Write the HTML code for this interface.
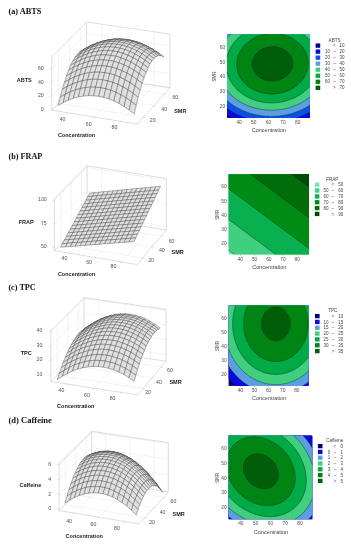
<!DOCTYPE html>
<html lang="en"><head><meta charset="utf-8"><title>Response surface and contour plots</title>
<style>html,body{margin:0;padding:0;background:#fff}body{width:351px;height:550px;overflow:hidden}svg{display:block}</style></head><body>
<svg width="351" height="550" viewBox="0 0 351 550">
<rect width="351" height="550" fill="#fff"/>
<text x="8.4" y="14.4" textLength="33.1" lengthAdjust="spacingAndGlyphs" font-family='"Liberation Serif", serif' font-size="8.4" font-weight="bold" fill="#111">(a) ABTS</text>
<text x="8.4" y="158.9" textLength="34" lengthAdjust="spacingAndGlyphs" font-family='"Liberation Serif", serif' font-size="8.4" font-weight="bold" fill="#111">(b) FRAP</text>
<text x="8.4" y="289.8" textLength="27.4" lengthAdjust="spacingAndGlyphs" font-family='"Liberation Serif", serif' font-size="8.4" font-weight="bold" fill="#111">(c) TPC</text>
<text x="8.4" y="422.5" textLength="43.5" lengthAdjust="spacingAndGlyphs" font-family='"Liberation Serif", serif' font-size="8.4" font-weight="bold" fill="#111">(d) Caffeine</text>
<g font-family='"Liberation Sans", sans-serif'><line x1="51.8" y1="110.2" x2="86.6" y2="75.4" stroke="#e6e6e6" stroke-width="0.5"/><line x1="86.6" y1="75.4" x2="170" y2="87.7" stroke="#e6e6e6" stroke-width="0.5"/><line x1="51.8" y1="96.33" x2="86.6" y2="61.48" stroke="#e6e6e6" stroke-width="0.5"/><line x1="86.6" y1="61.48" x2="170" y2="73.73" stroke="#e6e6e6" stroke-width="0.5"/><line x1="51.8" y1="82.47" x2="86.6" y2="47.56" stroke="#e6e6e6" stroke-width="0.5"/><line x1="86.6" y1="47.56" x2="170" y2="59.76" stroke="#e6e6e6" stroke-width="0.5"/><line x1="51.8" y1="68.6" x2="86.6" y2="33.64" stroke="#e6e6e6" stroke-width="0.5"/><line x1="86.6" y1="33.64" x2="170" y2="45.79" stroke="#e6e6e6" stroke-width="0.5"/><line x1="101.66" y1="77.62" x2="101.66" y2="24.19" stroke="#e6e6e6" stroke-width="0.5"/><line x1="67.23" y1="112.71" x2="101.66" y2="77.62" stroke="#e6e6e6" stroke-width="0.5"/><line x1="127.97" y1="81.5" x2="127.97" y2="28" stroke="#e6e6e6" stroke-width="0.5"/><line x1="94.16" y1="117.09" x2="127.97" y2="81.5" stroke="#e6e6e6" stroke-width="0.5"/><line x1="154.27" y1="85.38" x2="154.27" y2="31.82" stroke="#e6e6e6" stroke-width="0.5"/><line x1="121.09" y1="121.48" x2="154.27" y2="85.38" stroke="#e6e6e6" stroke-width="0.5"/><line x1="58.47" y1="103.53" x2="58.47" y2="50.29" stroke="#e6e6e6" stroke-width="0.5"/><line x1="58.47" y1="103.53" x2="143.49" y2="117.12" stroke="#e6e6e6" stroke-width="0.5"/><line x1="69.55" y1="92.45" x2="69.55" y2="39.15" stroke="#e6e6e6" stroke-width="0.5"/><line x1="69.55" y1="92.45" x2="153.93" y2="105.54" stroke="#e6e6e6" stroke-width="0.5"/><line x1="80.62" y1="81.38" x2="80.62" y2="28.01" stroke="#e6e6e6" stroke-width="0.5"/><line x1="80.62" y1="81.38" x2="164.36" y2="93.95" stroke="#e6e6e6" stroke-width="0.5"/><line x1="51.8" y1="110.2" x2="51.8" y2="57" stroke="#c6c6c6" stroke-width="0.6"/><line x1="86.6" y1="75.4" x2="86.6" y2="22" stroke="#c6c6c6" stroke-width="0.6"/><line x1="170" y1="87.7" x2="170" y2="34.1" stroke="#c6c6c6" stroke-width="0.6"/><line x1="51.8" y1="57" x2="86.6" y2="22" stroke="#c6c6c6" stroke-width="0.6"/><line x1="86.6" y1="22" x2="170" y2="34.1" stroke="#c6c6c6" stroke-width="0.6"/><line x1="51.8" y1="110.2" x2="137.2" y2="124.1" stroke="#c6c6c6" stroke-width="0.6"/><line x1="137.2" y1="124.1" x2="170" y2="87.7" stroke="#c6c6c6" stroke-width="0.6"/><line x1="51.8" y1="110.2" x2="86.6" y2="75.4" stroke="#c6c6c6" stroke-width="0.6"/><line x1="86.6" y1="75.4" x2="170" y2="87.7" stroke="#c6c6c6" stroke-width="0.6"/><g fill="#e0e0e0" stroke="#383838" stroke-width="0.38" stroke-linejoin="round"><polygon points="87.3,50.9 92.27,47.8 94.35,49.12 89.38,52.24"/><polygon points="85.22,50.27 90.2,47.19 92.27,47.8 87.3,50.9"/><polygon points="92.27,47.8 97.24,45.19 99.31,46.49 94.35,49.12"/><polygon points="83.14,50.33 88.12,47.27 90.2,47.19 85.22,50.27"/><polygon points="90.2,47.19 95.18,44.59 97.24,45.19 92.27,47.8"/><polygon points="97.24,45.19 102.21,43.07 104.27,44.35 99.31,46.49"/><polygon points="81.05,51.09 86.05,48.04 88.12,47.27 83.14,50.33"/><polygon points="88.12,47.27 93.11,44.69 95.18,44.59 90.2,47.19"/><polygon points="95.18,44.59 100.15,42.49 102.21,43.07 97.24,45.19"/><polygon points="102.21,43.07 107.19,41.44 109.24,42.7 104.27,44.35"/><polygon points="78.97,52.55 83.97,49.52 86.05,48.04 81.05,51.09"/><polygon points="86.05,48.04 91.04,45.48 93.11,44.69 88.12,47.27"/><polygon points="93.11,44.69 98.09,42.6 100.15,42.49 95.18,44.59"/><polygon points="100.15,42.49 105.13,40.87 107.19,41.44 102.21,43.07"/><polygon points="107.19,41.44 112.16,40.29 114.2,41.54 109.24,42.7"/><polygon points="76.89,54.71 81.9,51.69 83.97,49.52 78.97,52.55"/><polygon points="83.97,49.52 88.97,46.98 91.04,45.48 86.05,48.04"/><polygon points="91.04,45.48 96.03,43.41 98.09,42.6 93.11,44.69"/><polygon points="98.09,42.6 103.08,41 105.13,40.87 100.15,42.49"/><polygon points="105.13,40.87 110.11,39.74 112.16,40.29 107.19,41.44"/><polygon points="112.16,40.29 117.13,39.64 119.17,40.87 114.2,41.54"/><polygon points="74.81,57.56 79.82,54.56 81.9,51.69 76.89,54.71"/><polygon points="81.9,51.69 86.9,49.17 88.97,46.98 83.97,49.52"/><polygon points="88.97,46.98 93.97,44.92 96.03,43.41 91.04,45.48"/><polygon points="96.03,43.41 101.03,41.83 103.08,41 98.09,42.6"/><polygon points="103.08,41 108.06,39.89 110.11,39.74 105.13,40.87"/><polygon points="110.11,39.74 115.09,39.1 117.13,39.64 112.16,40.29"/><polygon points="117.13,39.64 122.1,39.47 124.13,40.69 119.17,40.87"/><polygon points="72.73,61.11 77.75,58.13 79.82,54.56 74.81,57.56"/><polygon points="79.82,54.56 84.84,52.06 86.9,49.17 81.9,51.69"/><polygon points="86.9,49.17 91.91,47.13 93.97,44.92 88.97,46.98"/><polygon points="93.97,44.92 98.97,43.36 101.03,41.83 96.03,43.41"/><polygon points="101.03,41.83 106.02,40.74 108.06,39.89 103.08,41"/><polygon points="108.06,39.89 113.05,39.27 115.09,39.1 110.11,39.74"/><polygon points="115.09,39.1 120.07,38.96 122.1,39.47 117.13,39.64"/><polygon points="122.1,39.47 127.07,39.8 129.1,41 124.13,40.69"/><polygon points="70.64,65.35 75.67,62.39 77.75,58.13 72.73,61.11"/><polygon points="77.75,58.13 82.77,55.64 84.84,52.06 79.82,54.56"/><polygon points="84.84,52.06 89.85,50.04 91.91,47.13 86.9,49.17"/><polygon points="91.91,47.13 96.92,45.58 98.97,43.36 93.97,44.92"/><polygon points="98.97,43.36 103.97,42.28 106.02,40.74 101.03,41.83"/><polygon points="106.02,40.74 111.01,40.13 113.05,39.27 108.06,39.89"/><polygon points="113.05,39.27 118.04,39.14 120.07,38.96 115.09,39.1"/><polygon points="120.07,38.96 125.05,39.3 127.07,39.8 122.1,39.47"/><polygon points="127.07,39.8 132.04,40.62 134.06,41.8 129.1,41"/><polygon points="68.56,70.29 73.6,67.35 75.67,62.39 70.64,65.35"/><polygon points="75.67,62.39 80.7,59.92 82.77,55.64 77.75,58.13"/><polygon points="82.77,55.64 87.79,53.64 89.85,50.04 84.84,52.06"/><polygon points="89.85,50.04 94.86,48.51 96.92,45.58 91.91,47.13"/><polygon points="96.92,45.58 101.93,44.53 103.97,42.28 98.97,43.36"/><polygon points="103.97,42.28 108.97,41.7 111.01,40.13 106.02,40.74"/><polygon points="111.01,40.13 116,40.02 118.04,39.14 113.05,39.27"/><polygon points="118.04,39.14 123.02,39.5 125.05,39.3 120.07,38.96"/><polygon points="125.05,39.3 130.02,40.13 132.04,40.62 127.07,39.8"/><polygon points="132.04,40.62 137.01,41.93 139.02,43.1 134.06,41.8"/><polygon points="66.48,75.93 71.52,73.01 73.6,67.35 68.56,70.29"/><polygon points="73.6,67.35 78.63,64.9 80.7,59.92 75.67,62.39"/><polygon points="80.7,59.92 85.73,57.94 87.79,53.64 82.77,55.64"/><polygon points="87.79,53.64 92.81,52.13 94.86,48.51 89.85,50.04"/><polygon points="94.86,48.51 99.88,47.47 101.93,44.53 96.92,45.58"/><polygon points="101.93,44.53 106.93,43.96 108.97,41.7 103.97,42.28"/><polygon points="108.97,41.7 113.97,41.6 116,40.02 111.01,40.13"/><polygon points="116,40.02 121,40.39 123.02,39.5 118.04,39.14"/><polygon points="123.02,39.5 128.01,40.35 130.02,40.13 125.05,39.3"/><polygon points="130.02,40.13 135,41.46 137.01,41.93 132.04,40.62"/><polygon points="137.01,41.93 141.99,43.73 143.99,44.88 139.02,43.1"/><polygon points="64.4,82.26 69.45,79.36 71.52,73.01 66.48,75.93"/><polygon points="71.52,73.01 76.57,70.57 78.63,64.9 73.6,67.35"/><polygon points="78.63,64.9 83.67,62.94 85.73,57.94 80.7,59.92"/><polygon points="85.73,57.94 90.76,56.45 92.81,52.13 87.79,53.64"/><polygon points="92.81,52.13 97.83,51.11 99.88,47.47 94.86,48.51"/><polygon points="99.88,47.47 104.89,46.91 106.93,43.96 101.93,44.53"/><polygon points="106.93,43.96 111.94,43.88 113.97,41.6 108.97,41.7"/><polygon points="113.97,41.6 118.97,41.99 121,40.39 116,40.02"/><polygon points="121,40.39 125.99,41.26 128.01,40.35 123.02,39.5"/><polygon points="128.01,40.35 132.99,41.69 135,41.46 130.02,40.13"/><polygon points="135,41.46 139.98,43.27 141.99,43.73 137.01,41.93"/><polygon points="141.99,43.73 146.96,46.02 148.95,47.16 143.99,44.88"/><polygon points="62.32,89.28 67.37,86.4 69.45,79.36 64.4,82.26"/><polygon points="69.45,79.36 74.5,76.94 76.57,70.57 71.52,73.01"/><polygon points="76.57,70.57 81.61,68.63 83.67,62.94 78.63,64.9"/><polygon points="83.67,62.94 88.7,61.46 90.76,56.45 85.73,57.94"/><polygon points="90.76,56.45 95.79,55.44 97.83,51.11 92.81,52.13"/><polygon points="97.83,51.11 102.85,50.57 104.89,46.91 99.88,47.47"/><polygon points="104.89,46.91 109.91,46.85 111.94,43.88 106.93,43.96"/><polygon points="111.94,43.88 116.95,44.29 118.97,41.99 113.97,41.6"/><polygon points="118.97,41.99 123.97,42.87 125.99,41.26 121,40.39"/><polygon points="125.99,41.26 130.98,42.62 132.99,41.69 128.01,40.35"/><polygon points="132.99,41.69 137.98,43.52 139.98,43.27 135,41.46"/><polygon points="139.98,43.27 144.96,45.58 146.96,46.02 141.99,43.73"/><polygon points="146.96,46.02 151.93,48.8 153.92,49.92 148.95,47.16"/><polygon points="60.23,97 65.3,94.14 67.37,86.4 62.32,89.28"/><polygon points="67.37,86.4 72.43,84 74.5,76.94 69.45,79.36"/><polygon points="74.5,76.94 79.55,75.01 81.61,68.63 76.57,70.57"/><polygon points="81.61,68.63 86.65,67.17 88.7,61.46 83.67,62.94"/><polygon points="88.7,61.46 93.74,60.47 95.79,55.44 90.76,56.45"/><polygon points="95.79,55.44 100.82,54.92 102.85,50.57 97.83,51.11"/><polygon points="102.85,50.57 107.88,50.53 109.91,46.85 104.89,46.91"/><polygon points="109.91,46.85 114.92,47.28 116.95,44.29 111.94,43.88"/><polygon points="116.95,44.29 121.95,45.19 123.97,42.87 118.97,41.99"/><polygon points="123.97,42.87 128.97,44.25 130.98,42.62 125.99,41.26"/><polygon points="130.98,42.62 135.98,44.47 137.98,43.52 132.99,41.69"/><polygon points="137.98,43.52 142.96,45.84 144.96,45.58 139.98,43.27"/><polygon points="144.96,45.58 149.94,48.38 151.93,48.8 146.96,46.02"/><polygon points="151.93,48.8 156.9,52.08 158.88,53.18 153.92,49.92"/><polygon points="58.15,105.41 63.22,102.57 65.3,94.14 60.23,97"/><polygon points="65.3,94.14 70.36,91.76 72.43,84 67.37,86.4"/><polygon points="72.43,84 77.49,82.09 79.55,75.01 74.5,76.94"/><polygon points="79.55,75.01 84.6,73.57 86.65,67.17 81.61,68.63"/><polygon points="86.65,67.17 91.69,66.2 93.74,60.47 88.7,61.46"/><polygon points="93.74,60.47 98.78,59.97 100.82,54.92 95.79,55.44"/><polygon points="100.82,54.92 105.84,54.9 107.88,50.53 102.85,50.57"/><polygon points="107.88,50.53 112.9,50.97 114.92,47.28 109.91,46.85"/><polygon points="114.92,47.28 119.94,48.2 121.95,45.19 116.95,44.29"/><polygon points="121.95,45.19 126.96,46.58 128.97,44.25 123.97,42.87"/><polygon points="128.97,44.25 133.97,46.11 135.98,44.47 130.98,42.62"/><polygon points="135.98,44.47 140.97,46.81 142.96,45.84 137.98,43.52"/><polygon points="142.96,45.84 147.95,48.66 149.94,48.38 144.96,45.58"/><polygon points="149.94,48.38 154.92,51.67 156.9,52.08 151.93,48.8"/><polygon points="156.9,52.08 161.87,55.85 163.85,56.94 158.88,53.18"/><polygon points="63.22,102.57 68.29,100.21 70.36,91.76 65.3,94.14"/><polygon points="70.36,91.76 75.43,89.87 77.49,82.09 72.43,84"/><polygon points="77.49,82.09 82.54,80.67 84.6,73.57 79.55,75.01"/><polygon points="84.6,73.57 89.65,72.62 91.69,66.2 86.65,67.17"/><polygon points="91.69,66.2 96.74,65.72 98.78,59.97 93.74,60.47"/><polygon points="98.78,59.97 103.81,59.96 105.84,54.9 100.82,54.92"/><polygon points="105.84,54.9 110.87,55.36 112.9,50.97 107.88,50.53"/><polygon points="112.9,50.97 117.92,51.9 119.94,48.2 114.92,47.28"/><polygon points="119.94,48.2 124.95,49.6 126.96,46.58 121.95,45.19"/><polygon points="126.96,46.58 131.97,48.46 133.97,46.11 128.97,44.25"/><polygon points="133.97,46.11 138.97,48.47 140.97,46.81 135.98,44.47"/><polygon points="140.97,46.81 145.96,49.64 147.95,48.66 142.96,45.84"/><polygon points="147.95,48.66 152.94,51.97 154.92,51.67 149.94,48.38"/><polygon points="154.92,51.67 159.9,55.46 161.87,55.85 156.9,52.08"/><polygon points="68.29,100.21 73.37,98.33 75.43,89.87 70.36,91.76"/><polygon points="75.43,89.87 80.49,88.46 82.54,80.67 77.49,82.09"/><polygon points="82.54,80.67 87.6,79.74 89.65,72.62 84.6,73.57"/><polygon points="89.65,72.62 94.7,72.16 96.74,65.72 91.69,66.2"/><polygon points="96.74,65.72 101.78,65.73 103.81,59.96 98.78,59.97"/><polygon points="103.81,59.96 108.85,60.44 110.87,55.36 105.84,54.9"/><polygon points="110.87,55.36 115.9,56.31 117.92,51.9 112.9,50.97"/><polygon points="117.92,51.9 122.94,53.33 124.95,49.6 119.94,48.2"/><polygon points="124.95,49.6 129.96,51.5 131.97,48.46 126.96,46.58"/><polygon points="131.97,48.46 136.98,50.83 138.97,48.47 133.97,46.11"/><polygon points="138.97,48.47 143.97,51.32 145.96,49.64 140.97,46.81"/><polygon points="145.96,49.64 150.95,52.96 152.94,51.97 147.95,48.66"/><polygon points="152.94,51.97 157.92,55.77 159.9,55.46 154.92,51.67"/><polygon points="73.37,98.33 78.44,96.95 80.49,88.46 75.43,89.87"/><polygon points="80.49,88.46 85.55,87.55 87.6,79.74 82.54,80.67"/><polygon points="87.6,79.74 92.66,79.29 94.7,72.16 89.65,72.62"/><polygon points="94.7,72.16 99.75,72.18 101.78,65.73 96.74,65.72"/><polygon points="101.78,65.73 106.82,66.22 108.85,60.44 103.81,59.96"/><polygon points="108.85,60.44 113.88,61.41 115.9,56.31 110.87,55.36"/><polygon points="115.9,56.31 120.93,57.75 122.94,53.33 117.92,51.9"/><polygon points="122.94,53.33 127.96,55.25 129.96,51.5 124.95,49.6"/><polygon points="129.96,51.5 134.98,53.89 136.98,50.83 131.97,48.46"/><polygon points="136.98,50.83 141.98,53.7 143.97,51.32 138.97,48.47"/><polygon points="143.97,51.32 148.97,54.66 150.95,52.96 145.96,49.64"/><polygon points="150.95,52.96 155.95,56.78 157.92,55.77 152.94,51.97"/><polygon points="78.44,96.95 83.51,96.05 85.55,87.55 80.49,88.46"/><polygon points="85.55,87.55 90.62,87.12 92.66,79.29 87.6,79.74"/><polygon points="92.66,79.29 97.72,79.34 99.75,72.18 94.7,72.16"/><polygon points="99.75,72.18 104.8,72.7 106.82,66.22 101.78,65.73"/><polygon points="106.82,66.22 111.86,67.21 113.88,61.41 108.85,60.44"/><polygon points="113.88,61.41 118.92,62.87 120.93,57.75 115.9,56.31"/><polygon points="120.93,57.75 125.96,59.68 127.96,55.25 122.94,53.33"/><polygon points="127.96,55.25 132.98,57.65 134.98,53.89 129.96,51.5"/><polygon points="134.98,53.89 139.99,56.77 141.98,53.7 136.98,50.83"/><polygon points="141.98,53.7 146.99,57.05 148.97,54.66 143.97,51.32"/><polygon points="148.97,54.66 153.97,58.49 155.95,56.78 150.95,52.96"/><polygon points="83.51,96.05 88.58,95.65 90.62,87.12 85.55,87.55"/><polygon points="90.62,87.12 95.68,87.18 97.72,79.34 92.66,79.29"/><polygon points="97.72,79.34 102.77,79.87 104.8,72.7 99.75,72.18"/><polygon points="104.8,72.7 109.85,73.7 111.86,67.21 106.82,66.22"/><polygon points="111.86,67.21 116.91,68.69 118.92,62.87 113.88,61.41"/><polygon points="118.92,62.87 123.95,64.82 125.96,59.68 120.93,57.75"/><polygon points="125.96,59.68 130.99,62.11 132.98,57.65 127.96,55.25"/><polygon points="132.98,57.65 138,60.55 139.99,56.77 134.98,53.89"/><polygon points="139.99,56.77 145.01,60.15 146.99,57.05 141.98,53.7"/><polygon points="146.99,57.05 152,60.9 153.97,58.49 148.97,54.66"/><polygon points="88.58,95.65 93.65,95.73 95.68,87.18 90.62,87.12"/><polygon points="95.68,87.18 100.75,87.74 102.77,79.87 97.72,79.34"/><polygon points="102.77,79.87 107.83,80.89 109.85,73.7 104.8,72.7"/><polygon points="109.85,73.7 114.9,75.2 116.91,68.69 111.86,67.21"/><polygon points="116.91,68.69 121.95,70.65 123.95,64.82 118.92,62.87"/><polygon points="123.95,64.82 128.99,67.26 130.99,62.11 125.96,59.68"/><polygon points="130.99,62.11 136.01,65.02 138,60.55 132.98,57.65"/><polygon points="138,60.55 143.03,63.94 145.01,60.15 139.99,56.77"/><polygon points="145.01,60.15 150.02,64.01 152,60.9 146.99,57.05"/><polygon points="93.65,95.73 98.72,96.3 100.75,87.74 95.68,87.18"/><polygon points="100.75,87.74 105.81,88.78 107.83,80.89 102.77,79.87"/><polygon points="107.83,80.89 112.89,82.41 114.9,75.2 109.85,73.7"/><polygon points="114.9,75.2 119.95,77.18 121.95,70.65 116.91,68.69"/><polygon points="121.95,70.65 126.99,73.11 128.99,67.26 123.95,64.82"/><polygon points="128.99,67.26 134.03,70.19 136.01,65.02 130.99,62.11"/><polygon points="136.01,65.02 141.04,68.43 143.03,63.94 138,60.55"/><polygon points="143.03,63.94 148.05,67.82 150.02,64.01 145.01,60.15"/><polygon points="98.72,96.3 103.79,97.36 105.81,88.78 100.75,87.74"/><polygon points="105.81,88.78 110.88,90.31 112.89,82.41 107.83,80.89"/><polygon points="112.89,82.41 117.94,84.41 119.95,77.18 114.9,75.2"/><polygon points="119.95,77.18 125,79.66 126.99,73.11 121.95,70.65"/><polygon points="126.99,73.11 132.04,76.06 134.03,70.19 128.99,67.26"/><polygon points="134.03,70.19 139.06,73.62 141.04,68.43 136.01,65.02"/><polygon points="141.04,68.43 146.07,72.33 148.05,67.82 143.03,63.94"/><polygon points="103.79,97.36 108.87,98.9 110.88,90.31 105.81,88.78"/><polygon points="110.88,90.31 115.94,92.33 117.94,84.41 112.89,82.41"/><polygon points="117.94,84.41 123,86.9 125,79.66 119.95,77.18"/><polygon points="125,79.66 130.05,82.63 132.04,76.06 126.99,73.11"/><polygon points="132.04,76.06 137.08,79.5 139.06,73.62 134.03,70.19"/><polygon points="139.06,73.62 144.1,77.53 146.07,72.33 141.04,68.43"/><polygon points="108.87,98.9 113.94,100.94 115.94,92.33 110.88,90.31"/><polygon points="115.94,92.33 121,94.84 123,86.9 117.94,84.41"/><polygon points="123,86.9 128.06,89.89 130.05,82.63 125,79.66"/><polygon points="130.05,82.63 135.1,86.08 137.08,79.5 132.04,76.06"/><polygon points="137.08,79.5 142.12,83.43 144.1,77.53 139.06,73.62"/><polygon points="113.94,100.94 119.01,103.47 121,94.84 115.94,92.33"/><polygon points="121,94.84 126.07,97.84 128.06,89.89 123,86.9"/><polygon points="128.06,89.89 133.11,93.36 135.1,86.08 130.05,82.63"/><polygon points="135.1,86.08 140.15,90.03 142.12,83.43 137.08,79.5"/><polygon points="119.01,103.47 124.08,106.49 126.07,97.84 121,94.84"/><polygon points="126.07,97.84 131.13,101.33 133.11,93.36 128.06,89.89"/><polygon points="133.11,93.36 138.17,97.33 140.15,90.03 135.1,86.08"/><polygon points="124.08,106.49 129.15,110 131.13,101.33 126.07,97.84"/><polygon points="131.13,101.33 136.2,105.32 138.17,97.33 133.11,93.36"/><polygon points="129.15,110 134.22,114.01 136.2,105.32 131.13,101.33"/></g><line x1="49.8" y1="110.2" x2="51.8" y2="110.2" stroke="#c6c6c6" stroke-width="0.5"/><text x="43.7" y="111.37" text-anchor="end" font-size="5.2" fill="#505050">0</text><line x1="49.8" y1="96.3" x2="51.8" y2="96.3" stroke="#c6c6c6" stroke-width="0.5"/><text x="43.7" y="97.47" text-anchor="end" font-size="5.2" fill="#505050">20</text><line x1="49.8" y1="82.5" x2="51.8" y2="82.5" stroke="#c6c6c6" stroke-width="0.5"/><text x="43.7" y="83.67" text-anchor="end" font-size="5.2" fill="#505050">40</text><line x1="49.8" y1="68.6" x2="51.8" y2="68.6" stroke="#c6c6c6" stroke-width="0.5"/><text x="43.7" y="69.77" text-anchor="end" font-size="5.2" fill="#505050">60</text><line x1="67.23" y1="112.71" x2="66.43" y2="114.51" stroke="#c6c6c6" stroke-width="0.5"/><text x="62.6" y="120.97" text-anchor="middle" font-size="5.2" fill="#505050">40</text><line x1="94.16" y1="117.09" x2="93.36" y2="118.89" stroke="#c6c6c6" stroke-width="0.5"/><text x="88.7" y="125.57" text-anchor="middle" font-size="5.2" fill="#505050">60</text><line x1="121.09" y1="121.48" x2="120.29" y2="123.28" stroke="#c6c6c6" stroke-width="0.5"/><text x="114.4" y="129.47" text-anchor="middle" font-size="5.2" fill="#505050">80</text><line x1="143.49" y1="117.12" x2="145.29" y2="117.92" stroke="#c6c6c6" stroke-width="0.5"/><text x="152.7" y="122.07" text-anchor="middle" font-size="5.2" fill="#505050">20</text><line x1="153.93" y1="105.54" x2="155.73" y2="106.34" stroke="#c6c6c6" stroke-width="0.5"/><text x="164.2" y="110.87" text-anchor="middle" font-size="5.2" fill="#505050">40</text><line x1="164.36" y1="93.95" x2="166.16" y2="94.75" stroke="#c6c6c6" stroke-width="0.5"/><text x="175.3" y="99.47" text-anchor="middle" font-size="5.2" fill="#505050">60</text><text x="16.8" y="81.8" font-size="5.5" font-weight="bold" fill="#222">ABTS</text><text x="57.9" y="136.8" font-size="5.5" font-weight="bold" fill="#222">Concentration</text><text x="174.2" y="113" font-size="5.5" font-weight="bold" fill="#222">SMR</text></g>
<g font-family='"Liberation Sans", sans-serif'><rect x="227" y="34.3" width="82.8" height="83.6" fill="#000080"/><path fill-rule="evenodd" d="M230.4 116.9L231.1 117.3L232.2 117.8L232.3 117.9L233.2 117.9L234.2 117.9L235.3 117.9L236.3 117.9L237.3 117.9L238.4 117.9L239.4 117.9L240.5 117.9L241.5 117.9L242.5 117.9L243.6 117.9L244.6 117.9L245.6 117.9L246.7 117.9L247.7 117.9L248.7 117.9L249.8 117.9L250.8 117.9L251.8 117.9L252.9 117.9L253.9 117.9L254.9 117.9L256 117.9L257 117.9L258.1 117.9L259.1 117.9L260.1 117.9L261.2 117.9L262.2 117.9L263.2 117.9L264.3 117.9L265.3 117.9L266.3 117.9L267.4 117.9L268.4 117.9L269.4 117.9L270.5 117.9L271.5 117.9L272.5 117.9L273.6 117.9L274.6 117.9L275.6 117.9L276.7 117.9L277.7 117.9L278.8 117.9L279.8 117.9L280.8 117.9L281.9 117.9L282.9 117.9L283.9 117.9L285 117.9L286 117.9L287 117.9L288.1 117.9L289.1 117.9L290.1 117.9L291.2 117.9L292.2 117.9L293.2 117.9L294.3 117.9L295.3 117.9L296.3 117.9L297.4 117.9L298.4 117.9L299.5 117.9L300.5 117.9L301.5 117.9L302.6 117.9L303.6 117.9L304.6 117.9L305.7 117.9L306.7 117.9L307.7 117.9L308.8 117.9L309.8 117.9L309.8 116.9L309.8 115.8L309.8 114.8L309.8 113.7L309.8 112.7L309.8 111.6L309.8 110.6L309.8 109.5L309.8 108.5L309.8 107.5L309.8 106.4L309.8 105.4L309.8 104.3L309.8 103.3L309.8 102.2L309.8 101.2L309.8 100.1L309.8 99.1L309.8 98L309.8 97L309.8 96L309.8 94.9L309.8 93.9L309.8 92.8L309.8 91.8L309.8 90.7L309.8 89.7L309.8 88.6L309.8 87.6L309.8 86.6L309.8 85.5L309.8 84.5L309.8 83.4L309.8 82.4L309.8 81.3L309.8 80.3L309.8 79.2L309.8 78.2L309.8 77.1L309.8 76.1L309.8 75.1L309.8 74L309.8 73L309.8 71.9L309.8 70.9L309.8 69.8L309.8 68.8L309.8 67.7L309.8 66.7L309.8 65.7L309.8 64.6L309.8 63.6L309.8 62.5L309.8 61.5L309.8 60.4L309.8 59.4L309.8 58.3L309.8 57.3L309.8 56.2L309.8 55.2L309.8 54.2L309.8 53.1L309.8 52.1L309.8 51L309.8 50L309.8 48.9L309.8 47.9L309.8 46.8L309.8 45.8L309.8 44.7L309.8 43.7L309.8 42.7L309.8 41.6L309.8 40.6L309.8 39.5L309.8 38.5L309.8 37.4L309.8 36.4L309.8 35.3L309.8 34.3L308.8 34.3L307.7 34.3L306.7 34.3L305.7 34.3L304.6 34.3L303.6 34.3L302.6 34.3L301.5 34.3L300.5 34.3L299.5 34.3L298.4 34.3L297.4 34.3L296.3 34.3L295.3 34.3L294.3 34.3L293.2 34.3L292.2 34.3L291.2 34.3L290.1 34.3L289.1 34.3L288.1 34.3L287 34.3L286 34.3L285 34.3L283.9 34.3L282.9 34.3L281.9 34.3L280.8 34.3L279.8 34.3L278.8 34.3L277.7 34.3L276.7 34.3L275.6 34.3L274.6 34.3L273.6 34.3L272.5 34.3L271.5 34.3L270.5 34.3L269.4 34.3L268.4 34.3L267.4 34.3L266.3 34.3L265.3 34.3L264.3 34.3L263.2 34.3L262.2 34.3L261.2 34.3L260.1 34.3L259.1 34.3L258.1 34.3L257 34.3L256 34.3L254.9 34.3L253.9 34.3L252.9 34.3L251.8 34.3L250.8 34.3L249.8 34.3L248.7 34.3L247.7 34.3L246.7 34.3L245.6 34.3L244.6 34.3L243.6 34.3L242.5 34.3L241.5 34.3L240.5 34.3L239.4 34.3L238.4 34.3L237.3 34.3L236.3 34.3L235.3 34.3L234.2 34.3L233.2 34.3L232.2 34.3L231.1 34.3L230.1 34.3L229.1 34.3L228 34.3L227 34.3L227 35.3L227 36.4L227 37.4L227 38.5L227 39.5L227 40.6L227 41.6L227 42.7L227 43.7L227 44.7L227 45.8L227 46.8L227 47.9L227 48.9L227 50L227 51L227 52.1L227 53.1L227 54.2L227 55.2L227 56.2L227 57.3L227 58.3L227 59.4L227 60.4L227 61.5L227 62.5L227 63.6L227 64.6L227 65.7L227 66.7L227 67.7L227 68.8L227 69.8L227 70.9L227 71.9L227 73L227 74L227 75.1L227 76.1L227 77.1L227 78.2L227 79.2L227 80.3L227 81.3L227 82.4L227 83.4L227 84.5L227 85.5L227 86.6L227 87.6L227 88.6L227 89.7L227 90.7L227 91.8L227 92.8L227 93.9L227 94.9L227 96L227 97L227 98L227 99.1L227 100.1L227 101.2L227 102.2L227 103.3L227 104.3L227 105.4L227 106.4L227 107.5L227 108.5L227 109.5L227 110.6L227 111.6L227 112.7L227 113.7L227 114.8L227 114.8L228 115.5L228.6 115.8L229.1 116.1L230.1 116.7Z" fill="#0a0ae0"/><path fill-rule="evenodd" d="M242.9 116.9L243.6 117.1L244.6 117.5L245.6 117.8L245.8 117.9L246.7 117.9L247.7 117.9L248.7 117.9L249.8 117.9L250.8 117.9L251.8 117.9L252.9 117.9L253.9 117.9L254.9 117.9L256 117.9L257 117.9L258.1 117.9L259.1 117.9L260.1 117.9L261.2 117.9L262.2 117.9L263.2 117.9L264.3 117.9L265.3 117.9L266.3 117.9L267.4 117.9L268.4 117.9L269.4 117.9L270.5 117.9L271.5 117.9L272.5 117.9L273.6 117.9L274.6 117.9L275.6 117.9L276.7 117.9L277.7 117.9L278.8 117.9L279.8 117.9L280.8 117.9L281.9 117.9L282.9 117.9L283.9 117.9L285 117.9L286 117.9L287 117.9L288.1 117.9L289.1 117.9L290.1 117.9L291.2 117.9L292.2 117.9L293.2 117.9L294.3 117.9L295.3 117.9L296.3 117.9L296.6 117.9L297.4 117.6L298.4 117.3L299.5 116.9L299.5 116.9L300.5 116.5L301.5 116.1L302.1 115.8L302.6 115.6L303.6 115.2L304.5 114.8L304.6 114.7L305.7 114.2L306.7 113.7L306.7 113.7L307.7 113.2L308.7 112.7L308.8 112.6L309.8 112L309.8 111.6L309.8 110.6L309.8 109.5L309.8 108.5L309.8 107.5L309.8 106.4L309.8 105.4L309.8 104.3L309.8 103.3L309.8 102.2L309.8 101.2L309.8 100.1L309.8 99.1L309.8 98L309.8 97L309.8 96L309.8 94.9L309.8 93.9L309.8 92.8L309.8 91.8L309.8 90.7L309.8 89.7L309.8 88.6L309.8 87.6L309.8 86.6L309.8 85.5L309.8 84.5L309.8 83.4L309.8 82.4L309.8 81.3L309.8 80.3L309.8 79.2L309.8 78.2L309.8 77.1L309.8 76.1L309.8 75.1L309.8 74L309.8 73L309.8 71.9L309.8 70.9L309.8 69.8L309.8 68.8L309.8 67.7L309.8 66.7L309.8 65.7L309.8 64.6L309.8 63.6L309.8 62.5L309.8 61.5L309.8 60.4L309.8 59.4L309.8 58.3L309.8 57.3L309.8 56.2L309.8 55.2L309.8 54.2L309.8 53.1L309.8 52.1L309.8 51L309.8 50L309.8 48.9L309.8 47.9L309.8 46.8L309.8 45.8L309.8 44.7L309.8 43.7L309.8 42.7L309.8 41.6L309.8 40.6L309.8 39.5L309.8 38.5L309.8 37.4L309.8 36.4L309.8 35.3L309.8 34.3L308.8 34.3L307.7 34.3L306.7 34.3L305.7 34.3L304.6 34.3L303.6 34.3L302.6 34.3L301.5 34.3L300.5 34.3L299.5 34.3L298.4 34.3L297.4 34.3L296.3 34.3L295.3 34.3L294.3 34.3L293.2 34.3L292.2 34.3L291.2 34.3L290.1 34.3L289.1 34.3L288.1 34.3L287 34.3L286 34.3L285 34.3L283.9 34.3L282.9 34.3L281.9 34.3L280.8 34.3L279.8 34.3L278.8 34.3L277.7 34.3L276.7 34.3L275.6 34.3L274.6 34.3L273.6 34.3L272.5 34.3L271.5 34.3L270.5 34.3L269.4 34.3L268.4 34.3L267.4 34.3L266.3 34.3L265.3 34.3L264.3 34.3L263.2 34.3L262.2 34.3L261.2 34.3L260.1 34.3L259.1 34.3L258.1 34.3L257 34.3L256 34.3L254.9 34.3L253.9 34.3L252.9 34.3L251.8 34.3L250.8 34.3L249.8 34.3L248.7 34.3L247.7 34.3L246.7 34.3L245.6 34.3L244.6 34.3L243.6 34.3L242.5 34.3L241.5 34.3L240.5 34.3L239.4 34.3L238.4 34.3L237.3 34.3L236.3 34.3L235.3 34.3L234.2 34.3L233.2 34.3L232.2 34.3L231.1 34.3L230.1 34.3L229.1 34.3L228 34.3L227 34.3L227 35.3L227 36.4L227 37.4L227 38.5L227 39.5L227 40.6L227 41.6L227 42.7L227 43.7L227 44.7L227 45.8L227 46.8L227 47.9L227 48.9L227 50L227 51L227 52.1L227 53.1L227 54.2L227 55.2L227 56.2L227 57.3L227 58.3L227 59.4L227 60.4L227 61.5L227 62.5L227 63.6L227 64.6L227 65.7L227 66.7L227 67.7L227 68.8L227 69.8L227 70.9L227 71.9L227 73L227 74L227 75.1L227 76.1L227 77.1L227 78.2L227 79.2L227 80.3L227 81.3L227 82.4L227 83.4L227 84.5L227 85.5L227 86.6L227 87.6L227 88.6L227 89.7L227 90.7L227 91.8L227 92.8L227 93.9L227 94.9L227 96L227 97L227 98L227 99.1L227 100.1L227 101.2L227 102.2L227 103.3L227 104.3L227 105.4L227 106.4L227 107.5L227 108.3L227.3 108.5L228 109L228.8 109.5L229.1 109.7L230.1 110.4L230.4 110.6L231.1 111L232.1 111.6L232.2 111.7L233.2 112.3L233.9 112.7L234.2 112.8L235.3 113.4L235.9 113.7L236.3 113.9L237.3 114.4L238 114.8L238.4 114.9L239.4 115.4L240.3 115.8L240.5 115.9L241.5 116.3L242.5 116.7Z" fill="#0b50e6"/><path fill-rule="evenodd" d="M261.8 115.8L262.2 115.9L263.2 116L264.3 116.1L265.3 116.2L266.3 116.3L267.4 116.3L268.4 116.4L269.4 116.4L270.5 116.4L271.5 116.4L272.5 116.4L273.6 116.4L274.6 116.3L275.6 116.3L276.7 116.2L277.7 116.1L278.8 116L279.8 115.9L280.7 115.8L280.8 115.8L281.9 115.6L282.9 115.5L283.9 115.3L285 115.1L286 114.9L286.7 114.8L287 114.7L288.1 114.5L289.1 114.2L290.1 113.9L290.9 113.7L291.2 113.7L292.2 113.4L293.2 113L294.3 112.7L294.3 112.7L295.3 112.3L296.3 112L297.2 111.6L297.4 111.6L298.4 111.2L299.5 110.7L299.8 110.6L300.5 110.3L301.5 109.8L302.1 109.5L302.6 109.3L303.6 108.8L304.2 108.5L304.6 108.3L305.7 107.7L306.1 107.5L306.7 107.1L307.7 106.5L307.9 106.4L308.8 105.9L309.6 105.4L309.8 105.2L309.8 104.3L309.8 103.3L309.8 102.2L309.8 101.2L309.8 100.1L309.8 99.1L309.8 98L309.8 97L309.8 96L309.8 94.9L309.8 93.9L309.8 92.8L309.8 91.8L309.8 90.7L309.8 89.7L309.8 88.6L309.8 87.6L309.8 86.6L309.8 85.5L309.8 84.5L309.8 83.4L309.8 82.4L309.8 81.3L309.8 80.3L309.8 79.2L309.8 78.2L309.8 77.1L309.8 76.1L309.8 75.1L309.8 74L309.8 73L309.8 71.9L309.8 70.9L309.8 69.8L309.8 68.8L309.8 67.7L309.8 66.7L309.8 65.7L309.8 64.6L309.8 63.6L309.8 62.5L309.8 61.5L309.8 60.4L309.8 59.4L309.8 58.3L309.8 57.3L309.8 56.2L309.8 55.2L309.8 54.2L309.8 53.1L309.8 52.1L309.8 51L309.8 50L309.8 48.9L309.8 47.9L309.8 46.8L309.8 45.8L309.8 44.7L309.8 43.7L309.8 42.7L309.8 41.6L309.8 40.6L309.8 39.5L309.8 38.5L309.8 37.4L309.8 36.4L309.8 35.3L309.8 34.3L308.8 34.3L307.7 34.3L306.7 34.3L305.7 34.3L304.6 34.3L303.6 34.3L302.6 34.3L301.5 34.3L300.5 34.3L299.5 34.3L298.4 34.3L297.4 34.3L296.3 34.3L295.3 34.3L294.3 34.3L293.2 34.3L292.2 34.3L291.2 34.3L290.1 34.3L289.1 34.3L288.1 34.3L287 34.3L286 34.3L285 34.3L283.9 34.3L282.9 34.3L281.9 34.3L280.8 34.3L279.8 34.3L278.8 34.3L277.7 34.3L276.7 34.3L275.6 34.3L274.6 34.3L273.6 34.3L272.5 34.3L271.5 34.3L270.5 34.3L269.4 34.3L268.4 34.3L267.4 34.3L266.3 34.3L265.3 34.3L264.3 34.3L263.2 34.3L262.2 34.3L261.2 34.3L260.1 34.3L259.1 34.3L258.1 34.3L257 34.3L256 34.3L254.9 34.3L253.9 34.3L252.9 34.3L251.8 34.3L250.8 34.3L249.8 34.3L248.7 34.3L247.7 34.3L246.7 34.3L245.6 34.3L244.6 34.3L243.6 34.3L242.5 34.3L241.5 34.3L240.5 34.3L239.4 34.3L238.4 34.3L237.3 34.3L236.3 34.3L235.3 34.3L234.2 34.3L233.2 34.3L232.2 34.3L231.1 34.3L230.1 34.3L229.1 34.3L228 34.3L227 34.3L227 35.3L227 36.4L227 37.4L227 38.5L227 39.5L227 40.6L227 41.6L227 42.7L227 43.7L227 44.7L227 45.8L227 46.8L227 47.9L227 48.9L227 50L227 51L227 52.1L227 53.1L227 54.2L227 55.2L227 56.2L227 57.3L227 58.3L227 59.4L227 60.4L227 61.5L227 62.5L227 63.6L227 64.6L227 65.7L227 66.7L227 67.7L227 68.8L227 69.8L227 70.9L227 71.9L227 73L227 74L227 75.1L227 76.1L227 77.1L227 78.2L227 79.2L227 80.3L227 81.3L227 82.4L227 83.4L227 84.5L227 85.5L227 86.6L227 87.6L227 88.6L227 89.7L227 90.7L227 91.8L227 92.8L227 93.9L227 94.9L227 96L227 97L227 98L227 99.1L227 100.1L227 100.5L227.8 101.2L228 101.4L229 102.2L229.1 102.2L230.1 103.1L230.4 103.3L231.1 103.8L231.8 104.3L232.2 104.6L233.2 105.3L233.3 105.4L234.2 106L234.9 106.4L235.3 106.6L236.3 107.2L236.7 107.5L237.3 107.8L238.4 108.4L238.6 108.5L239.4 108.9L240.5 109.5L240.6 109.5L241.5 109.9L242.5 110.4L242.9 110.6L243.6 110.9L244.6 111.3L245.4 111.6L245.6 111.7L246.7 112.1L247.7 112.5L248.3 112.7L248.7 112.8L249.8 113.2L250.8 113.5L251.6 113.7L251.8 113.8L252.9 114.1L253.9 114.3L254.9 114.6L255.8 114.8L256 114.8L257 115L258.1 115.2L259.1 115.4L260.1 115.6L261.2 115.7Z" fill="#5c9fe0"/><path fill-rule="evenodd" d="M262.4 109.5L263.2 109.6L264.3 109.8L265.3 109.9L266.3 110L267.4 110L268.4 110.1L269.4 110.1L270.5 110.2L271.5 110.2L272.5 110.1L273.6 110.1L274.6 110.1L275.6 110L276.7 109.9L277.7 109.8L278.8 109.7L279.8 109.6L280.3 109.5L280.8 109.5L281.9 109.3L282.9 109.1L283.9 108.9L285 108.7L286 108.5L286 108.5L287 108.2L288.1 108L289.1 107.7L289.9 107.5L290.1 107.4L291.2 107L292.2 106.7L293 106.4L293.2 106.3L294.3 105.9L295.3 105.5L295.7 105.4L296.3 105.1L297.4 104.7L298.1 104.3L298.4 104.2L299.5 103.7L300.3 103.3L300.5 103.2L301.5 102.6L302.2 102.2L302.6 102L303.6 101.4L304 101.2L304.6 100.8L305.6 100.1L305.7 100.1L306.7 99.4L307.1 99.1L307.7 98.7L308.6 98L308.8 97.9L309.8 97.1L309.8 97L309.8 96L309.8 94.9L309.8 93.9L309.8 92.8L309.8 91.8L309.8 90.7L309.8 89.7L309.8 88.6L309.8 87.6L309.8 86.6L309.8 85.5L309.8 84.5L309.8 83.4L309.8 82.4L309.8 81.3L309.8 80.3L309.8 79.2L309.8 78.2L309.8 77.1L309.8 76.1L309.8 75.1L309.8 74L309.8 73L309.8 71.9L309.8 70.9L309.8 69.8L309.8 68.8L309.8 67.7L309.8 66.7L309.8 65.7L309.8 64.6L309.8 63.6L309.8 62.5L309.8 61.5L309.8 60.4L309.8 59.4L309.8 58.3L309.8 57.3L309.8 56.2L309.8 55.2L309.8 54.2L309.8 53.1L309.8 52.1L309.8 51L309.8 50L309.8 48.9L309.8 47.9L309.8 46.8L309.8 45.8L309.8 44.7L309.8 43.7L309.8 42.7L309.8 41.6L309.8 40.6L309.8 39.5L309.8 38.5L309.8 37.4L309.8 36.4L309.8 35.3L309.8 34.3L308.8 34.3L307.7 34.3L306.7 34.3L305.7 34.3L304.6 34.3L303.6 34.3L302.6 34.3L301.5 34.3L300.5 34.3L299.5 34.3L298.4 34.3L297.4 34.3L296.3 34.3L295.3 34.3L294.3 34.3L293.2 34.3L292.2 34.3L291.2 34.3L290.1 34.3L289.1 34.3L288.1 34.3L287 34.3L286 34.3L285 34.3L283.9 34.3L282.9 34.3L281.9 34.3L280.8 34.3L279.8 34.3L278.8 34.3L277.7 34.3L276.7 34.3L275.6 34.3L274.6 34.3L273.6 34.3L272.5 34.3L271.5 34.3L270.5 34.3L269.4 34.3L268.4 34.3L267.4 34.3L266.3 34.3L265.3 34.3L264.3 34.3L263.2 34.3L262.2 34.3L261.2 34.3L260.1 34.3L259.1 34.3L258.1 34.3L257 34.3L256 34.3L254.9 34.3L253.9 34.3L252.9 34.3L251.8 34.3L250.8 34.3L249.8 34.3L248.7 34.3L247.7 34.3L246.7 34.3L245.6 34.3L244.6 34.3L243.6 34.3L242.5 34.3L241.5 34.3L240.5 34.3L239.4 34.3L238.4 34.3L237.3 34.3L236.3 34.3L235.3 34.3L234.2 34.3L233.2 34.3L232.2 34.3L231.1 34.3L230.8 34.3L230.1 35L229.7 35.3L229.1 36.1L228.8 36.4L228 37.3L227.9 37.4L227 38.5L227 38.5L227 39.5L227 40.6L227 41.6L227 42.7L227 43.7L227 44.7L227 45.8L227 46.8L227 47.9L227 48.9L227 50L227 51L227 52.1L227 53.1L227 54.2L227 55.2L227 56.2L227 57.3L227 58.3L227 59.4L227 60.4L227 61.5L227 62.5L227 63.6L227 64.6L227 65.7L227 66.7L227 67.7L227 68.8L227 69.8L227 70.9L227 71.9L227 73L227 74L227 75.1L227 76.1L227 77.1L227 78.2L227 79.2L227 80.3L227 81.3L227 82.4L227 83.4L227 84.5L227 85.5L227 86.6L227 87.6L227 88.6L227 89.7L227 90.5L227.2 90.7L228 91.7L228.1 91.8L229 92.8L229.1 92.9L230 93.9L230.1 94L231.1 94.9L231.1 95L232.2 95.9L232.2 96L233.2 96.8L233.4 97L234.2 97.7L234.7 98L235.3 98.5L236.1 99.1L236.3 99.3L237.3 100L237.6 100.1L238.4 100.7L239.1 101.2L239.4 101.3L240.5 102L240.9 102.2L241.5 102.6L242.5 103.1L242.8 103.3L243.6 103.7L244.6 104.2L244.9 104.3L245.6 104.7L246.7 105.1L247.2 105.4L247.7 105.6L248.7 106L249.8 106.4L249.8 106.4L250.8 106.7L251.8 107.1L252.9 107.4L253 107.5L253.9 107.7L254.9 108L256 108.3L256.8 108.5L257 108.5L258.1 108.8L259.1 109L260.1 109.2L261.2 109.3L262.2 109.5Z" fill="#40cf7e"/><path fill-rule="evenodd" d="M262.9 102.2L263.2 102.3L264.3 102.4L265.3 102.6L266.3 102.7L267.4 102.8L268.4 102.8L269.4 102.9L270.5 102.9L271.5 102.9L272.5 102.9L273.6 102.9L274.6 102.8L275.6 102.8L276.7 102.7L277.7 102.6L278.8 102.4L279.8 102.3L280.2 102.2L280.8 102.1L281.9 101.9L282.9 101.7L283.9 101.5L285 101.2L285.2 101.2L286 101L287 100.7L288.1 100.3L288.7 100.1L289.1 100L290.1 99.6L291.2 99.2L291.5 99.1L292.2 98.8L293.2 98.4L294 98L294.3 97.9L295.3 97.4L296.1 97L296.3 96.9L297.4 96.3L298 96L298.4 95.7L299.5 95.1L299.7 94.9L300.5 94.4L301.3 93.9L301.5 93.7L302.6 93L302.8 92.8L303.6 92.2L304.1 91.8L304.6 91.3L305.3 90.7L305.7 90.4L306.5 89.7L306.7 89.5L307.6 88.6L307.7 88.5L308.6 87.6L308.8 87.4L309.5 86.6L309.8 86.2L309.8 85.5L309.8 84.5L309.8 83.4L309.8 82.4L309.8 81.3L309.8 80.3L309.8 79.2L309.8 78.2L309.8 77.1L309.8 76.1L309.8 75.1L309.8 74L309.8 73L309.8 71.9L309.8 70.9L309.8 69.8L309.8 68.8L309.8 67.7L309.8 66.7L309.8 65.7L309.8 64.6L309.8 63.6L309.8 62.5L309.8 61.5L309.8 60.4L309.8 59.4L309.8 58.3L309.8 57.3L309.8 56.2L309.8 55.2L309.8 54.2L309.8 53.1L309.8 52.1L309.8 51L309.8 50L309.8 48.9L309.8 47.9L309.8 46.8L309.8 45.8L309.8 44.7L309.8 43.7L309.8 42.7L309.8 41.6L309.8 40.6L309.8 40.1L309.3 39.5L308.8 39L308.3 38.5L307.7 37.9L307.2 37.4L306.7 37L306.1 36.4L305.7 36L304.8 35.3L304.6 35.2L303.6 34.4L303.5 34.3L302.6 34.3L301.5 34.3L300.5 34.3L299.5 34.3L298.4 34.3L297.4 34.3L296.3 34.3L295.3 34.3L294.3 34.3L293.2 34.3L292.2 34.3L291.2 34.3L290.1 34.3L289.1 34.3L288.1 34.3L287 34.3L286 34.3L285 34.3L283.9 34.3L282.9 34.3L281.9 34.3L280.8 34.3L279.8 34.3L278.8 34.3L277.7 34.3L276.7 34.3L275.6 34.3L274.6 34.3L273.6 34.3L272.5 34.3L271.5 34.3L270.5 34.3L269.4 34.3L268.4 34.3L267.4 34.3L266.3 34.3L265.3 34.3L264.3 34.3L263.2 34.3L262.2 34.3L261.2 34.3L260.1 34.3L259.1 34.3L258.1 34.3L257 34.3L256 34.3L254.9 34.3L253.9 34.3L252.9 34.3L251.8 34.3L250.8 34.3L249.8 34.3L248.7 34.3L247.7 34.3L246.7 34.3L245.6 34.3L244.6 34.3L243.6 34.3L242.6 34.3L242.5 34.4L241.5 35.2L241.3 35.3L240.5 36L240 36.4L239.4 36.9L238.8 37.4L238.4 37.8L237.7 38.5L237.3 38.8L236.7 39.5L236.3 39.9L235.7 40.6L235.3 41L234.8 41.6L234.2 42.3L233.9 42.7L233.2 43.6L233.2 43.7L232.4 44.7L232.2 45.1L231.7 45.8L231.1 46.8L231.1 46.8L230.5 47.9L230.1 48.6L230 48.9L229.4 50L229.1 50.8L229 51L228.5 52.1L228.2 53.1L228 53.4L227.8 54.2L227.5 55.2L227.2 56.2L227 57.1L227 57.3L227 58.3L227 59.4L227 60.4L227 61.5L227 62.5L227 63.6L227 64.6L227 65.7L227 66.7L227 67.7L227 68.8L227 69.8L227 70.9L227 71.9L227 72L227.2 73L227.5 74L227.9 75.1L228 75.5L228.2 76.1L228.6 77.1L229.1 78.2L229.1 78.2L229.6 79.2L230.1 80.3L230.1 80.3L230.7 81.3L231.1 82.1L231.3 82.4L232 83.4L232.2 83.7L232.7 84.5L233.2 85.2L233.5 85.5L234.2 86.5L234.3 86.6L235.2 87.6L235.3 87.7L236.1 88.6L236.3 88.8L237.2 89.7L237.3 89.9L238.3 90.7L238.4 90.8L239.4 91.7L239.5 91.8L240.5 92.6L240.8 92.8L241.5 93.4L242.2 93.9L242.5 94.1L243.6 94.8L243.7 94.9L244.6 95.5L245.4 96L245.6 96.1L246.7 96.7L247.2 97L247.7 97.3L248.7 97.8L249.3 98L249.8 98.3L250.8 98.7L251.7 99.1L251.8 99.2L252.9 99.6L253.9 99.9L254.5 100.1L254.9 100.3L256 100.6L257 100.9L257.9 101.2L258.1 101.2L259.1 101.5L260.1 101.7L261.2 101.9L262.2 102.1Z" fill="#00aa46"/><path fill-rule="evenodd" d="M268.7 93.9L269.4 93.9L270.5 94L271.5 94L272.5 94L273.6 93.9L274.6 93.9L274.8 93.9L275.6 93.8L276.7 93.7L277.7 93.5L278.8 93.4L279.8 93.2L280.8 93L281.5 92.8L281.9 92.7L282.9 92.5L283.9 92.2L285 91.8L285.1 91.8L286 91.5L287 91.1L287.9 90.7L288.1 90.7L289.1 90.2L290.1 89.7L290.2 89.7L291.2 89.2L292.1 88.6L292.2 88.6L293.2 88L293.8 87.6L294.3 87.3L295.3 86.6L295.3 86.6L296.3 85.8L296.7 85.5L297.4 84.9L297.9 84.5L298.4 84L299.1 83.4L299.5 83L300.1 82.4L300.5 82L301.1 81.3L301.5 80.8L301.9 80.3L302.6 79.5L302.7 79.2L303.4 78.2L303.6 78L304.1 77.1L304.6 76.3L304.7 76.1L305.3 75.1L305.7 74.2L305.8 74L306.2 73L306.6 71.9L306.7 71.6L306.9 70.9L307.2 69.8L307.5 68.8L307.7 67.7L307.7 67.5L307.9 66.7L308 65.7L308.1 64.6L308.1 63.6L308.1 62.5L308 61.5L307.9 60.4L307.8 59.4L307.7 58.9L307.6 58.3L307.4 57.3L307.1 56.2L306.8 55.2L306.7 54.8L306.5 54.2L306 53.1L305.7 52.3L305.6 52.1L305 51L304.6 50.3L304.5 50L303.8 48.9L303.6 48.6L303.1 47.9L302.6 47.1L302.3 46.8L301.5 45.8L301.5 45.8L300.6 44.7L300.5 44.7L299.5 43.7L299.5 43.6L298.4 42.7L298.4 42.7L297.4 41.8L297.2 41.6L296.3 41L295.8 40.6L295.3 40.3L294.3 39.6L294.2 39.5L293.2 38.9L292.5 38.5L292.2 38.3L291.2 37.8L290.5 37.4L290.1 37.3L289.1 36.8L288.1 36.4L288.1 36.4L287 36L286 35.6L285.1 35.3L285 35.3L283.9 35L282.9 34.7L281.9 34.5L280.8 34.3L280.8 34.3L279.8 34.3L278.8 34.3L277.7 34.3L276.7 34.3L275.6 34.3L274.6 34.3L273.6 34.3L272.5 34.3L271.5 34.3L270.5 34.3L269.4 34.3L268.4 34.3L267.4 34.3L266.3 34.3L265.3 34.3L265.3 34.3L264.3 34.5L263.2 34.8L262.2 35L261.2 35.3L261 35.3L260.1 35.6L259.1 36L258.1 36.4L258 36.4L257 36.8L256 37.2L255.6 37.4L254.9 37.7L253.9 38.3L253.5 38.5L252.9 38.8L251.8 39.4L251.7 39.5L250.8 40.1L250.1 40.6L249.8 40.8L248.7 41.6L248.7 41.6L247.7 42.4L247.4 42.7L246.7 43.3L246.2 43.7L245.6 44.3L245.1 44.7L244.6 45.3L244.1 45.8L243.6 46.5L243.2 46.8L242.5 47.7L242.4 47.9L241.7 48.9L241.5 49.2L241 50L240.5 50.8L240.3 51L239.8 52.1L239.4 52.8L239.3 53.1L238.8 54.2L238.4 55.2L238.4 55.2L238 56.2L237.7 57.3L237.4 58.3L237.3 58.7L237.2 59.4L237 60.4L236.9 61.5L236.8 62.5L236.7 63.6L236.7 64.6L236.7 65.7L236.8 66.7L236.9 67.7L237.1 68.8L237.3 69.8L237.3 70L237.6 70.9L237.9 71.9L238.2 73L238.4 73.4L238.6 74L239 75.1L239.4 75.8L239.5 76.1L240.1 77.1L240.5 77.7L240.7 78.2L241.4 79.2L241.5 79.4L242.1 80.3L242.5 80.8L243 81.3L243.6 82L243.9 82.4L244.6 83.1L244.9 83.4L245.6 84.2L245.9 84.5L246.7 85.1L247.1 85.5L247.7 86L248.5 86.6L248.7 86.8L249.8 87.5L249.9 87.6L250.8 88.2L251.6 88.6L251.8 88.8L252.9 89.4L253.5 89.7L253.9 89.9L254.9 90.4L255.7 90.7L256 90.8L257 91.3L258.1 91.7L258.4 91.8L259.1 92L260.1 92.3L261.2 92.6L262 92.8L262.2 92.9L263.2 93.1L264.3 93.3L265.3 93.5L266.3 93.6L267.4 93.7L268.4 93.8Z" fill="#008414"/><path fill-rule="evenodd" d="M266.8 80.3L267.4 80.4L268.4 80.6L269.4 80.7L270.5 80.8L271.5 80.9L272.5 80.9L273.6 80.8L274.6 80.7L275.6 80.6L276.7 80.4L277.3 80.3L277.7 80.2L278.8 79.9L279.8 79.6L280.7 79.2L280.8 79.2L281.9 78.7L282.9 78.2L283 78.2L283.9 77.6L284.7 77.1L285 77L286 76.2L286.1 76.1L287 75.3L287.3 75.1L288.1 74.3L288.4 74L289.1 73.1L289.2 73L290 71.9L290.1 71.7L290.6 70.9L291.2 69.8L291.2 69.8L291.6 68.8L292 67.7L292.2 66.9L292.3 66.7L292.4 65.7L292.6 64.6L292.6 63.6L292.6 62.5L292.5 61.5L292.3 60.4L292.2 60.1L292 59.4L291.7 58.3L291.2 57.3L291.2 57.1L290.7 56.2L290.1 55.3L290.1 55.2L289.3 54.2L289.1 53.9L288.4 53.1L288.1 52.7L287.4 52.1L287 51.7L286.1 51L286 50.9L285 50.2L284.6 50L283.9 49.6L282.9 49L282.8 48.9L281.9 48.5L280.8 48.1L280.2 47.9L279.8 47.7L278.8 47.4L277.7 47.2L276.7 47L275.6 46.8L275.6 46.8L274.6 46.7L273.6 46.7L272.5 46.7L271.5 46.7L270.5 46.8L270.1 46.8L269.4 46.9L268.4 47.1L267.4 47.3L266.3 47.6L265.3 47.9L265.3 47.9L264.3 48.3L263.2 48.7L262.7 48.9L262.2 49.2L261.2 49.8L260.8 50L260.1 50.4L259.2 51L259.1 51.1L258.1 52L258 52.1L257 53L256.9 53.1L256 54.1L255.9 54.2L255.1 55.2L254.9 55.5L254.4 56.2L253.9 57.2L253.9 57.3L253.4 58.3L253 59.4L252.9 59.7L252.7 60.4L252.4 61.5L252.3 62.5L252.2 63.6L252.2 64.6L252.3 65.7L252.4 66.7L252.7 67.7L252.9 68.5L253 68.8L253.4 69.8L253.9 70.9L253.9 71L254.5 71.9L254.9 72.7L255.2 73L256 74L256 74L257 75.1L257 75.1L258.1 76L258.1 76.1L259.1 76.8L259.5 77.1L260.1 77.5L261.2 78.2L261.2 78.2L262.2 78.7L263.2 79.2L263.4 79.2L264.3 79.5L265.3 79.9L266.3 80.2Z" fill="#005e08"/><path d="M227 114.8L228 115.5L228.6 115.8L229.1 116.1L230.1 116.7L230.4 116.9L231.1 117.3L232.2 117.8L232.3 117.9M296.6 117.9L297.4 117.6L298.4 117.3L299.5 116.9L299.5 116.9L300.5 116.5L301.5 116.1L302.1 115.8L302.6 115.6L303.6 115.2L304.5 114.8L304.6 114.7L305.7 114.2L306.7 113.7L306.7 113.7L307.7 113.2L308.7 112.7L308.8 112.6L309.8 112M227 108.3L227.3 108.5L228 109L228.8 109.5L229.1 109.7L230.1 110.4L230.4 110.6L231.1 111L232.1 111.6L232.2 111.7L233.2 112.3L233.9 112.7L234.2 112.8L235.3 113.4L235.9 113.7L236.3 113.9L237.3 114.4L238 114.8L238.4 114.9L239.4 115.4L240.3 115.8L240.5 115.9L241.5 116.3L242.5 116.7L242.9 116.9L243.6 117.1L244.6 117.5L245.6 117.8L245.8 117.9M227 100.5L227.8 101.2L228 101.4L229 102.2L229.1 102.2L230.1 103.1L230.4 103.3L231.1 103.8L231.8 104.3L232.2 104.6L233.2 105.3L233.3 105.4L234.2 106L234.9 106.4L235.3 106.6L236.3 107.2L236.7 107.5L237.3 107.8L238.4 108.4L238.6 108.5L239.4 108.9L240.5 109.5L240.6 109.5L241.5 109.9L242.5 110.4L242.9 110.6L243.6 110.9L244.6 111.3L245.4 111.6L245.6 111.7L246.7 112.1L247.7 112.5L248.3 112.7L248.7 112.8L249.8 113.2L250.8 113.5L251.6 113.7L251.8 113.8L252.9 114.1L253.9 114.3L254.9 114.6L255.8 114.8L256 114.8L257 115L258.1 115.2L259.1 115.4L260.1 115.6L261.2 115.7L261.8 115.8L262.2 115.9L263.2 116L264.3 116.1L265.3 116.2L266.3 116.3L267.4 116.3L268.4 116.4L269.4 116.4L270.5 116.4L271.5 116.4L272.5 116.4L273.6 116.4L274.6 116.3L275.6 116.3L276.7 116.2L277.7 116.1L278.8 116L279.8 115.9L280.7 115.8L280.8 115.8L281.9 115.6L282.9 115.5L283.9 115.3L285 115.1L286 114.9L286.7 114.8L287 114.7L288.1 114.5L289.1 114.2L290.1 113.9L290.9 113.7L291.2 113.7L292.2 113.4L293.2 113L294.3 112.7L294.3 112.7L295.3 112.3L296.3 112L297.2 111.6L297.4 111.6L298.4 111.2L299.5 110.7L299.8 110.6L300.5 110.3L301.5 109.8L302.1 109.5L302.6 109.3L303.6 108.8L304.2 108.5L304.6 108.3L305.7 107.7L306.1 107.5L306.7 107.1L307.7 106.5L307.9 106.4L308.8 105.9L309.6 105.4L309.8 105.2M227 90.5L227.2 90.7L228 91.7L228.1 91.8L229 92.8L229.1 92.9L230 93.9L230.1 94L231.1 94.9L231.1 95L232.2 95.9L232.2 96L233.2 96.8L233.4 97L234.2 97.7L234.7 98L235.3 98.5L236.1 99.1L236.3 99.3L237.3 100L237.6 100.1L238.4 100.7L239.1 101.2L239.4 101.3L240.5 102L240.9 102.2L241.5 102.6L242.5 103.1L242.8 103.3L243.6 103.7L244.6 104.2L244.9 104.3L245.6 104.7L246.7 105.1L247.2 105.4L247.7 105.6L248.7 106L249.8 106.4L249.8 106.4L250.8 106.7L251.8 107.1L252.9 107.4L253 107.5L253.9 107.7L254.9 108L256 108.3L256.8 108.5L257 108.5L258.1 108.8L259.1 109L260.1 109.2L261.2 109.3L262.2 109.5L262.4 109.5L263.2 109.6L264.3 109.8L265.3 109.9L266.3 110L267.4 110L268.4 110.1L269.4 110.1L270.5 110.2L271.5 110.2L272.5 110.1L273.6 110.1L274.6 110.1L275.6 110L276.7 109.9L277.7 109.8L278.8 109.7L279.8 109.6L280.3 109.5L280.8 109.5L281.9 109.3L282.9 109.1L283.9 108.9L285 108.7L286 108.5L286 108.5L287 108.2L288.1 108L289.1 107.7L289.9 107.5L290.1 107.4L291.2 107L292.2 106.7L293 106.4L293.2 106.3L294.3 105.9L295.3 105.5L295.7 105.4L296.3 105.1L297.4 104.7L298.1 104.3L298.4 104.2L299.5 103.7L300.3 103.3L300.5 103.2L301.5 102.6L302.2 102.2L302.6 102L303.6 101.4L304 101.2L304.6 100.8L305.6 100.1L305.7 100.1L306.7 99.4L307.1 99.1L307.7 98.7L308.6 98L308.8 97.9L309.8 97.1M230.8 34.3L230.1 35L229.7 35.3L229.1 36.1L228.8 36.4L228 37.3L227.9 37.4L227 38.5L227 38.5M227 72L227.2 73L227.5 74L227.9 75.1L228 75.5L228.2 76.1L228.6 77.1L229.1 78.2L229.1 78.2L229.6 79.2L230.1 80.3L230.1 80.3L230.7 81.3L231.1 82.1L231.3 82.4L232 83.4L232.2 83.7L232.7 84.5L233.2 85.2L233.5 85.5L234.2 86.5L234.3 86.6L235.2 87.6L235.3 87.7L236.1 88.6L236.3 88.8L237.2 89.7L237.3 89.9L238.3 90.7L238.4 90.8L239.4 91.7L239.5 91.8L240.5 92.6L240.8 92.8L241.5 93.4L242.2 93.9L242.5 94.1L243.6 94.8L243.7 94.9L244.6 95.5L245.4 96L245.6 96.1L246.7 96.7L247.2 97L247.7 97.3L248.7 97.8L249.3 98L249.8 98.3L250.8 98.7L251.7 99.1L251.8 99.2L252.9 99.6L253.9 99.9L254.5 100.1L254.9 100.3L256 100.6L257 100.9L257.9 101.2L258.1 101.2L259.1 101.5L260.1 101.7L261.2 101.9L262.2 102.1L262.9 102.2L263.2 102.3L264.3 102.4L265.3 102.6L266.3 102.7L267.4 102.8L268.4 102.8L269.4 102.9L270.5 102.9L271.5 102.9L272.5 102.9L273.6 102.9L274.6 102.8L275.6 102.8L276.7 102.7L277.7 102.6L278.8 102.4L279.8 102.3L280.2 102.2L280.8 102.1L281.9 101.9L282.9 101.7L283.9 101.5L285 101.2L285.2 101.2L286 101L287 100.7L288.1 100.3L288.7 100.1L289.1 100L290.1 99.6L291.2 99.2L291.5 99.1L292.2 98.8L293.2 98.4L294 98L294.3 97.9L295.3 97.4L296.1 97L296.3 96.9L297.4 96.3L298 96L298.4 95.7L299.5 95.1L299.7 94.9L300.5 94.4L301.3 93.9L301.5 93.7L302.6 93L302.8 92.8L303.6 92.2L304.1 91.8L304.6 91.3L305.3 90.7L305.7 90.4L306.5 89.7L306.7 89.5L307.6 88.6L307.7 88.5L308.6 87.6L308.8 87.4L309.5 86.6L309.8 86.2M309.8 40.1L309.3 39.5L308.8 39L308.3 38.5L307.7 37.9L307.2 37.4L306.7 37L306.1 36.4L305.7 36L304.8 35.3L304.6 35.2L303.6 34.4L303.5 34.3M242.6 34.3L242.5 34.4L241.5 35.2L241.3 35.3L240.5 36L240 36.4L239.4 36.9L238.8 37.4L238.4 37.8L237.7 38.5L237.3 38.8L236.7 39.5L236.3 39.9L235.7 40.6L235.3 41L234.8 41.6L234.2 42.3L233.9 42.7L233.2 43.6L233.2 43.7L232.4 44.7L232.2 45.1L231.7 45.8L231.1 46.8L231.1 46.8L230.5 47.9L230.1 48.6L230 48.9L229.4 50L229.1 50.8L229 51L228.5 52.1L228.2 53.1L228 53.4L227.8 54.2L227.5 55.2L227.2 56.2L227 57.1M265.3 34.3L265.3 34.3L264.3 34.5L263.2 34.8L262.2 35L261.2 35.3L261 35.3L260.1 35.6L259.1 36L258.1 36.4L258 36.4L257 36.8L256 37.2L255.6 37.4L254.9 37.7L253.9 38.3L253.5 38.5L252.9 38.8L251.8 39.4L251.7 39.5L250.8 40.1L250.1 40.6L249.8 40.8L248.7 41.6L248.7 41.6L247.7 42.4L247.4 42.7L246.7 43.3L246.2 43.7L245.6 44.3L245.1 44.7L244.6 45.3L244.1 45.8L243.6 46.5L243.2 46.8L242.5 47.7L242.4 47.9L241.7 48.9L241.5 49.2L241 50L240.5 50.8L240.3 51L239.8 52.1L239.4 52.8L239.3 53.1L238.8 54.2L238.4 55.2L238.4 55.2L238 56.2L237.7 57.3L237.4 58.3L237.3 58.7L237.2 59.4L237 60.4L236.9 61.5L236.8 62.5L236.7 63.6L236.7 64.6L236.7 65.7L236.8 66.7L236.9 67.7L237.1 68.8L237.3 69.8L237.3 70L237.6 70.9L237.9 71.9L238.2 73L238.4 73.4L238.6 74L239 75.1L239.4 75.8L239.5 76.1L240.1 77.1L240.5 77.7L240.7 78.2L241.4 79.2L241.5 79.4L242.1 80.3L242.5 80.8L243 81.3L243.6 82L243.9 82.4L244.6 83.1L244.9 83.4L245.6 84.2L245.9 84.5L246.7 85.1L247.1 85.5L247.7 86L248.5 86.6L248.7 86.8L249.8 87.5L249.9 87.6L250.8 88.2L251.6 88.6L251.8 88.8L252.9 89.4L253.5 89.7L253.9 89.9L254.9 90.4L255.7 90.7L256 90.8L257 91.3L258.1 91.7L258.4 91.8L259.1 92L260.1 92.3L261.2 92.6L262 92.8L262.2 92.9L263.2 93.1L264.3 93.3L265.3 93.5L266.3 93.6L267.4 93.7L268.4 93.8L268.7 93.9L269.4 93.9L270.5 94L271.5 94L272.5 94L273.6 93.9L274.6 93.9L274.8 93.9L275.6 93.8L276.7 93.7L277.7 93.5L278.8 93.4L279.8 93.2L280.8 93L281.5 92.8L281.9 92.7L282.9 92.5L283.9 92.2L285 91.8L285.1 91.8L286 91.5L287 91.1L287.9 90.7L288.1 90.7L289.1 90.2L290.1 89.7L290.2 89.7L291.2 89.2L292.1 88.6L292.2 88.6L293.2 88L293.8 87.6L294.3 87.3L295.3 86.6L295.3 86.6L296.3 85.8L296.7 85.5L297.4 84.9L297.9 84.5L298.4 84L299.1 83.4L299.5 83L300.1 82.4L300.5 82L301.1 81.3L301.5 80.8L301.9 80.3L302.6 79.5L302.7 79.2L303.4 78.2L303.6 78L304.1 77.1L304.6 76.3L304.7 76.1L305.3 75.1L305.7 74.2L305.8 74L306.2 73L306.6 71.9L306.7 71.6L306.9 70.9L307.2 69.8L307.5 68.8L307.7 67.7L307.7 67.5L307.9 66.7L308 65.7L308.1 64.6L308.1 63.6L308.1 62.5L308 61.5L307.9 60.4L307.8 59.4L307.7 58.9L307.6 58.3L307.4 57.3L307.1 56.2L306.8 55.2L306.7 54.8L306.5 54.2L306 53.1L305.7 52.3L305.6 52.1L305 51L304.6 50.3L304.5 50L303.8 48.9L303.6 48.6L303.1 47.9L302.6 47.1L302.3 46.8L301.5 45.8L301.5 45.8L300.6 44.7L300.5 44.7L299.5 43.7L299.5 43.6L298.4 42.7L298.4 42.7L297.4 41.8L297.2 41.6L296.3 41L295.8 40.6L295.3 40.3L294.3 39.6L294.2 39.5L293.2 38.9L292.5 38.5L292.2 38.3L291.2 37.8L290.5 37.4L290.1 37.3L289.1 36.8L288.1 36.4L288.1 36.4L287 36L286 35.6L285.1 35.3L285 35.3L283.9 35L282.9 34.7L281.9 34.5L280.8 34.3M266.8 80.3L267.4 80.4L268.4 80.6L269.4 80.7L270.5 80.8L271.5 80.9L272.5 80.9L273.6 80.8L274.6 80.7L275.6 80.6L276.7 80.4L277.3 80.3L277.7 80.2L278.8 79.9L279.8 79.6L280.7 79.2L280.8 79.2L281.9 78.7L282.9 78.2L283 78.2L283.9 77.6L284.7 77.1L285 77L286 76.2L286.1 76.1L287 75.3L287.3 75.1L288.1 74.3L288.4 74L289.1 73.1L289.2 73L290 71.9L290.1 71.7L290.6 70.9L291.2 69.8L291.2 69.8L291.6 68.8L292 67.7L292.2 66.9L292.3 66.7L292.4 65.7L292.6 64.6L292.6 63.6L292.6 62.5L292.5 61.5L292.3 60.4L292.2 60.1L292 59.4L291.7 58.3L291.2 57.3L291.2 57.1L290.7 56.2L290.1 55.3L290.1 55.2L289.3 54.2L289.1 53.9L288.4 53.1L288.1 52.7L287.4 52.1L287 51.7L286.1 51L286 50.9L285 50.2L284.6 50L283.9 49.6L282.9 49L282.8 48.9L281.9 48.5L280.8 48.1L280.2 47.9L279.8 47.7L278.8 47.4L277.7 47.2L276.7 47L275.6 46.8L275.6 46.8L274.6 46.7L273.6 46.7L272.5 46.7L271.5 46.7L270.5 46.8L270.1 46.8L269.4 46.9L268.4 47.1L267.4 47.3L266.3 47.6L265.3 47.9L265.3 47.9L264.3 48.3L263.2 48.7L262.7 48.9L262.2 49.2L261.2 49.8L260.8 50L260.1 50.4L259.2 51L259.1 51.1L258.1 52L258 52.1L257 53L256.9 53.1L256 54.1L255.9 54.2L255.1 55.2L254.9 55.5L254.4 56.2L253.9 57.2L253.9 57.3L253.4 58.3L253 59.4L252.9 59.7L252.7 60.4L252.4 61.5L252.3 62.5L252.2 63.6L252.2 64.6L252.3 65.7L252.4 66.7L252.7 67.7L252.9 68.5L253 68.8L253.4 69.8L253.9 70.9L253.9 71L254.5 71.9L254.9 72.7L255.2 73L256 74L256 74L257 75.1L257 75.1L258.1 76L258.1 76.1L259.1 76.8L259.5 77.1L260.1 77.5L261.2 78.2L261.2 78.2L262.2 78.7L263.2 79.2L263.4 79.2L264.3 79.5L265.3 79.9L266.3 80.2L266.8 80.3" fill="none" stroke="#0c2a14" stroke-width="0.45"/><line x1="239.13" y1="117.9" x2="239.13" y2="119.3" stroke="#999" stroke-width="0.5"/><text x="239.13" y="124.13" text-anchor="middle" font-size="4.8" fill="#505050">40</text><line x1="253.76" y1="117.9" x2="253.76" y2="119.3" stroke="#999" stroke-width="0.5"/><text x="253.76" y="124.13" text-anchor="middle" font-size="4.8" fill="#505050">50</text><line x1="268.4" y1="117.9" x2="268.4" y2="119.3" stroke="#999" stroke-width="0.5"/><text x="268.4" y="124.13" text-anchor="middle" font-size="4.8" fill="#505050">60</text><line x1="283.04" y1="117.9" x2="283.04" y2="119.3" stroke="#999" stroke-width="0.5"/><text x="283.04" y="124.13" text-anchor="middle" font-size="4.8" fill="#505050">70</text><line x1="297.67" y1="117.9" x2="297.67" y2="119.3" stroke="#999" stroke-width="0.5"/><text x="297.67" y="124.13" text-anchor="middle" font-size="4.8" fill="#505050">80</text><line x1="225.6" y1="105.66" x2="227" y2="105.66" stroke="#999" stroke-width="0.5"/><text x="225.1" y="107.99" text-anchor="end" font-size="4.8" fill="#505050">20</text><line x1="225.6" y1="90.88" x2="227" y2="90.88" stroke="#999" stroke-width="0.5"/><text x="225.1" y="93.21" text-anchor="end" font-size="4.8" fill="#505050">30</text><line x1="225.6" y1="76.1" x2="227" y2="76.1" stroke="#999" stroke-width="0.5"/><text x="225.1" y="78.43" text-anchor="end" font-size="4.8" fill="#505050">40</text><line x1="225.6" y1="61.32" x2="227" y2="61.32" stroke="#999" stroke-width="0.5"/><text x="225.1" y="63.65" text-anchor="end" font-size="4.8" fill="#505050">50</text><line x1="225.6" y1="46.54" x2="227" y2="46.54" stroke="#999" stroke-width="0.5"/><text x="225.1" y="48.87" text-anchor="end" font-size="4.8" fill="#505050">60</text><text x="268.9" y="132.3" text-anchor="middle" font-size="5.5" fill="#444">Concentration</text><text transform="translate(215.8 76.4) rotate(-90)" text-anchor="middle" font-size="4.5" fill="#444">SMR</text><text x="334.6" y="41.5" text-anchor="middle" font-size="4.6" fill="#444">ABTS</text><rect x="315.6" y="43.45" width="4.6" height="4.3" fill="#000080"/><text x="334.4" y="47.22" text-anchor="middle" font-size="4.5" fill="#444">&lt;</text><text x="344.4" y="47.22" text-anchor="end" font-size="4.5" fill="#444">10</text><rect x="315.6" y="49.48" width="4.6" height="4.3" fill="#0a0ae0"/><text x="330.1" y="53.25" text-anchor="end" font-size="4.5" fill="#444">10</text><text x="334.4" y="53.25" text-anchor="middle" font-size="4.5" fill="#444">–</text><text x="344.4" y="53.25" text-anchor="end" font-size="4.5" fill="#444">20</text><rect x="315.6" y="55.51" width="4.6" height="4.3" fill="#0b50e6"/><text x="330.1" y="59.28" text-anchor="end" font-size="4.5" fill="#444">20</text><text x="334.4" y="59.28" text-anchor="middle" font-size="4.5" fill="#444">–</text><text x="344.4" y="59.28" text-anchor="end" font-size="4.5" fill="#444">30</text><rect x="315.6" y="61.54" width="4.6" height="4.3" fill="#5c9fe0"/><text x="330.1" y="65.31" text-anchor="end" font-size="4.5" fill="#444">30</text><text x="334.4" y="65.31" text-anchor="middle" font-size="4.5" fill="#444">–</text><text x="344.4" y="65.31" text-anchor="end" font-size="4.5" fill="#444">40</text><rect x="315.6" y="67.57" width="4.6" height="4.3" fill="#40cf7e"/><text x="330.1" y="71.34" text-anchor="end" font-size="4.5" fill="#444">40</text><text x="334.4" y="71.34" text-anchor="middle" font-size="4.5" fill="#444">–</text><text x="344.4" y="71.34" text-anchor="end" font-size="4.5" fill="#444">50</text><rect x="315.6" y="73.6" width="4.6" height="4.3" fill="#00aa46"/><text x="330.1" y="77.37" text-anchor="end" font-size="4.5" fill="#444">50</text><text x="334.4" y="77.37" text-anchor="middle" font-size="4.5" fill="#444">–</text><text x="344.4" y="77.37" text-anchor="end" font-size="4.5" fill="#444">60</text><rect x="315.6" y="79.63" width="4.6" height="4.3" fill="#008414"/><text x="330.1" y="83.4" text-anchor="end" font-size="4.5" fill="#444">60</text><text x="334.4" y="83.4" text-anchor="middle" font-size="4.5" fill="#444">–</text><text x="344.4" y="83.4" text-anchor="end" font-size="4.5" fill="#444">70</text><rect x="315.6" y="85.66" width="4.6" height="4.3" fill="#005e08"/><text x="334.4" y="89.43" text-anchor="middle" font-size="4.5" fill="#444">&gt;</text><text x="344.4" y="89.43" text-anchor="end" font-size="4.5" fill="#444">70</text></g>
<g font-family='"Liberation Sans", sans-serif'><line x1="54.4" y1="247.3" x2="87.1" y2="214.17" stroke="#e6e6e6" stroke-width="0.5"/><line x1="87.1" y1="214.17" x2="166.3" y2="226.64" stroke="#e6e6e6" stroke-width="0.5"/><line x1="54.4" y1="223.8" x2="87.1" y2="190.83" stroke="#e6e6e6" stroke-width="0.5"/><line x1="87.1" y1="190.83" x2="166.3" y2="203.46" stroke="#e6e6e6" stroke-width="0.5"/><line x1="54.4" y1="200.3" x2="87.1" y2="167.49" stroke="#e6e6e6" stroke-width="0.5"/><line x1="87.1" y1="167.49" x2="166.3" y2="180.28" stroke="#e6e6e6" stroke-width="0.5"/><line x1="101.41" y1="219.7" x2="101.41" y2="168.01" stroke="#e6e6e6" stroke-width="0.5"/><line x1="69.32" y1="253.13" x2="101.41" y2="219.7" stroke="#e6e6e6" stroke-width="0.5"/><line x1="126.38" y1="223.63" x2="126.38" y2="172.05" stroke="#e6e6e6" stroke-width="0.5"/><line x1="95.37" y1="257.54" x2="126.38" y2="223.63" stroke="#e6e6e6" stroke-width="0.5"/><line x1="151.36" y1="227.55" x2="151.36" y2="176.09" stroke="#e6e6e6" stroke-width="0.5"/><line x1="121.42" y1="261.96" x2="151.36" y2="227.55" stroke="#e6e6e6" stroke-width="0.5"/><line x1="60.67" y1="244.24" x2="60.67" y2="192.21" stroke="#e6e6e6" stroke-width="0.5"/><line x1="60.67" y1="244.24" x2="142.62" y2="257.94" stroke="#e6e6e6" stroke-width="0.5"/><line x1="71.08" y1="233.69" x2="71.08" y2="181.77" stroke="#e6e6e6" stroke-width="0.5"/><line x1="71.08" y1="233.69" x2="151.94" y2="246.9" stroke="#e6e6e6" stroke-width="0.5"/><line x1="81.48" y1="223.15" x2="81.48" y2="171.34" stroke="#e6e6e6" stroke-width="0.5"/><line x1="81.48" y1="223.15" x2="161.27" y2="235.86" stroke="#e6e6e6" stroke-width="0.5"/><line x1="54.4" y1="250.6" x2="54.4" y2="198.5" stroke="#c6c6c6" stroke-width="0.6"/><line x1="87.1" y1="217.45" x2="87.1" y2="165.7" stroke="#c6c6c6" stroke-width="0.6"/><line x1="166.3" y1="229.9" x2="166.3" y2="178.5" stroke="#c6c6c6" stroke-width="0.6"/><line x1="54.4" y1="198.5" x2="87.1" y2="165.7" stroke="#c6c6c6" stroke-width="0.6"/><line x1="87.1" y1="165.7" x2="166.3" y2="178.5" stroke="#c6c6c6" stroke-width="0.6"/><line x1="54.4" y1="250.6" x2="137" y2="264.6" stroke="#c6c6c6" stroke-width="0.6"/><line x1="137" y1="264.6" x2="166.3" y2="229.9" stroke="#c6c6c6" stroke-width="0.6"/><line x1="54.4" y1="250.6" x2="87.1" y2="217.45" stroke="#c6c6c6" stroke-width="0.6"/><line x1="87.1" y1="217.45" x2="166.3" y2="229.9" stroke="#c6c6c6" stroke-width="0.6"/><g fill="#e0e0e0" stroke="#383838" stroke-width="0.38" stroke-linejoin="round"><polygon points="87.81,196.64 92.54,196.19 94.48,192.57 89.76,193.03"/><polygon points="85.86,200.25 90.6,199.8 92.54,196.19 87.81,196.64"/><polygon points="92.54,196.19 97.27,195.74 99.19,192.12 94.48,192.57"/><polygon points="83.9,203.86 88.66,203.42 90.6,199.8 85.86,200.25"/><polygon points="90.6,199.8 95.34,199.36 97.27,195.74 92.54,196.19"/><polygon points="97.27,195.74 102,195.29 103.91,191.67 99.19,192.12"/><polygon points="81.95,207.47 86.72,207.03 88.66,203.42 83.9,203.86"/><polygon points="88.66,203.42 93.41,202.98 95.34,199.36 90.6,199.8"/><polygon points="95.34,199.36 100.08,198.91 102,195.29 97.27,195.74"/><polygon points="102,195.29 106.73,194.84 108.63,191.22 103.91,191.67"/><polygon points="80,211.08 84.78,210.65 86.72,207.03 81.95,207.47"/><polygon points="86.72,207.03 91.48,206.6 93.41,202.98 88.66,203.42"/><polygon points="93.41,202.98 98.17,202.54 100.08,198.91 95.34,199.36"/><polygon points="100.08,198.91 104.82,198.47 106.73,194.84 102,195.29"/><polygon points="106.73,194.84 111.46,194.4 113.35,190.77 108.63,191.22"/><polygon points="78.05,214.7 82.84,214.27 84.78,210.65 80,211.08"/><polygon points="84.78,210.65 89.56,210.22 91.48,206.6 86.72,207.03"/><polygon points="91.48,206.6 96.25,206.16 98.17,202.54 93.41,202.98"/><polygon points="98.17,202.54 102.92,202.1 104.82,198.47 100.08,198.91"/><polygon points="104.82,198.47 109.57,198.03 111.46,194.4 106.73,194.84"/><polygon points="111.46,194.4 116.19,193.95 118.07,190.32 113.35,190.77"/><polygon points="76.1,218.32 80.9,217.89 82.84,214.27 78.05,214.7"/><polygon points="82.84,214.27 87.63,213.84 89.56,210.22 84.78,210.65"/><polygon points="89.56,210.22 94.34,209.79 96.25,206.16 91.48,206.6"/><polygon points="96.25,206.16 101.02,205.73 102.92,202.1 98.17,202.54"/><polygon points="102.92,202.1 107.67,201.66 109.57,198.03 104.82,198.47"/><polygon points="109.57,198.03 114.31,197.59 116.19,193.95 111.46,194.4"/><polygon points="116.19,193.95 120.92,193.51 122.78,189.87 118.07,190.32"/><polygon points="74.14,221.93 78.96,221.51 80.9,217.89 76.1,218.32"/><polygon points="80.9,217.89 85.7,217.47 87.63,213.84 82.84,214.27"/><polygon points="87.63,213.84 92.42,213.42 94.34,209.79 89.56,210.22"/><polygon points="94.34,209.79 99.11,209.36 101.02,205.73 96.25,206.16"/><polygon points="101.02,205.73 105.78,205.3 107.67,201.66 102.92,202.1"/><polygon points="107.67,201.66 112.43,201.23 114.31,197.59 109.57,198.03"/><polygon points="114.31,197.59 119.05,197.15 120.92,193.51 116.19,193.95"/><polygon points="120.92,193.51 125.65,193.07 127.5,189.42 122.78,189.87"/><polygon points="72.19,225.55 77.02,225.14 78.96,221.51 74.14,221.93"/><polygon points="78.96,221.51 83.77,221.1 85.7,217.47 80.9,217.89"/><polygon points="85.7,217.47 90.5,217.05 92.42,213.42 87.63,213.84"/><polygon points="92.42,213.42 97.21,212.99 99.11,209.36 94.34,209.79"/><polygon points="99.11,209.36 103.89,208.93 105.78,205.3 101.02,205.73"/><polygon points="105.78,205.3 110.55,204.86 112.43,201.23 107.67,201.66"/><polygon points="112.43,201.23 117.18,200.79 119.05,197.15 114.31,197.59"/><polygon points="119.05,197.15 123.79,196.71 125.65,193.07 120.92,193.51"/><polygon points="125.65,193.07 130.38,192.62 132.22,188.98 127.5,189.42"/><polygon points="70.24,229.17 75.08,228.76 77.02,225.14 72.19,225.55"/><polygon points="77.02,225.14 81.85,224.72 83.77,221.1 78.96,221.51"/><polygon points="83.77,221.1 88.59,220.68 90.5,217.05 85.7,217.47"/><polygon points="90.5,217.05 95.31,216.63 97.21,212.99 92.42,213.42"/><polygon points="97.21,212.99 102,212.57 103.89,208.93 99.11,209.36"/><polygon points="103.89,208.93 108.67,208.5 110.55,204.86 105.78,205.3"/><polygon points="110.55,204.86 115.32,204.43 117.18,200.79 112.43,201.23"/><polygon points="117.18,200.79 121.94,200.36 123.79,196.71 119.05,197.15"/><polygon points="123.79,196.71 128.53,196.27 130.38,192.62 125.65,193.07"/><polygon points="130.38,192.62 135.11,192.18 136.94,188.53 132.22,188.98"/><polygon points="68.29,232.79 73.14,232.39 75.08,228.76 70.24,229.17"/><polygon points="75.08,228.76 79.92,228.35 81.85,224.72 77.02,225.14"/><polygon points="81.85,224.72 86.67,224.31 88.59,220.68 83.77,221.1"/><polygon points="88.59,220.68 93.4,220.26 95.31,216.63 90.5,217.05"/><polygon points="95.31,216.63 100.11,216.21 102,212.57 97.21,212.99"/><polygon points="102,212.57 106.79,212.15 108.67,208.5 103.89,208.93"/><polygon points="108.67,208.5 113.45,208.08 115.32,204.43 110.55,204.86"/><polygon points="115.32,204.43 120.08,204 121.94,200.36 117.18,200.79"/><polygon points="121.94,200.36 126.69,199.92 128.53,196.27 123.79,196.71"/><polygon points="128.53,196.27 133.28,195.84 135.11,192.18 130.38,192.62"/><polygon points="135.11,192.18 139.84,191.74 141.66,188.08 136.94,188.53"/><polygon points="66.34,236.42 71.2,236.02 73.14,232.39 68.29,232.79"/><polygon points="73.14,232.39 77.99,231.98 79.92,228.35 75.08,228.76"/><polygon points="79.92,228.35 84.76,227.94 86.67,224.31 81.85,224.72"/><polygon points="86.67,224.31 91.5,223.9 93.4,220.26 88.59,220.68"/><polygon points="93.4,220.26 98.22,219.85 100.11,216.21 95.31,216.63"/><polygon points="100.11,216.21 104.91,215.79 106.79,212.15 102,212.57"/><polygon points="106.79,212.15 111.58,211.72 113.45,208.08 108.67,208.5"/><polygon points="113.45,208.08 118.23,207.65 120.08,204 115.32,204.43"/><polygon points="120.08,204 124.85,203.57 126.69,199.92 121.94,200.36"/><polygon points="126.69,199.92 131.45,199.49 133.28,195.84 128.53,196.27"/><polygon points="133.28,195.84 138.02,195.4 139.84,191.74 135.11,192.18"/><polygon points="139.84,191.74 144.57,191.3 146.37,187.64 141.66,188.08"/><polygon points="64.39,240.04 69.26,239.64 71.2,236.02 66.34,236.42"/><polygon points="71.2,236.02 76.06,235.62 77.99,231.98 73.14,232.39"/><polygon points="77.99,231.98 82.84,231.58 84.76,227.94 79.92,228.35"/><polygon points="84.76,227.94 89.6,227.54 91.5,223.9 86.67,224.31"/><polygon points="91.5,223.9 96.33,223.49 98.22,219.85 93.4,220.26"/><polygon points="98.22,219.85 103.03,219.43 104.91,215.79 100.11,216.21"/><polygon points="104.91,215.79 109.72,215.37 111.58,211.72 106.79,212.15"/><polygon points="111.58,211.72 116.37,211.3 118.23,207.65 113.45,208.08"/><polygon points="118.23,207.65 123.01,207.23 124.85,203.57 120.08,204"/><polygon points="124.85,203.57 129.62,203.15 131.45,199.49 126.69,199.92"/><polygon points="131.45,199.49 136.2,199.06 138.02,195.4 133.28,195.84"/><polygon points="138.02,195.4 142.76,194.96 144.57,191.3 139.84,191.74"/><polygon points="144.57,191.3 149.3,190.86 151.09,187.2 146.37,187.64"/><polygon points="62.43,243.67 67.32,243.27 69.26,239.64 64.39,240.04"/><polygon points="69.26,239.64 74.14,239.25 76.06,235.62 71.2,236.02"/><polygon points="76.06,235.62 80.93,235.22 82.84,231.58 77.99,231.98"/><polygon points="82.84,231.58 87.69,231.18 89.6,227.54 84.76,227.94"/><polygon points="89.6,227.54 94.44,227.13 96.33,223.49 91.5,223.9"/><polygon points="96.33,223.49 101.15,223.08 103.03,219.43 98.22,219.85"/><polygon points="103.03,219.43 107.85,219.02 109.72,215.37 104.91,215.79"/><polygon points="109.72,215.37 114.52,214.95 116.37,211.3 111.58,211.72"/><polygon points="116.37,211.3 121.16,210.88 123.01,207.23 118.23,207.65"/><polygon points="123.01,207.23 127.78,206.8 129.62,203.15 124.85,203.57"/><polygon points="129.62,203.15 134.38,202.72 136.2,199.06 131.45,199.49"/><polygon points="136.2,199.06 140.95,198.63 142.76,194.96 138.02,195.4"/><polygon points="142.76,194.96 147.5,194.53 149.3,190.86 144.57,191.3"/><polygon points="149.3,190.86 154.03,190.43 155.81,186.76 151.09,187.2"/><polygon points="60.48,247.29 65.38,246.91 67.32,243.27 62.43,243.67"/><polygon points="67.32,243.27 72.21,242.88 74.14,239.25 69.26,239.64"/><polygon points="74.14,239.25 79.01,238.85 80.93,235.22 76.06,235.62"/><polygon points="80.93,235.22 85.79,234.82 87.69,231.18 82.84,231.58"/><polygon points="87.69,231.18 92.55,230.77 94.44,227.13 89.6,227.54"/><polygon points="94.44,227.13 99.28,226.72 101.15,223.08 96.33,223.49"/><polygon points="101.15,223.08 105.98,222.67 107.85,219.02 103.03,219.43"/><polygon points="107.85,219.02 112.66,218.61 114.52,214.95 109.72,215.37"/><polygon points="114.52,214.95 119.32,214.54 121.16,210.88 116.37,211.3"/><polygon points="121.16,210.88 125.95,210.46 127.78,206.8 123.01,207.23"/><polygon points="127.78,206.8 132.56,206.38 134.38,202.72 129.62,203.15"/><polygon points="134.38,202.72 139.15,202.29 140.95,198.63 136.2,199.06"/><polygon points="140.95,198.63 145.71,198.2 147.5,194.53 142.76,194.96"/><polygon points="147.5,194.53 152.24,194.1 154.03,190.43 149.3,190.86"/><polygon points="154.03,190.43 158.76,189.99 160.53,186.32 155.81,186.76"/><polygon points="65.38,246.91 70.28,246.52 72.21,242.88 67.32,243.27"/><polygon points="72.21,242.88 77.1,242.49 79.01,238.85 74.14,239.25"/><polygon points="79.01,238.85 83.89,238.46 85.79,234.82 80.93,235.22"/><polygon points="85.79,234.82 90.65,234.42 92.55,230.77 87.69,231.18"/><polygon points="92.55,230.77 97.4,230.37 99.28,226.72 94.44,227.13"/><polygon points="99.28,226.72 104.11,226.32 105.98,222.67 101.15,223.08"/><polygon points="105.98,222.67 110.81,222.26 112.66,218.61 107.85,219.02"/><polygon points="112.66,218.61 117.48,218.2 119.32,214.54 114.52,214.95"/><polygon points="119.32,214.54 124.12,214.12 125.95,210.46 121.16,210.88"/><polygon points="125.95,210.46 130.74,210.05 132.56,206.38 127.78,206.8"/><polygon points="132.56,206.38 137.34,205.96 139.15,202.29 134.38,202.72"/><polygon points="139.15,202.29 143.91,201.87 145.71,198.2 140.95,198.63"/><polygon points="145.71,198.2 150.46,197.77 152.24,194.1 147.5,194.53"/><polygon points="152.24,194.1 156.99,193.67 158.76,189.99 154.03,190.43"/><polygon points="70.28,246.52 75.18,246.13 77.1,242.49 72.21,242.88"/><polygon points="77.1,242.49 81.98,242.1 83.89,238.46 79.01,238.85"/><polygon points="83.89,238.46 88.76,238.07 90.65,234.42 85.79,234.82"/><polygon points="90.65,234.42 95.52,234.02 97.4,230.37 92.55,230.77"/><polygon points="97.4,230.37 102.25,229.97 104.11,226.32 99.28,226.72"/><polygon points="104.11,226.32 108.95,225.92 110.81,222.26 105.98,222.67"/><polygon points="110.81,222.26 115.64,221.85 117.48,218.2 112.66,218.61"/><polygon points="117.48,218.2 122.29,217.79 124.12,214.12 119.32,214.54"/><polygon points="124.12,214.12 128.93,213.71 130.74,210.05 125.95,210.46"/><polygon points="130.74,210.05 135.54,209.63 137.34,205.96 132.56,206.38"/><polygon points="137.34,205.96 142.12,205.54 143.91,201.87 139.15,202.29"/><polygon points="143.91,201.87 148.68,201.44 150.46,197.77 145.71,198.2"/><polygon points="150.46,197.77 155.22,197.34 156.99,193.67 152.24,194.1"/><polygon points="75.18,246.13 80.08,245.75 81.98,242.1 77.1,242.49"/><polygon points="81.98,242.1 86.87,241.71 88.76,238.07 83.89,238.46"/><polygon points="88.76,238.07 93.64,237.67 95.52,234.02 90.65,234.42"/><polygon points="95.52,234.02 100.38,233.63 102.25,229.97 97.4,230.37"/><polygon points="102.25,229.97 107.1,229.57 108.95,225.92 104.11,226.32"/><polygon points="108.95,225.92 113.79,225.51 115.64,221.85 110.81,222.26"/><polygon points="115.64,221.85 120.46,221.45 122.29,217.79 117.48,218.2"/><polygon points="122.29,217.79 127.11,217.38 128.93,213.71 124.12,214.12"/><polygon points="128.93,213.71 133.73,213.3 135.54,209.63 130.74,210.05"/><polygon points="135.54,209.63 140.33,209.21 142.12,205.54 137.34,205.96"/><polygon points="142.12,205.54 146.9,205.12 148.68,201.44 143.91,201.87"/><polygon points="148.68,201.44 153.45,201.02 155.22,197.34 150.46,197.77"/><polygon points="80.08,245.75 84.98,245.36 86.87,241.71 81.98,242.1"/><polygon points="86.87,241.71 91.76,241.32 93.64,237.67 88.76,238.07"/><polygon points="93.64,237.67 98.51,237.28 100.38,233.63 95.52,234.02"/><polygon points="100.38,233.63 105.24,233.23 107.1,229.57 102.25,229.97"/><polygon points="107.1,229.57 111.95,229.18 113.79,225.51 108.95,225.92"/><polygon points="113.79,225.51 118.63,225.11 120.46,221.45 115.64,221.85"/><polygon points="120.46,221.45 125.29,221.04 127.11,217.38 122.29,217.79"/><polygon points="127.11,217.38 131.92,216.97 133.73,213.3 128.93,213.71"/><polygon points="133.73,213.3 138.53,212.89 140.33,209.21 135.54,209.63"/><polygon points="140.33,209.21 145.12,208.8 146.9,205.12 142.12,205.54"/><polygon points="146.9,205.12 151.68,204.7 153.45,201.02 148.68,201.44"/><polygon points="84.98,245.36 89.88,244.98 91.76,241.32 86.87,241.71"/><polygon points="91.76,241.32 96.65,240.94 98.51,237.28 93.64,237.67"/><polygon points="98.51,237.28 103.39,236.89 105.24,233.23 100.38,233.63"/><polygon points="105.24,233.23 110.11,232.84 111.95,229.18 107.1,229.57"/><polygon points="111.95,229.18 116.8,228.78 118.63,225.11 113.79,225.51"/><polygon points="118.63,225.11 123.47,224.71 125.29,221.04 120.46,221.45"/><polygon points="125.29,221.04 130.12,220.64 131.92,216.97 127.11,217.38"/><polygon points="131.92,216.97 136.74,216.56 138.53,212.89 133.73,213.3"/><polygon points="138.53,212.89 143.33,212.47 145.12,208.8 140.33,209.21"/><polygon points="145.12,208.8 149.91,208.38 151.68,204.7 146.9,205.12"/><polygon points="89.88,244.98 94.78,244.6 96.65,240.94 91.76,241.32"/><polygon points="96.65,240.94 101.54,240.55 103.39,236.89 98.51,237.28"/><polygon points="103.39,236.89 108.27,236.5 110.11,232.84 105.24,233.23"/><polygon points="110.11,232.84 114.97,232.44 116.8,228.78 111.95,229.18"/><polygon points="116.8,228.78 121.65,228.38 123.47,224.71 118.63,225.11"/><polygon points="123.47,224.71 128.31,224.31 130.12,220.64 125.29,221.04"/><polygon points="130.12,220.64 134.94,220.24 136.74,216.56 131.92,216.97"/><polygon points="136.74,216.56 141.55,216.15 143.33,212.47 138.53,212.89"/><polygon points="143.33,212.47 148.14,212.06 149.91,208.38 145.12,208.8"/><polygon points="94.78,244.6 99.68,244.21 101.54,240.55 96.65,240.94"/><polygon points="101.54,240.55 106.42,240.17 108.27,236.5 103.39,236.89"/><polygon points="108.27,236.5 113.14,236.11 114.97,232.44 110.11,232.84"/><polygon points="114.97,232.44 119.83,232.05 121.65,228.38 116.8,228.78"/><polygon points="121.65,228.38 126.5,227.99 128.31,224.31 123.47,224.71"/><polygon points="128.31,224.31 133.15,223.91 134.94,220.24 130.12,220.64"/><polygon points="134.94,220.24 139.77,219.83 141.55,216.15 136.74,216.56"/><polygon points="141.55,216.15 146.37,215.75 148.14,212.06 143.33,212.47"/><polygon points="99.68,244.21 104.58,243.83 106.42,240.17 101.54,240.55"/><polygon points="106.42,240.17 111.31,239.78 113.14,236.11 108.27,236.5"/><polygon points="113.14,236.11 118.02,235.73 119.83,232.05 114.97,232.44"/><polygon points="119.83,232.05 124.7,231.66 126.5,227.99 121.65,228.38"/><polygon points="126.5,227.99 131.36,227.59 133.15,223.91 128.31,224.31"/><polygon points="133.15,223.91 137.99,223.52 139.77,219.83 134.94,220.24"/><polygon points="139.77,219.83 144.6,219.43 146.37,215.75 141.55,216.15"/><polygon points="104.58,243.83 109.48,243.45 111.31,239.78 106.42,240.17"/><polygon points="111.31,239.78 116.2,239.4 118.02,235.73 113.14,236.11"/><polygon points="118.02,235.73 122.89,235.34 124.7,231.66 119.83,232.05"/><polygon points="124.7,231.66 129.56,231.27 131.36,227.59 126.5,227.99"/><polygon points="131.36,227.59 136.21,227.2 137.99,223.52 133.15,223.91"/><polygon points="137.99,223.52 142.83,223.12 144.6,219.43 139.77,219.83"/><polygon points="109.48,243.45 114.38,243.07 116.2,239.4 111.31,239.78"/><polygon points="116.2,239.4 121.09,239.02 122.89,235.34 118.02,235.73"/><polygon points="122.89,235.34 127.77,234.95 129.56,231.27 124.7,231.66"/><polygon points="129.56,231.27 134.43,230.88 136.21,227.2 131.36,227.59"/><polygon points="136.21,227.2 141.06,226.81 142.83,223.12 137.99,223.52"/><polygon points="114.38,243.07 119.28,242.7 121.09,239.02 116.2,239.4"/><polygon points="121.09,239.02 125.97,238.64 127.77,234.95 122.89,235.34"/><polygon points="127.77,234.95 132.64,234.57 134.43,230.88 129.56,231.27"/><polygon points="134.43,230.88 139.29,230.49 141.06,226.81 136.21,227.2"/><polygon points="119.28,242.7 124.18,242.32 125.97,238.64 121.09,239.02"/><polygon points="125.97,238.64 130.86,238.26 132.64,234.57 127.77,234.95"/><polygon points="132.64,234.57 137.52,234.18 139.29,230.49 134.43,230.88"/><polygon points="124.18,242.32 129.08,241.94 130.86,238.26 125.97,238.64"/><polygon points="130.86,238.26 135.75,237.88 137.52,234.18 132.64,234.57"/><polygon points="129.08,241.94 133.98,241.57 135.75,237.88 130.86,238.26"/></g><line x1="52.4" y1="247.3" x2="54.4" y2="247.3" stroke="#c6c6c6" stroke-width="0.5"/><text x="46.7" y="248.47" text-anchor="end" font-size="5.2" fill="#505050">50</text><line x1="52.4" y1="223.8" x2="54.4" y2="223.8" stroke="#c6c6c6" stroke-width="0.5"/><text x="46.7" y="224.97" text-anchor="end" font-size="5.2" fill="#505050">75</text><line x1="52.4" y1="200.3" x2="54.4" y2="200.3" stroke="#c6c6c6" stroke-width="0.5"/><text x="46.7" y="201.47" text-anchor="end" font-size="5.2" fill="#505050">100</text><line x1="69.32" y1="253.13" x2="68.52" y2="254.93" stroke="#c6c6c6" stroke-width="0.5"/><text x="64.4" y="259.77" text-anchor="middle" font-size="5.2" fill="#505050">40</text><line x1="95.37" y1="257.54" x2="94.57" y2="259.34" stroke="#c6c6c6" stroke-width="0.5"/><text x="89.1" y="264.07" text-anchor="middle" font-size="5.2" fill="#505050">60</text><line x1="121.42" y1="261.96" x2="120.62" y2="263.76" stroke="#c6c6c6" stroke-width="0.5"/><text x="113.5" y="268.37" text-anchor="middle" font-size="5.2" fill="#505050">80</text><line x1="142.62" y1="257.94" x2="144.42" y2="258.74" stroke="#c6c6c6" stroke-width="0.5"/><text x="151.1" y="261.87" text-anchor="middle" font-size="5.2" fill="#505050">20</text><line x1="151.94" y1="246.9" x2="153.74" y2="247.7" stroke="#c6c6c6" stroke-width="0.5"/><text x="161.8" y="252.47" text-anchor="middle" font-size="5.2" fill="#505050">40</text><line x1="161.27" y1="235.86" x2="163.07" y2="236.66" stroke="#c6c6c6" stroke-width="0.5"/><text x="171.6" y="243.07" text-anchor="middle" font-size="5.2" fill="#505050">60</text><text x="18.7" y="223.7" font-size="5.5" font-weight="bold" fill="#222">FRAP</text><text x="57.9" y="276.1" font-size="5.5" font-weight="bold" fill="#222">Concentration</text><text x="171.6" y="253.5" font-size="5.5" font-weight="bold" fill="#222">SMR</text></g>
<g font-family='"Liberation Sans", sans-serif'><rect x="228.6" y="174.3" width="80.4" height="80.1" fill="#80e2b2"/><path fill-rule="evenodd" d="M232.9 253.4L233.6 253.9L234.3 254.4L234.6 254.4L235.6 254.4L236.6 254.4L237.6 254.4L238.7 254.4L239.7 254.4L240.7 254.4L241.7 254.4L242.7 254.4L243.7 254.4L244.7 254.4L245.7 254.4L246.7 254.4L247.7 254.4L248.7 254.4L249.7 254.4L250.7 254.4L251.7 254.4L252.7 254.4L253.7 254.4L254.7 254.4L255.7 254.4L256.7 254.4L257.7 254.4L258.8 254.4L259.8 254.4L260.8 254.4L261.8 254.4L262.8 254.4L263.8 254.4L264.8 254.4L265.8 254.4L266.8 254.4L267.8 254.4L268.8 254.4L269.8 254.4L270.8 254.4L271.8 254.4L272.8 254.4L273.8 254.4L274.8 254.4L275.8 254.4L276.8 254.4L277.8 254.4L278.9 254.4L279.9 254.4L280.9 254.4L281.9 254.4L282.9 254.4L283.9 254.4L284.9 254.4L285.9 254.4L286.9 254.4L287.9 254.4L288.9 254.4L289.9 254.4L290.9 254.4L291.9 254.4L292.9 254.4L293.9 254.4L294.9 254.4L295.9 254.4L296.9 254.4L297.9 254.4L298.9 254.4L300 254.4L301 254.4L302 254.4L303 254.4L304 254.4L305 254.4L306 254.4L307 254.4L308 254.4L309 254.4L309 253.4L309 252.4L309 251.4L309 250.4L309 249.4L309 248.4L309 247.4L309 246.4L309 245.4L309 244.4L309 243.4L309 242.4L309 241.4L309 240.4L309 239.4L309 238.4L309 237.4L309 236.4L309 235.4L309 234.4L309 233.4L309 232.4L309 231.4L309 230.4L309 229.4L309 228.4L309 227.4L309 226.4L309 225.4L309 224.4L309 223.4L309 222.4L309 221.4L309 220.4L309 219.4L309 218.4L309 217.4L309 216.4L309 215.4L309 214.4L309 213.3L309 212.3L309 211.3L309 210.3L309 209.3L309 208.3L309 207.3L309 206.3L309 205.3L309 204.3L309 203.3L309 202.3L309 201.3L309 200.3L309 199.3L309 198.3L309 197.3L309 196.3L309 195.3L309 194.3L309 193.3L309 192.3L309 191.3L309 190.3L309 189.3L309 188.3L309 187.3L309 186.3L309 185.3L309 184.3L309 183.3L309 182.3L309 181.3L309 180.3L309 179.3L309 178.3L309 177.3L309 176.3L309 175.3L309 174.3L308 174.3L307 174.3L306 174.3L305 174.3L304 174.3L303 174.3L302 174.3L301 174.3L300 174.3L298.9 174.3L297.9 174.3L296.9 174.3L295.9 174.3L294.9 174.3L293.9 174.3L292.9 174.3L291.9 174.3L290.9 174.3L289.9 174.3L288.9 174.3L287.9 174.3L286.9 174.3L285.9 174.3L284.9 174.3L283.9 174.3L282.9 174.3L281.9 174.3L280.9 174.3L279.9 174.3L278.9 174.3L277.8 174.3L276.8 174.3L275.8 174.3L274.8 174.3L273.8 174.3L272.8 174.3L271.8 174.3L270.8 174.3L269.8 174.3L268.8 174.3L267.8 174.3L266.8 174.3L265.8 174.3L264.8 174.3L263.8 174.3L262.8 174.3L261.8 174.3L260.8 174.3L259.8 174.3L258.8 174.3L257.7 174.3L256.7 174.3L255.7 174.3L254.7 174.3L253.7 174.3L252.7 174.3L251.7 174.3L250.7 174.3L249.7 174.3L248.7 174.3L247.7 174.3L246.7 174.3L245.7 174.3L244.7 174.3L243.7 174.3L242.7 174.3L241.7 174.3L240.7 174.3L239.7 174.3L238.7 174.3L237.6 174.3L236.6 174.3L235.6 174.3L234.6 174.3L233.6 174.3L232.6 174.3L231.6 174.3L230.6 174.3L229.6 174.3L228.6 174.3L228.6 175.3L228.6 176.3L228.6 177.3L228.6 178.3L228.6 179.3L228.6 180.3L228.6 181.3L228.6 182.3L228.6 183.3L228.6 184.3L228.6 185.3L228.6 186.3L228.6 187.3L228.6 188.3L228.6 189.3L228.6 190.3L228.6 191.3L228.6 192.3L228.6 193.3L228.6 194.3L228.6 195.3L228.6 196.3L228.6 197.3L228.6 198.3L228.6 199.3L228.6 200.3L228.6 201.3L228.6 202.3L228.6 203.3L228.6 204.3L228.6 205.3L228.6 206.3L228.6 207.3L228.6 208.3L228.6 209.3L228.6 210.3L228.6 211.3L228.6 212.3L228.6 213.3L228.6 214.4L228.6 215.4L228.6 216.4L228.6 217.4L228.6 218.4L228.6 219.4L228.6 220.4L228.6 221.4L228.6 222.4L228.6 223.4L228.6 224.4L228.6 225.4L228.6 226.4L228.6 227.4L228.6 228.4L228.6 229.4L228.6 230.4L228.6 231.4L228.6 232.4L228.6 233.4L228.6 234.4L228.6 235.4L228.6 236.4L228.6 237.4L228.6 238.4L228.6 239.4L228.6 240.4L228.6 241.4L228.6 242.4L228.6 243.4L228.6 244.4L228.6 245.4L228.6 246.4L228.6 247.4L228.6 248.4L228.6 249.4L228.6 250.2L228.9 250.4L229.6 250.9L230.2 251.4L230.6 251.7L231.6 252.4L231.6 252.4L232.6 253.2Z" fill="#40cf7e"/><path fill-rule="evenodd" d="M274.3 253.4L274.8 253.8L275.6 254.4L275.8 254.4L276.8 254.4L277.8 254.4L278.9 254.4L279.9 254.4L280.9 254.4L281.9 254.4L282.9 254.4L283.9 254.4L284.9 254.4L285.9 254.4L286.9 254.4L287.9 254.4L288.9 254.4L289.9 254.4L290.9 254.4L291.9 254.4L292.9 254.4L293.9 254.4L294.9 254.4L295.9 254.4L296.9 254.4L297.9 254.4L298.9 254.4L300 254.4L301 254.4L302 254.4L303 254.4L304 254.4L305 254.4L306 254.4L307 254.4L308 254.4L309 254.4L309 253.4L309 252.4L309 251.4L309 250.4L309 249.4L309 248.4L309 247.4L309 246.4L309 245.4L309 244.4L309 243.4L309 242.4L309 241.4L309 240.4L309 239.4L309 238.4L309 237.4L309 236.4L309 235.4L309 234.4L309 233.4L309 232.4L309 231.4L309 230.4L309 229.4L309 228.4L309 227.4L309 226.4L309 225.4L309 224.4L309 223.4L309 222.4L309 221.4L309 220.4L309 219.4L309 218.4L309 217.4L309 216.4L309 215.4L309 214.4L309 213.3L309 212.3L309 211.3L309 210.3L309 209.3L309 208.3L309 207.3L309 206.3L309 205.3L309 204.3L309 203.3L309 202.3L309 201.3L309 200.3L309 199.3L309 198.3L309 197.3L309 196.3L309 195.3L309 194.3L309 193.3L309 192.3L309 191.3L309 190.3L309 189.3L309 188.3L309 187.3L309 186.3L309 185.3L309 184.3L309 183.3L309 182.3L309 181.3L309 180.3L309 179.3L309 178.3L309 177.3L309 176.3L309 175.3L309 174.3L308 174.3L307 174.3L306 174.3L305 174.3L304 174.3L303 174.3L302 174.3L301 174.3L300 174.3L298.9 174.3L297.9 174.3L296.9 174.3L295.9 174.3L294.9 174.3L293.9 174.3L292.9 174.3L291.9 174.3L290.9 174.3L289.9 174.3L288.9 174.3L287.9 174.3L286.9 174.3L285.9 174.3L284.9 174.3L283.9 174.3L282.9 174.3L281.9 174.3L280.9 174.3L279.9 174.3L278.9 174.3L277.8 174.3L276.8 174.3L275.8 174.3L274.8 174.3L273.8 174.3L272.8 174.3L271.8 174.3L270.8 174.3L269.8 174.3L268.8 174.3L267.8 174.3L266.8 174.3L265.8 174.3L264.8 174.3L263.8 174.3L262.8 174.3L261.8 174.3L260.8 174.3L259.8 174.3L258.8 174.3L257.7 174.3L256.7 174.3L255.7 174.3L254.7 174.3L253.7 174.3L252.7 174.3L251.7 174.3L250.7 174.3L249.7 174.3L248.7 174.3L247.7 174.3L246.7 174.3L245.7 174.3L244.7 174.3L243.7 174.3L242.7 174.3L241.7 174.3L240.7 174.3L239.7 174.3L238.7 174.3L237.6 174.3L236.6 174.3L235.6 174.3L234.6 174.3L233.6 174.3L232.6 174.3L231.6 174.3L230.6 174.3L229.6 174.3L228.6 174.3L228.6 175.3L228.6 176.3L228.6 177.3L228.6 178.3L228.6 179.3L228.6 180.3L228.6 181.3L228.6 182.3L228.6 183.3L228.6 184.3L228.6 185.3L228.6 186.3L228.6 187.3L228.6 188.3L228.6 189.3L228.6 190.3L228.6 191.3L228.6 192.3L228.6 193.3L228.6 194.3L228.6 195.3L228.6 196.3L228.6 197.3L228.6 198.3L228.6 199.3L228.6 200.3L228.6 201.3L228.6 202.3L228.6 203.3L228.6 204.3L228.6 205.3L228.6 206.3L228.6 207.3L228.6 208.3L228.6 209.3L228.6 210.3L228.6 211.3L228.6 212.3L228.6 213.3L228.6 214.4L228.6 215.4L228.6 216.4L228.6 217.4L228.6 218.4L228.6 219.4L228.6 219.5L229.6 220.3L229.7 220.4L230.6 221L231.1 221.4L231.6 221.8L232.4 222.4L232.6 222.5L233.6 223.2L233.8 223.4L234.6 224L235.1 224.4L235.6 224.7L236.5 225.4L236.6 225.5L237.6 226.2L237.8 226.4L238.7 227L239.2 227.4L239.7 227.7L240.5 228.4L240.7 228.5L241.7 229.2L241.9 229.4L242.7 230L243.2 230.4L243.7 230.7L244.6 231.4L244.7 231.4L245.7 232.2L245.9 232.4L246.7 232.9L247.3 233.4L247.7 233.7L248.6 234.4L248.7 234.4L249.7 235.2L250 235.4L250.7 235.9L251.3 236.4L251.7 236.7L252.7 237.4L252.7 237.4L253.7 238.1L254 238.4L254.7 238.9L255.4 239.4L255.7 239.6L256.7 240.4L256.7 240.4L257.7 241.1L258.1 241.4L258.8 241.9L259.4 242.4L259.8 242.6L260.8 243.4L260.8 243.4L261.8 244.1L262.1 244.4L262.8 244.9L263.5 245.4L263.8 245.6L264.8 246.3L264.8 246.4L265.8 247.1L266.2 247.4L266.8 247.8L267.5 248.4L267.8 248.6L268.8 249.3L268.9 249.4L269.8 250.1L270.2 250.4L270.8 250.8L271.6 251.4L271.8 251.6L272.8 252.3L272.9 252.4L273.8 253.1Z" fill="#08b050"/><path fill-rule="evenodd" d="M308.9 248.4L309 248.5L309 248.4L309 247.4L309 246.4L309 245.4L309 244.4L309 243.4L309 242.4L309 241.4L309 240.4L309 239.4L309 238.4L309 237.4L309 236.4L309 235.4L309 234.4L309 233.4L309 232.4L309 231.4L309 230.4L309 229.4L309 228.4L309 227.4L309 226.4L309 225.4L309 224.4L309 223.4L309 222.4L309 221.4L309 220.4L309 219.4L309 218.4L309 217.4L309 216.4L309 215.4L309 214.4L309 213.3L309 212.3L309 211.3L309 210.3L309 209.3L309 208.3L309 207.3L309 206.3L309 205.3L309 204.3L309 203.3L309 202.3L309 201.3L309 200.3L309 199.3L309 198.3L309 197.3L309 196.3L309 195.3L309 194.3L309 193.3L309 192.3L309 191.3L309 190.3L309 189.3L309 188.3L309 187.3L309 186.3L309 185.3L309 184.3L309 183.3L309 182.3L309 181.3L309 180.3L309 179.3L309 178.3L309 177.3L309 176.3L309 175.3L309 174.3L308 174.3L307 174.3L306 174.3L305 174.3L304 174.3L303 174.3L302 174.3L301 174.3L300 174.3L298.9 174.3L297.9 174.3L296.9 174.3L295.9 174.3L294.9 174.3L293.9 174.3L292.9 174.3L291.9 174.3L290.9 174.3L289.9 174.3L288.9 174.3L287.9 174.3L286.9 174.3L285.9 174.3L284.9 174.3L283.9 174.3L282.9 174.3L281.9 174.3L280.9 174.3L279.9 174.3L278.9 174.3L277.8 174.3L276.8 174.3L275.8 174.3L274.8 174.3L273.8 174.3L272.8 174.3L271.8 174.3L270.8 174.3L269.8 174.3L268.8 174.3L267.8 174.3L266.8 174.3L265.8 174.3L264.8 174.3L263.8 174.3L262.8 174.3L261.8 174.3L260.8 174.3L259.8 174.3L258.8 174.3L257.7 174.3L256.7 174.3L255.7 174.3L254.7 174.3L253.7 174.3L252.7 174.3L251.7 174.3L250.7 174.3L249.7 174.3L248.7 174.3L247.7 174.3L246.7 174.3L245.7 174.3L244.7 174.3L243.7 174.3L242.7 174.3L241.7 174.3L240.7 174.3L239.7 174.3L238.7 174.3L237.6 174.3L236.6 174.3L235.6 174.3L234.6 174.3L233.6 174.3L232.6 174.3L231.6 174.3L230.6 174.3L229.6 174.3L228.6 174.3L228.6 175.3L228.6 176.3L228.6 177.3L228.6 178.3L228.6 179.3L228.6 180.3L228.6 181.3L228.6 182.3L228.6 183.3L228.6 184.3L228.6 185.3L228.6 186.3L228.6 187.3L228.6 188.3L228.6 188.8L229.3 189.3L229.6 189.6L230.6 190.3L230.6 190.3L231.6 191.1L232 191.3L232.6 191.8L233.3 192.3L233.6 192.6L234.6 193.3L234.7 193.3L235.6 194.1L236 194.3L236.6 194.8L237.4 195.3L237.6 195.5L238.7 196.3L238.7 196.3L239.7 197L240.1 197.3L240.7 197.8L241.4 198.3L241.7 198.5L242.7 199.3L242.8 199.3L243.7 200L244.1 200.3L244.7 200.8L245.5 201.3L245.7 201.5L246.7 202.3L246.8 202.3L247.7 203L248.2 203.3L248.7 203.7L249.5 204.3L249.7 204.5L250.7 205.2L250.9 205.3L251.7 206L252.2 206.3L252.7 206.7L253.6 207.3L253.7 207.5L254.7 208.2L254.9 208.3L255.7 209L256.3 209.3L256.7 209.7L257.6 210.3L257.7 210.4L258.8 211.2L259 211.3L259.8 211.9L260.3 212.3L260.8 212.7L261.7 213.3L261.8 213.4L262.8 214.2L263 214.4L263.8 214.9L264.4 215.4L264.8 215.7L265.7 216.4L265.8 216.4L266.8 217.2L267.1 217.4L267.8 217.9L268.4 218.4L268.8 218.6L269.8 219.4L269.8 219.4L270.8 220.1L271.1 220.4L271.8 220.9L272.5 221.4L272.8 221.6L273.8 222.4L273.8 222.4L274.8 223.1L275.2 223.4L275.8 223.9L276.5 224.4L276.8 224.6L277.8 225.4L277.9 225.4L278.9 226.1L279.2 226.4L279.9 226.8L280.6 227.4L280.9 227.6L281.9 228.3L281.9 228.4L282.9 229.1L283.3 229.4L283.9 229.8L284.6 230.4L284.9 230.6L285.9 231.3L286 231.4L286.9 232.1L287.3 232.4L287.9 232.8L288.7 233.4L288.9 233.6L289.9 234.3L290 234.4L290.9 235L291.4 235.4L291.9 235.8L292.7 236.4L292.9 236.5L293.9 237.3L294.1 237.4L294.9 238L295.4 238.4L295.9 238.8L296.8 239.4L296.9 239.5L297.9 240.3L298.1 240.4L298.9 241L299.5 241.4L300 241.7L300.8 242.4L301 242.5L302 243.2L302.2 243.4L303 244L303.5 244.4L304 244.7L304.9 245.4L305 245.5L306 246.2L306.2 246.4L307 247L307.6 247.4L308 247.7Z" fill="#008c14"/><path fill-rule="evenodd" d="M308.4 217.4L309 217.8L309 217.4L309 216.4L309 215.4L309 214.4L309 213.3L309 212.3L309 211.3L309 210.3L309 209.3L309 208.3L309 207.3L309 206.3L309 205.3L309 204.3L309 203.3L309 202.3L309 201.3L309 200.3L309 199.3L309 198.3L309 197.3L309 196.3L309 195.3L309 194.3L309 193.3L309 192.3L309 191.3L309 190.3L309 189.3L309 188.3L309 187.3L309 186.3L309 185.3L309 184.3L309 183.3L309 182.3L309 181.3L309 180.3L309 179.3L309 178.3L309 177.3L309 176.3L309 175.3L309 174.3L308 174.3L307 174.3L306 174.3L305 174.3L304 174.3L303 174.3L302 174.3L301 174.3L300 174.3L298.9 174.3L297.9 174.3L296.9 174.3L295.9 174.3L294.9 174.3L293.9 174.3L292.9 174.3L291.9 174.3L290.9 174.3L289.9 174.3L288.9 174.3L287.9 174.3L286.9 174.3L285.9 174.3L284.9 174.3L283.9 174.3L282.9 174.3L281.9 174.3L280.9 174.3L279.9 174.3L278.9 174.3L277.8 174.3L276.8 174.3L275.8 174.3L274.8 174.3L273.8 174.3L272.8 174.3L271.8 174.3L270.8 174.3L269.8 174.3L268.8 174.3L267.8 174.3L266.8 174.3L265.8 174.3L264.8 174.3L263.8 174.3L262.8 174.3L261.8 174.3L260.8 174.3L259.8 174.3L258.8 174.3L257.7 174.3L256.7 174.3L255.7 174.3L254.7 174.3L253.7 174.3L252.7 174.3L251.7 174.3L250.7 174.3L250.4 174.3L250.7 174.5L251.7 175.3L251.7 175.3L252.7 176L253.1 176.3L253.7 176.8L254.4 177.3L254.7 177.5L255.7 178.3L255.8 178.3L256.7 179L257.1 179.3L257.7 179.8L258.5 180.3L258.8 180.5L259.8 181.3L259.8 181.3L260.8 182L261.2 182.3L261.8 182.7L262.5 183.3L262.8 183.5L263.8 184.2L263.9 184.3L264.8 185L265.2 185.3L265.8 185.7L266.6 186.3L266.8 186.5L267.8 187.2L267.9 187.3L268.8 188L269.3 188.3L269.8 188.7L270.6 189.3L270.8 189.5L271.8 190.2L272 190.3L272.8 190.9L273.3 191.3L273.8 191.7L274.7 192.3L274.8 192.4L275.8 193.2L276 193.3L276.8 193.9L277.4 194.3L277.8 194.7L278.7 195.3L278.9 195.4L279.9 196.2L280.1 196.3L280.9 196.9L281.4 197.3L281.9 197.7L282.8 198.3L282.9 198.4L283.9 199.1L284.1 199.3L284.9 199.9L285.5 200.3L285.9 200.6L286.8 201.3L286.9 201.4L287.9 202.1L288.2 202.3L288.9 202.9L289.5 203.3L289.9 203.6L290.9 204.3L290.9 204.4L291.9 205.1L292.2 205.3L292.9 205.8L293.6 206.3L293.9 206.6L294.9 207.3L294.9 207.3L295.9 208.1L296.3 208.3L296.9 208.8L297.6 209.3L297.9 209.6L298.9 210.3L299 210.3L300 211.1L300.3 211.3L301 211.8L301.7 212.3L302 212.6L303 213.3L303 213.3L304 214L304.4 214.4L305 214.8L305.7 215.4L306 215.5L307 216.3L307.1 216.4L308 217Z" fill="#006c0a"/><path fill-rule="evenodd" d="M308 186.3L308 186.3L309 187.1L309 186.3L309 185.3L309 184.3L309 183.3L309 182.3L309 181.3L309 180.3L309 179.3L309 178.3L309 177.3L309 176.3L309 175.3L309 174.3L308 174.3L307 174.3L306 174.3L305 174.3L304 174.3L303 174.3L302 174.3L301 174.3L300 174.3L298.9 174.3L297.9 174.3L296.9 174.3L295.9 174.3L294.9 174.3L293.9 174.3L292.9 174.3L291.9 174.3L291.8 174.3L291.9 174.4L292.9 175.2L293.1 175.3L293.9 175.9L294.5 176.3L294.9 176.7L295.8 177.3L295.9 177.4L296.9 178.1L297.2 178.3L297.9 178.9L298.5 179.3L298.9 179.6L299.9 180.3L300 180.4L301 181.1L301.2 181.3L302 181.9L302.6 182.3L303 182.6L303.9 183.3L304 183.4L305 184.1L305.3 184.3L306 184.9L306.6 185.3L307 185.6Z" fill="#004c06"/><path d="M228.6 250.2L228.9 250.4L229.6 250.9L230.2 251.4L230.6 251.7L231.6 252.4L231.6 252.4L232.6 253.2L232.9 253.4L233.6 253.9L234.3 254.4M228.6 219.5L229.6 220.3L229.7 220.4L230.6 221L231.1 221.4L231.6 221.8L232.4 222.4L232.6 222.5L233.6 223.2L233.8 223.4L234.6 224L235.1 224.4L235.6 224.7L236.5 225.4L236.6 225.5L237.6 226.2L237.8 226.4L238.7 227L239.2 227.4L239.7 227.7L240.5 228.4L240.7 228.5L241.7 229.2L241.9 229.4L242.7 230L243.2 230.4L243.7 230.7L244.6 231.4L244.7 231.4L245.7 232.2L245.9 232.4L246.7 232.9L247.3 233.4L247.7 233.7L248.6 234.4L248.7 234.4L249.7 235.2L250 235.4L250.7 235.9L251.3 236.4L251.7 236.7L252.7 237.4L252.7 237.4L253.7 238.1L254 238.4L254.7 238.9L255.4 239.4L255.7 239.6L256.7 240.4L256.7 240.4L257.7 241.1L258.1 241.4L258.8 241.9L259.4 242.4L259.8 242.6L260.8 243.4L260.8 243.4L261.8 244.1L262.1 244.4L262.8 244.9L263.5 245.4L263.8 245.6L264.8 246.3L264.8 246.4L265.8 247.1L266.2 247.4L266.8 247.8L267.5 248.4L267.8 248.6L268.8 249.3L268.9 249.4L269.8 250.1L270.2 250.4L270.8 250.8L271.6 251.4L271.8 251.6L272.8 252.3L272.9 252.4L273.8 253.1L274.3 253.4L274.8 253.8L275.6 254.4M228.6 188.8L229.3 189.3L229.6 189.6L230.6 190.3L230.6 190.3L231.6 191.1L232 191.3L232.6 191.8L233.3 192.3L233.6 192.6L234.6 193.3L234.7 193.3L235.6 194.1L236 194.3L236.6 194.8L237.4 195.3L237.6 195.5L238.7 196.3L238.7 196.3L239.7 197L240.1 197.3L240.7 197.8L241.4 198.3L241.7 198.5L242.7 199.3L242.8 199.3L243.7 200L244.1 200.3L244.7 200.8L245.5 201.3L245.7 201.5L246.7 202.3L246.8 202.3L247.7 203L248.2 203.3L248.7 203.7L249.5 204.3L249.7 204.5L250.7 205.2L250.9 205.3L251.7 206L252.2 206.3L252.7 206.7L253.6 207.3L253.7 207.5L254.7 208.2L254.9 208.3L255.7 209L256.3 209.3L256.7 209.7L257.6 210.3L257.7 210.4L258.8 211.2L259 211.3L259.8 211.9L260.3 212.3L260.8 212.7L261.7 213.3L261.8 213.4L262.8 214.2L263 214.4L263.8 214.9L264.4 215.4L264.8 215.7L265.7 216.4L265.8 216.4L266.8 217.2L267.1 217.4L267.8 217.9L268.4 218.4L268.8 218.6L269.8 219.4L269.8 219.4L270.8 220.1L271.1 220.4L271.8 220.9L272.5 221.4L272.8 221.6L273.8 222.4L273.8 222.4L274.8 223.1L275.2 223.4L275.8 223.9L276.5 224.4L276.8 224.6L277.8 225.4L277.9 225.4L278.9 226.1L279.2 226.4L279.9 226.8L280.6 227.4L280.9 227.6L281.9 228.3L281.9 228.4L282.9 229.1L283.3 229.4L283.9 229.8L284.6 230.4L284.9 230.6L285.9 231.3L286 231.4L286.9 232.1L287.3 232.4L287.9 232.8L288.7 233.4L288.9 233.6L289.9 234.3L290 234.4L290.9 235L291.4 235.4L291.9 235.8L292.7 236.4L292.9 236.5L293.9 237.3L294.1 237.4L294.9 238L295.4 238.4L295.9 238.8L296.8 239.4L296.9 239.5L297.9 240.3L298.1 240.4L298.9 241L299.5 241.4L300 241.7L300.8 242.4L301 242.5L302 243.2L302.2 243.4L303 244L303.5 244.4L304 244.7L304.9 245.4L305 245.5L306 246.2L306.2 246.4L307 247L307.6 247.4L308 247.7L308.9 248.4L309 248.5M250.4 174.3L250.7 174.5L251.7 175.3L251.7 175.3L252.7 176L253.1 176.3L253.7 176.8L254.4 177.3L254.7 177.5L255.7 178.3L255.8 178.3L256.7 179L257.1 179.3L257.7 179.8L258.5 180.3L258.8 180.5L259.8 181.3L259.8 181.3L260.8 182L261.2 182.3L261.8 182.7L262.5 183.3L262.8 183.5L263.8 184.2L263.9 184.3L264.8 185L265.2 185.3L265.8 185.7L266.6 186.3L266.8 186.5L267.8 187.2L267.9 187.3L268.8 188L269.3 188.3L269.8 188.7L270.6 189.3L270.8 189.5L271.8 190.2L272 190.3L272.8 190.9L273.3 191.3L273.8 191.7L274.7 192.3L274.8 192.4L275.8 193.2L276 193.3L276.8 193.9L277.4 194.3L277.8 194.7L278.7 195.3L278.9 195.4L279.9 196.2L280.1 196.3L280.9 196.9L281.4 197.3L281.9 197.7L282.8 198.3L282.9 198.4L283.9 199.1L284.1 199.3L284.9 199.9L285.5 200.3L285.9 200.6L286.8 201.3L286.9 201.4L287.9 202.1L288.2 202.3L288.9 202.9L289.5 203.3L289.9 203.6L290.9 204.3L290.9 204.4L291.9 205.1L292.2 205.3L292.9 205.8L293.6 206.3L293.9 206.6L294.9 207.3L294.9 207.3L295.9 208.1L296.3 208.3L296.9 208.8L297.6 209.3L297.9 209.6L298.9 210.3L299 210.3L300 211.1L300.3 211.3L301 211.8L301.7 212.3L302 212.6L303 213.3L303 213.3L304 214L304.4 214.4L305 214.8L305.7 215.4L306 215.5L307 216.3L307.1 216.4L308 217L308.4 217.4L309 217.8M291.8 174.3L291.9 174.4L292.9 175.2L293.1 175.3L293.9 175.9L294.5 176.3L294.9 176.7L295.8 177.3L295.9 177.4L296.9 178.1L297.2 178.3L297.9 178.9L298.5 179.3L298.9 179.6L299.9 180.3L300 180.4L301 181.1L301.2 181.3L302 181.9L302.6 182.3L303 182.6L303.9 183.3L304 183.4L305 184.1L305.3 184.3L306 184.9L306.6 185.3L307 185.6L308 186.3L308 186.3L309 187.1" fill="none" stroke="#0c2a14" stroke-width="0.45"/><line x1="240.37" y1="254.4" x2="240.37" y2="255.8" stroke="#999" stroke-width="0.5"/><text x="240.37" y="260.63" text-anchor="middle" font-size="4.8" fill="#505050">40</text><line x1="254.59" y1="254.4" x2="254.59" y2="255.8" stroke="#999" stroke-width="0.5"/><text x="254.59" y="260.63" text-anchor="middle" font-size="4.8" fill="#505050">50</text><line x1="268.8" y1="254.4" x2="268.8" y2="255.8" stroke="#999" stroke-width="0.5"/><text x="268.8" y="260.63" text-anchor="middle" font-size="4.8" fill="#505050">60</text><line x1="283.01" y1="254.4" x2="283.01" y2="255.8" stroke="#999" stroke-width="0.5"/><text x="283.01" y="260.63" text-anchor="middle" font-size="4.8" fill="#505050">70</text><line x1="297.23" y1="254.4" x2="297.23" y2="255.8" stroke="#999" stroke-width="0.5"/><text x="297.23" y="260.63" text-anchor="middle" font-size="4.8" fill="#505050">80</text><line x1="227.2" y1="242.67" x2="228.6" y2="242.67" stroke="#999" stroke-width="0.5"/><text x="226.7" y="245" text-anchor="end" font-size="4.8" fill="#505050">20</text><line x1="227.2" y1="228.51" x2="228.6" y2="228.51" stroke="#999" stroke-width="0.5"/><text x="226.7" y="230.84" text-anchor="end" font-size="4.8" fill="#505050">30</text><line x1="227.2" y1="214.35" x2="228.6" y2="214.35" stroke="#999" stroke-width="0.5"/><text x="226.7" y="216.68" text-anchor="end" font-size="4.8" fill="#505050">40</text><line x1="227.2" y1="200.19" x2="228.6" y2="200.19" stroke="#999" stroke-width="0.5"/><text x="226.7" y="202.52" text-anchor="end" font-size="4.8" fill="#505050">50</text><line x1="227.2" y1="186.03" x2="228.6" y2="186.03" stroke="#999" stroke-width="0.5"/><text x="226.7" y="188.36" text-anchor="end" font-size="4.8" fill="#505050">60</text><text x="269.3" y="268.8" text-anchor="middle" font-size="5.5" fill="#444">Concentration</text><text transform="translate(218.7 214.65) rotate(-90)" text-anchor="middle" font-size="4.5" fill="#444">SMR</text><text x="332.3" y="180.6" text-anchor="middle" font-size="4.6" fill="#444">FRAP</text><rect x="314.8" y="182.55" width="4.6" height="4.3" fill="#80e2b2"/><text x="332.8" y="186.32" text-anchor="middle" font-size="4.5" fill="#444">&lt;</text><text x="343.2" y="186.32" text-anchor="end" font-size="4.5" fill="#444">50</text><rect x="314.8" y="188.4" width="4.6" height="4.3" fill="#40cf7e"/><text x="328.4" y="192.17" text-anchor="end" font-size="4.5" fill="#444">50</text><text x="332.8" y="192.17" text-anchor="middle" font-size="4.5" fill="#444">–</text><text x="343.2" y="192.17" text-anchor="end" font-size="4.5" fill="#444">60</text><rect x="314.8" y="194.25" width="4.6" height="4.3" fill="#08b050"/><text x="328.4" y="198.02" text-anchor="end" font-size="4.5" fill="#444">60</text><text x="332.8" y="198.02" text-anchor="middle" font-size="4.5" fill="#444">–</text><text x="343.2" y="198.02" text-anchor="end" font-size="4.5" fill="#444">70</text><rect x="314.8" y="200.1" width="4.6" height="4.3" fill="#008c14"/><text x="328.4" y="203.87" text-anchor="end" font-size="4.5" fill="#444">70</text><text x="332.8" y="203.87" text-anchor="middle" font-size="4.5" fill="#444">–</text><text x="343.2" y="203.87" text-anchor="end" font-size="4.5" fill="#444">80</text><rect x="314.8" y="205.95" width="4.6" height="4.3" fill="#006c0a"/><text x="328.4" y="209.72" text-anchor="end" font-size="4.5" fill="#444">80</text><text x="332.8" y="209.72" text-anchor="middle" font-size="4.5" fill="#444">–</text><text x="343.2" y="209.72" text-anchor="end" font-size="4.5" fill="#444">90</text><rect x="314.8" y="211.8" width="4.6" height="4.3" fill="#004c06"/><text x="332.8" y="215.57" text-anchor="middle" font-size="4.5" fill="#444">&gt;</text><text x="343.2" y="215.57" text-anchor="end" font-size="4.5" fill="#444">90</text></g>
<g font-family='"Liberation Sans", sans-serif'><line x1="50.9" y1="375" x2="84.1" y2="342.44" stroke="#e6e6e6" stroke-width="0.5"/><line x1="84.1" y1="342.44" x2="166.1" y2="354.57" stroke="#e6e6e6" stroke-width="0.5"/><line x1="50.9" y1="360.43" x2="84.1" y2="327.73" stroke="#e6e6e6" stroke-width="0.5"/><line x1="84.1" y1="327.73" x2="166.1" y2="339.72" stroke="#e6e6e6" stroke-width="0.5"/><line x1="50.9" y1="345.87" x2="84.1" y2="313.02" stroke="#e6e6e6" stroke-width="0.5"/><line x1="84.1" y1="313.02" x2="166.1" y2="324.87" stroke="#e6e6e6" stroke-width="0.5"/><line x1="50.9" y1="331.3" x2="84.1" y2="298.31" stroke="#e6e6e6" stroke-width="0.5"/><line x1="84.1" y1="298.31" x2="166.1" y2="310.01" stroke="#e6e6e6" stroke-width="0.5"/><line x1="98.91" y1="351.2" x2="98.91" y2="299.81" stroke="#e6e6e6" stroke-width="0.5"/><line x1="66.52" y1="383.92" x2="98.91" y2="351.2" stroke="#e6e6e6" stroke-width="0.5"/><line x1="124.77" y1="355.05" x2="124.77" y2="303.5" stroke="#e6e6e6" stroke-width="0.5"/><line x1="93.8" y1="388.15" x2="124.77" y2="355.05" stroke="#e6e6e6" stroke-width="0.5"/><line x1="150.63" y1="358.9" x2="150.63" y2="307.19" stroke="#e6e6e6" stroke-width="0.5"/><line x1="121.08" y1="392.37" x2="150.63" y2="358.9" stroke="#e6e6e6" stroke-width="0.5"/><line x1="57.27" y1="375.27" x2="57.27" y2="324.37" stroke="#e6e6e6" stroke-width="0.5"/><line x1="57.27" y1="375.27" x2="142.9" y2="388.44" stroke="#e6e6e6" stroke-width="0.5"/><line x1="67.83" y1="364.93" x2="67.83" y2="313.87" stroke="#e6e6e6" stroke-width="0.5"/><line x1="67.83" y1="364.93" x2="152.04" y2="377.71" stroke="#e6e6e6" stroke-width="0.5"/><line x1="78.4" y1="354.58" x2="78.4" y2="303.37" stroke="#e6e6e6" stroke-width="0.5"/><line x1="78.4" y1="354.58" x2="161.17" y2="366.99" stroke="#e6e6e6" stroke-width="0.5"/><line x1="50.9" y1="381.5" x2="50.9" y2="330.7" stroke="#c6c6c6" stroke-width="0.6"/><line x1="84.1" y1="349" x2="84.1" y2="297.7" stroke="#c6c6c6" stroke-width="0.6"/><line x1="166.1" y1="361.2" x2="166.1" y2="309.4" stroke="#c6c6c6" stroke-width="0.6"/><line x1="50.9" y1="330.7" x2="84.1" y2="297.7" stroke="#c6c6c6" stroke-width="0.6"/><line x1="84.1" y1="297.7" x2="166.1" y2="309.4" stroke="#c6c6c6" stroke-width="0.6"/><line x1="50.9" y1="381.5" x2="137.4" y2="394.9" stroke="#c6c6c6" stroke-width="0.6"/><line x1="137.4" y1="394.9" x2="166.1" y2="361.2" stroke="#c6c6c6" stroke-width="0.6"/><line x1="50.9" y1="381.5" x2="84.1" y2="349" stroke="#c6c6c6" stroke-width="0.6"/><line x1="84.1" y1="349" x2="166.1" y2="361.2" stroke="#c6c6c6" stroke-width="0.6"/><g fill="#e0e0e0" stroke="#383838" stroke-width="0.38" stroke-linejoin="round"><polygon points="84.9,328.58 89.81,325.1 91.77,324.23 86.88,327.72"/><polygon points="82.92,329.82 87.84,326.34 89.81,325.1 84.9,328.58"/><polygon points="89.81,325.1 94.71,322.11 96.65,321.23 91.77,324.23"/><polygon points="80.95,331.43 85.88,327.96 87.84,326.34 82.92,329.82"/><polygon points="87.84,326.34 92.76,323.36 94.71,322.11 89.81,325.1"/><polygon points="94.71,322.11 99.61,319.62 101.54,318.74 96.65,321.23"/><polygon points="78.97,333.42 83.92,329.96 85.88,327.96 80.95,331.43"/><polygon points="85.88,327.96 90.82,324.99 92.76,323.36 87.84,326.34"/><polygon points="92.76,323.36 97.68,320.88 99.61,319.62 94.71,322.11"/><polygon points="99.61,319.62 104.51,317.63 106.43,316.74 101.54,318.74"/><polygon points="76.99,335.77 81.96,332.32 83.92,329.96 78.97,333.42"/><polygon points="83.92,329.96 88.87,326.99 90.82,324.99 85.88,327.96"/><polygon points="90.82,324.99 95.75,322.52 97.68,320.88 92.76,323.36"/><polygon points="97.68,320.88 102.6,318.9 104.51,317.63 99.61,319.62"/><polygon points="104.51,317.63 109.42,316.14 111.32,315.25 106.43,316.74"/><polygon points="75.01,338.5 79.99,335.05 81.96,332.32 76.99,335.77"/><polygon points="81.96,332.32 86.92,329.36 88.87,326.99 83.92,329.96"/><polygon points="88.87,326.99 93.82,324.52 95.75,322.52 90.82,324.99"/><polygon points="95.75,322.52 100.69,320.54 102.6,318.9 97.68,320.88"/><polygon points="102.6,318.9 107.52,317.42 109.42,316.14 104.51,317.63"/><polygon points="109.42,316.14 114.32,315.16 116.2,314.25 111.32,315.25"/><polygon points="73.03,341.59 78.03,338.16 79.99,335.05 75.01,338.5"/><polygon points="79.99,335.05 84.98,332.1 86.92,329.36 81.96,332.32"/><polygon points="86.92,329.36 91.89,326.9 93.82,324.52 88.87,326.99"/><polygon points="93.82,324.52 98.77,322.55 100.69,320.54 95.75,322.52"/><polygon points="100.69,320.54 105.62,319.06 107.52,317.42 102.6,318.9"/><polygon points="107.52,317.42 112.44,316.43 114.32,315.16 109.42,316.14"/><polygon points="114.32,315.16 119.22,314.67 121.09,313.76 116.2,314.25"/><polygon points="71.05,345.06 76.07,341.63 78.03,338.16 73.03,341.59"/><polygon points="78.03,338.16 83.03,335.21 84.98,332.1 79.99,335.05"/><polygon points="84.98,332.1 89.96,329.65 91.89,326.9 86.92,329.36"/><polygon points="91.89,326.9 96.86,324.94 98.77,322.55 93.82,324.52"/><polygon points="98.77,322.55 103.72,321.08 105.62,319.06 100.69,320.54"/><polygon points="105.62,319.06 110.56,318.09 112.44,316.43 107.52,317.42"/><polygon points="112.44,316.43 117.36,315.95 119.22,314.67 114.32,315.16"/><polygon points="119.22,314.67 124.13,314.69 125.98,313.77 121.09,313.76"/><polygon points="69.07,348.89 74.11,345.47 76.07,341.63 71.05,345.06"/><polygon points="76.07,341.63 81.08,338.7 83.03,335.21 78.03,338.16"/><polygon points="83.03,335.21 88.03,332.77 89.96,329.65 84.98,332.1"/><polygon points="89.96,329.65 94.94,327.69 96.86,324.94 91.89,326.9"/><polygon points="96.86,324.94 101.82,323.47 103.72,321.08 98.77,322.55"/><polygon points="103.72,321.08 108.67,320.11 110.56,318.09 105.62,319.06"/><polygon points="110.56,318.09 115.49,317.61 117.36,315.95 112.44,316.43"/><polygon points="117.36,315.95 122.28,315.98 124.13,314.69 119.22,314.67"/><polygon points="124.13,314.69 129.03,315.21 130.86,314.29 125.98,313.77"/><polygon points="67.1,353.1 72.14,349.68 74.11,345.47 69.07,348.89"/><polygon points="74.11,345.47 79.14,342.55 81.08,338.7 76.07,341.63"/><polygon points="81.08,338.7 86.1,336.26 88.03,332.77 83.03,335.21"/><polygon points="88.03,332.77 93.03,330.82 94.94,327.69 89.96,329.65"/><polygon points="94.94,327.69 99.93,326.24 101.82,323.47 96.86,324.94"/><polygon points="101.82,323.47 106.79,322.51 108.67,320.11 103.72,321.08"/><polygon points="108.67,320.11 113.63,319.64 115.49,317.61 110.56,318.09"/><polygon points="115.49,317.61 120.43,317.64 122.28,315.98 117.36,315.95"/><polygon points="122.28,315.98 127.2,316.5 129.03,315.21 124.13,314.69"/><polygon points="129.03,315.21 133.93,316.23 135.75,315.31 130.86,314.29"/><polygon points="65.12,357.67 70.18,354.26 72.14,349.68 67.1,353.1"/><polygon points="72.14,349.68 77.19,346.77 79.14,342.55 74.11,345.47"/><polygon points="79.14,342.55 84.17,340.12 86.1,336.26 81.08,338.7"/><polygon points="86.1,336.26 91.11,334.32 93.03,330.82 88.03,332.77"/><polygon points="93.03,330.82 98.03,329.37 99.93,326.24 94.94,327.69"/><polygon points="99.93,326.24 104.91,325.28 106.79,322.51 101.82,323.47"/><polygon points="106.79,322.51 111.76,322.05 113.63,319.64 108.67,320.11"/><polygon points="113.63,319.64 118.58,319.68 120.43,317.64 115.49,317.61"/><polygon points="120.43,317.64 125.36,318.17 127.2,316.5 122.28,315.98"/><polygon points="127.2,316.5 132.11,317.53 133.93,316.23 129.03,315.21"/><polygon points="133.93,316.23 138.84,317.76 140.64,316.84 135.75,315.31"/><polygon points="63.14,362.6 68.22,359.21 70.18,354.26 65.12,357.67"/><polygon points="70.18,354.26 75.24,351.35 77.19,346.77 72.14,349.68"/><polygon points="77.19,346.77 82.24,344.35 84.17,340.12 79.14,342.55"/><polygon points="84.17,340.12 89.2,338.18 91.11,334.32 86.1,336.26"/><polygon points="91.11,334.32 96.13,332.88 98.03,329.37 93.03,330.82"/><polygon points="98.03,329.37 103.03,328.42 104.91,325.28 99.93,326.24"/><polygon points="104.91,325.28 109.89,324.82 111.76,322.05 106.79,322.51"/><polygon points="111.76,322.05 116.73,322.08 118.58,319.68 113.63,319.64"/><polygon points="118.58,319.68 123.53,320.21 125.36,318.17 120.43,317.64"/><polygon points="125.36,318.17 130.3,319.2 132.11,317.53 127.2,316.5"/><polygon points="132.11,317.53 137.03,319.06 138.84,317.76 133.93,316.23"/><polygon points="138.84,317.76 143.74,319.8 145.52,318.87 140.64,316.84"/><polygon points="61.16,367.9 66.26,364.52 68.22,359.21 63.14,362.6"/><polygon points="68.22,359.21 73.3,356.31 75.24,351.35 70.18,354.26"/><polygon points="75.24,351.35 80.31,348.94 82.24,344.35 77.19,346.77"/><polygon points="82.24,344.35 87.29,342.42 89.2,338.18 84.17,340.12"/><polygon points="89.2,338.18 94.23,336.75 96.13,332.88 91.11,334.32"/><polygon points="96.13,332.88 101.15,331.93 103.03,328.42 98.03,329.37"/><polygon points="103.03,328.42 108.03,327.97 109.89,324.82 104.91,325.28"/><polygon points="109.89,324.82 114.88,324.87 116.73,322.08 111.76,322.05"/><polygon points="116.73,322.08 121.69,322.63 123.53,320.21 118.58,319.68"/><polygon points="123.53,320.21 128.48,321.25 130.3,319.2 125.36,318.17"/><polygon points="130.3,319.2 135.23,320.74 137.03,319.06 132.11,317.53"/><polygon points="137.03,319.06 141.95,321.1 143.74,319.8 138.84,317.76"/><polygon points="143.74,319.8 148.64,322.34 150.41,321.41 145.52,318.87"/><polygon points="59.18,373.57 64.29,370.2 66.26,364.52 61.16,367.9"/><polygon points="66.26,364.52 71.35,361.63 73.3,356.31 68.22,359.21"/><polygon points="73.3,356.31 78.38,353.9 80.31,348.94 75.24,351.35"/><polygon points="80.31,348.94 85.37,347.02 87.29,342.42 82.24,344.35"/><polygon points="87.29,342.42 92.33,340.99 94.23,336.75 89.2,338.18"/><polygon points="94.23,336.75 99.26,335.81 101.15,331.93 96.13,332.88"/><polygon points="101.15,331.93 106.16,331.49 108.03,327.97 103.03,328.42"/><polygon points="108.03,327.97 113.03,328.02 114.88,324.87 109.89,324.82"/><polygon points="114.88,324.87 119.86,325.41 121.69,322.63 116.73,322.08"/><polygon points="121.69,322.63 126.66,323.67 128.48,321.25 123.53,320.21"/><polygon points="128.48,321.25 133.43,322.79 135.23,320.74 130.3,319.2"/><polygon points="135.23,320.74 140.17,322.79 141.95,321.1 137.03,319.06"/><polygon points="141.95,321.1 146.87,323.65 148.64,322.34 143.74,319.8"/><polygon points="148.64,322.34 153.54,325.39 155.3,324.46 150.41,321.41"/><polygon points="57.2,379.6 62.33,376.24 64.29,370.2 59.18,373.57"/><polygon points="64.29,370.2 69.41,367.32 71.35,361.63 66.26,364.52"/><polygon points="71.35,361.63 76.45,359.23 78.38,353.9 73.3,356.31"/><polygon points="78.38,353.9 83.46,352 85.37,347.02 80.31,348.94"/><polygon points="85.37,347.02 90.44,345.61 92.33,340.99 87.29,342.42"/><polygon points="92.33,340.99 97.38,340.07 99.26,335.81 94.23,336.75"/><polygon points="99.26,335.81 104.29,335.38 106.16,331.49 101.15,331.93"/><polygon points="106.16,331.49 111.18,331.55 113.03,328.02 108.03,327.97"/><polygon points="113.03,328.02 118.03,328.57 119.86,325.41 114.88,324.87"/><polygon points="119.86,325.41 124.84,326.46 126.66,323.67 121.69,322.63"/><polygon points="126.66,323.67 131.63,325.22 133.43,322.79 128.48,321.25"/><polygon points="133.43,322.79 138.38,324.84 140.17,322.79 135.23,320.74"/><polygon points="140.17,322.79 145.1,325.34 146.87,323.65 141.95,321.1"/><polygon points="146.87,323.65 151.79,326.71 153.54,325.39 148.64,322.34"/><polygon points="153.54,325.39 158.45,328.95 160.19,328.01 155.3,324.46"/><polygon points="62.33,376.24 67.46,373.37 69.41,367.32 64.29,370.2"/><polygon points="69.41,367.32 74.52,364.93 76.45,359.23 71.35,361.63"/><polygon points="76.45,359.23 81.54,357.34 83.46,352 78.38,353.9"/><polygon points="83.46,352 88.54,350.59 90.44,345.61 85.37,347.02"/><polygon points="90.44,345.61 95.5,344.68 97.38,340.07 92.33,340.99"/><polygon points="97.38,340.07 102.43,339.64 104.29,335.38 99.26,335.81"/><polygon points="104.29,335.38 109.33,335.44 111.18,331.55 106.16,331.49"/><polygon points="111.18,331.55 116.19,332.1 118.03,328.57 113.03,328.02"/><polygon points="118.03,328.57 123.03,329.63 124.84,326.46 119.86,325.41"/><polygon points="124.84,326.46 129.83,328.02 131.63,325.22 126.66,323.67"/><polygon points="131.63,325.22 136.6,327.27 138.38,324.84 133.43,322.79"/><polygon points="138.38,324.84 143.33,327.4 145.1,325.34 140.17,322.79"/><polygon points="145.1,325.34 150.04,328.4 151.79,326.71 146.87,323.65"/><polygon points="151.79,326.71 156.71,330.27 158.45,328.95 153.54,325.39"/><polygon points="67.46,373.37 72.59,370.99 74.52,364.93 69.41,367.32"/><polygon points="74.52,364.93 79.63,363.04 81.54,357.34 76.45,359.23"/><polygon points="81.54,357.34 86.64,355.93 88.54,350.59 83.46,352"/><polygon points="88.54,350.59 93.62,349.67 95.5,344.68 90.44,345.61"/><polygon points="95.5,344.68 100.56,344.26 102.43,339.64 97.38,340.07"/><polygon points="102.43,339.64 107.48,339.71 109.33,335.44 104.29,335.38"/><polygon points="109.33,335.44 114.36,336.01 116.19,332.1 111.18,331.55"/><polygon points="116.19,332.1 121.21,333.17 123.03,329.63 118.03,328.57"/><polygon points="123.03,329.63 128.02,331.19 129.83,328.02 124.84,326.46"/><polygon points="129.83,328.02 134.81,330.08 136.6,327.27 131.63,325.22"/><polygon points="136.6,327.27 141.56,329.83 143.33,327.4 138.38,324.84"/><polygon points="143.33,327.4 148.28,330.46 150.04,328.4 145.1,325.34"/><polygon points="150.04,328.4 154.97,331.96 156.71,330.27 151.79,326.71"/><polygon points="72.59,370.99 77.71,369.11 79.63,363.04 74.52,364.93"/><polygon points="79.63,363.04 84.74,361.65 86.64,355.93 81.54,357.34"/><polygon points="86.64,355.93 91.73,355.03 93.62,349.67 88.54,350.59"/><polygon points="93.62,349.67 98.7,349.26 100.56,344.26 95.5,344.68"/><polygon points="100.56,344.26 105.63,344.34 107.48,339.71 102.43,339.64"/><polygon points="107.48,339.71 112.52,340.28 114.36,336.01 109.33,335.44"/><polygon points="114.36,336.01 119.39,337.07 121.21,333.17 116.19,332.1"/><polygon points="121.21,333.17 126.22,334.73 128.02,331.19 123.03,329.63"/><polygon points="128.02,331.19 133.02,333.25 134.81,330.08 129.83,328.02"/><polygon points="134.81,330.08 139.79,332.64 141.56,329.83 136.6,327.27"/><polygon points="141.56,329.83 146.53,332.9 148.28,330.46 143.33,327.4"/><polygon points="148.28,330.46 153.23,334.03 154.97,331.96 150.04,328.4"/><polygon points="77.71,369.11 82.84,367.73 84.74,361.65 79.63,363.04"/><polygon points="84.74,361.65 89.85,360.75 91.73,355.03 86.64,355.93"/><polygon points="91.73,355.03 96.83,354.62 98.7,349.26 93.62,349.67"/><polygon points="98.7,349.26 103.78,349.34 105.63,344.34 100.56,344.26"/><polygon points="105.63,344.34 110.69,344.92 112.52,340.28 107.48,339.71"/><polygon points="112.52,340.28 117.57,341.35 119.39,337.07 114.36,336.01"/><polygon points="119.39,337.07 124.42,338.64 126.22,334.73 121.21,333.17"/><polygon points="126.22,334.73 131.24,336.8 133.02,333.25 128.02,331.19"/><polygon points="133.02,333.25 138.02,335.82 139.79,332.64 134.81,330.08"/><polygon points="139.79,332.64 144.78,335.71 146.53,332.9 141.56,329.83"/><polygon points="146.53,332.9 151.5,336.47 153.23,334.03 148.28,330.46"/><polygon points="82.84,367.73 87.97,366.84 89.85,360.75 84.74,361.65"/><polygon points="89.85,360.75 94.96,360.35 96.83,354.62 91.73,355.03"/><polygon points="96.83,354.62 101.93,354.71 103.78,349.34 98.7,349.26"/><polygon points="103.78,349.34 108.86,349.93 110.69,344.92 105.63,344.34"/><polygon points="110.69,344.92 115.75,346 117.57,341.35 112.52,340.28"/><polygon points="117.57,341.35 122.62,342.93 124.42,338.64 119.39,337.07"/><polygon points="124.42,338.64 129.45,340.72 131.24,336.8 126.22,334.73"/><polygon points="131.24,336.8 136.25,339.37 138.02,335.82 133.02,333.25"/><polygon points="138.02,335.82 143.02,338.9 144.78,335.71 139.79,332.64"/><polygon points="144.78,335.71 149.76,339.29 151.5,336.47 146.53,332.9"/><polygon points="87.97,366.84 93.1,366.45 94.96,360.35 89.85,360.75"/><polygon points="94.96,360.35 100.08,360.45 101.93,354.71 96.83,354.62"/><polygon points="101.93,354.71 107.02,355.31 108.86,349.93 103.78,349.34"/><polygon points="108.86,349.93 113.94,351.02 115.75,346 110.69,344.92"/><polygon points="115.75,346 120.82,347.58 122.62,342.93 117.57,341.35"/><polygon points="122.62,342.93 127.67,345.01 129.45,340.72 124.42,338.64"/><polygon points="129.45,340.72 134.48,343.3 136.25,339.37 131.24,336.8"/><polygon points="136.25,339.37 141.27,342.45 143.02,338.9 138.02,335.82"/><polygon points="143.02,338.9 148.02,342.48 149.76,339.29 144.78,335.71"/><polygon points="93.1,366.45 98.23,366.56 100.08,360.45 94.96,360.35"/><polygon points="100.08,360.45 105.19,361.05 107.02,355.31 101.93,354.71"/><polygon points="107.02,355.31 112.12,356.4 113.94,351.02 108.86,349.93"/><polygon points="113.94,351.02 119.02,352.61 120.82,347.58 115.75,346"/><polygon points="120.82,347.58 125.88,349.67 127.67,345.01 122.62,342.93"/><polygon points="127.67,345.01 132.71,347.59 134.48,343.3 129.45,340.72"/><polygon points="134.48,343.3 139.52,346.38 141.27,342.45 136.25,339.37"/><polygon points="141.27,342.45 146.28,346.04 148.02,342.48 143.02,338.9"/><polygon points="98.23,366.56 103.35,367.16 105.19,361.05 100.08,360.45"/><polygon points="105.19,361.05 110.3,362.15 112.12,356.4 107.02,355.31"/><polygon points="112.12,356.4 117.21,358 119.02,352.61 113.94,351.02"/><polygon points="119.02,352.61 124.09,354.7 125.88,349.67 120.82,347.58"/><polygon points="125.88,349.67 130.94,352.26 132.71,347.59 127.67,345.01"/><polygon points="132.71,347.59 137.76,350.68 139.52,346.38 134.48,343.3"/><polygon points="139.52,346.38 144.55,349.97 146.28,346.04 141.27,342.45"/><polygon points="103.35,367.16 108.48,368.27 110.3,362.15 105.19,361.05"/><polygon points="110.3,362.15 115.41,363.76 117.21,358 112.12,356.4"/><polygon points="117.21,358 122.31,360.1 124.09,354.7 119.02,352.61"/><polygon points="124.09,354.7 129.17,357.29 130.94,352.26 125.88,349.67"/><polygon points="130.94,352.26 136.01,355.35 137.76,350.68 132.71,347.59"/><polygon points="137.76,350.68 142.81,354.28 144.55,349.97 139.52,346.38"/><polygon points="108.48,368.27 113.61,369.88 115.41,363.76 110.3,362.15"/><polygon points="115.41,363.76 120.52,365.86 122.31,360.1 117.21,358"/><polygon points="122.31,360.1 127.4,362.7 129.17,357.29 124.09,354.7"/><polygon points="129.17,357.29 134.25,360.39 136.01,355.35 130.94,352.26"/><polygon points="136.01,355.35 141.07,358.96 142.81,354.28 137.76,350.68"/><polygon points="113.61,369.88 118.74,371.99 120.52,365.86 115.41,363.76"/><polygon points="120.52,365.86 125.63,368.47 127.4,362.7 122.31,360.1"/><polygon points="127.4,362.7 132.5,365.8 134.25,360.39 129.17,357.29"/><polygon points="134.25,360.39 139.33,364 141.07,358.96 136.01,355.35"/><polygon points="118.74,371.99 123.87,374.61 125.63,368.47 120.52,365.86"/><polygon points="125.63,368.47 130.75,371.58 132.5,365.8 127.4,362.7"/><polygon points="132.5,365.8 137.6,369.42 139.33,364 134.25,360.39"/><polygon points="123.87,374.61 128.99,377.73 130.75,371.58 125.63,368.47"/><polygon points="130.75,371.58 135.86,375.2 137.6,369.42 132.5,365.8"/><polygon points="128.99,377.73 134.12,381.35 135.86,375.2 130.75,371.58"/></g><line x1="48.9" y1="375" x2="50.9" y2="375" stroke="#c6c6c6" stroke-width="0.5"/><text x="42.3" y="376.17" text-anchor="end" font-size="5.2" fill="#505050">10</text><line x1="48.9" y1="360.3" x2="50.9" y2="360.3" stroke="#c6c6c6" stroke-width="0.5"/><text x="42.3" y="361.47" text-anchor="end" font-size="5.2" fill="#505050">20</text><line x1="48.9" y1="345.8" x2="50.9" y2="345.8" stroke="#c6c6c6" stroke-width="0.5"/><text x="42.3" y="346.97" text-anchor="end" font-size="5.2" fill="#505050">30</text><line x1="48.9" y1="331.3" x2="50.9" y2="331.3" stroke="#c6c6c6" stroke-width="0.5"/><text x="42.3" y="332.47" text-anchor="end" font-size="5.2" fill="#505050">40</text><line x1="66.52" y1="383.92" x2="65.72" y2="385.72" stroke="#c6c6c6" stroke-width="0.5"/><text x="61.4" y="392.47" text-anchor="middle" font-size="5.2" fill="#505050">40</text><line x1="93.8" y1="388.15" x2="93" y2="389.95" stroke="#c6c6c6" stroke-width="0.5"/><text x="87" y="396.77" text-anchor="middle" font-size="5.2" fill="#505050">60</text><line x1="121.08" y1="392.37" x2="120.28" y2="394.17" stroke="#c6c6c6" stroke-width="0.5"/><text x="112.6" y="400.17" text-anchor="middle" font-size="5.2" fill="#505050">80</text><line x1="142.9" y1="388.44" x2="144.7" y2="389.24" stroke="#c6c6c6" stroke-width="0.5"/><text x="148.1" y="393.77" text-anchor="middle" font-size="5.2" fill="#505050">20</text><line x1="152.04" y1="377.71" x2="153.84" y2="378.51" stroke="#c6c6c6" stroke-width="0.5"/><text x="159" y="383.87" text-anchor="middle" font-size="5.2" fill="#505050">40</text><line x1="161.17" y1="366.99" x2="162.97" y2="367.79" stroke="#c6c6c6" stroke-width="0.5"/><text x="170" y="372.37" text-anchor="middle" font-size="5.2" fill="#505050">60</text><text x="20.7" y="355.4" font-size="5.5" font-weight="bold" fill="#222">TPC</text><text x="57.1" y="408.4" font-size="5.5" font-weight="bold" fill="#222">Concentration</text><text x="169.4" y="384.3" font-size="5.5" font-weight="bold" fill="#222">SMR</text></g>
<g font-family='"Liberation Sans", sans-serif'><rect x="228.6" y="305.4" width="80" height="80.5" fill="#000080"/><path fill-rule="evenodd" d="M235.3 384.9L235.6 385.2L236.4 385.9L236.6 385.9L237.6 385.9L238.6 385.9L239.6 385.9L240.6 385.9L241.6 385.9L242.6 385.9L243.6 385.9L244.6 385.9L245.6 385.9L246.6 385.9L247.6 385.9L248.6 385.9L249.6 385.9L250.6 385.9L251.6 385.9L252.6 385.9L253.6 385.9L254.6 385.9L255.6 385.9L256.6 385.9L257.6 385.9L258.6 385.9L259.6 385.9L260.6 385.9L261.6 385.9L262.6 385.9L263.6 385.9L264.6 385.9L265.6 385.9L266.6 385.9L267.6 385.9L268.6 385.9L269.6 385.9L270.6 385.9L271.6 385.9L272.6 385.9L273.6 385.9L274.6 385.9L275.6 385.9L276.6 385.9L277.6 385.9L278.6 385.9L279.6 385.9L280.6 385.9L281.6 385.9L282.6 385.9L283.6 385.9L284.6 385.9L285.6 385.9L286.6 385.9L287.6 385.9L288.6 385.9L289.6 385.9L290.6 385.9L291.6 385.9L292.6 385.9L293.6 385.9L294.6 385.9L295.6 385.9L296.6 385.9L297.6 385.9L298.6 385.9L299.6 385.9L300.6 385.9L301.6 385.9L302.6 385.9L303.6 385.9L304.6 385.9L305.6 385.9L306.6 385.9L307.6 385.9L308.6 385.9L308.6 384.9L308.6 383.9L308.6 382.9L308.6 381.9L308.6 380.9L308.6 379.9L308.6 378.9L308.6 377.8L308.6 376.8L308.6 375.8L308.6 374.8L308.6 373.8L308.6 372.8L308.6 371.8L308.6 370.8L308.6 369.8L308.6 368.8L308.6 367.8L308.6 366.8L308.6 365.8L308.6 364.8L308.6 363.8L308.6 362.8L308.6 361.8L308.6 360.7L308.6 359.7L308.6 358.7L308.6 357.7L308.6 356.7L308.6 355.7L308.6 354.7L308.6 353.7L308.6 352.7L308.6 351.7L308.6 350.7L308.6 349.7L308.6 348.7L308.6 347.7L308.6 346.7L308.6 345.6L308.6 344.6L308.6 343.6L308.6 342.6L308.6 341.6L308.6 340.6L308.6 339.6L308.6 338.6L308.6 337.6L308.6 336.6L308.6 335.6L308.6 334.6L308.6 333.6L308.6 332.6L308.6 331.6L308.6 330.6L308.6 329.5L308.6 328.5L308.6 327.5L308.6 326.5L308.6 325.5L308.6 324.5L308.6 323.5L308.6 322.5L308.6 321.5L308.6 320.5L308.6 319.5L308.6 318.5L308.6 317.5L308.6 316.5L308.6 315.5L308.6 314.5L308.6 313.4L308.6 312.4L308.6 311.4L308.6 310.4L308.6 309.4L308.6 308.4L308.6 307.4L308.6 306.4L308.6 305.4L307.6 305.4L306.6 305.4L305.6 305.4L304.6 305.4L303.6 305.4L302.6 305.4L301.6 305.4L300.6 305.4L299.6 305.4L298.6 305.4L297.6 305.4L296.6 305.4L295.6 305.4L294.6 305.4L293.6 305.4L292.6 305.4L291.6 305.4L290.6 305.4L289.6 305.4L288.6 305.4L287.6 305.4L286.6 305.4L285.6 305.4L284.6 305.4L283.6 305.4L282.6 305.4L281.6 305.4L280.6 305.4L279.6 305.4L278.6 305.4L277.6 305.4L276.6 305.4L275.6 305.4L274.6 305.4L273.6 305.4L272.6 305.4L271.6 305.4L270.6 305.4L269.6 305.4L268.6 305.4L267.6 305.4L266.6 305.4L265.6 305.4L264.6 305.4L263.6 305.4L262.6 305.4L261.6 305.4L260.6 305.4L259.6 305.4L258.6 305.4L257.6 305.4L256.6 305.4L255.6 305.4L254.6 305.4L253.6 305.4L252.6 305.4L251.6 305.4L250.6 305.4L249.6 305.4L248.6 305.4L247.6 305.4L246.6 305.4L245.6 305.4L244.6 305.4L243.6 305.4L242.6 305.4L241.6 305.4L240.6 305.4L239.6 305.4L238.6 305.4L237.6 305.4L236.6 305.4L235.6 305.4L234.6 305.4L233.6 305.4L232.6 305.4L231.6 305.4L230.6 305.4L229.6 305.4L228.6 305.4L228.6 306.4L228.6 307.4L228.6 308.4L228.6 309.4L228.6 310.4L228.6 311.4L228.6 312.4L228.6 313.4L228.6 314.5L228.6 315.5L228.6 316.5L228.6 317.5L228.6 318.5L228.6 319.5L228.6 320.5L228.6 321.5L228.6 322.5L228.6 323.5L228.6 324.5L228.6 325.5L228.6 326.5L228.6 327.5L228.6 328.5L228.6 329.5L228.6 330.6L228.6 331.6L228.6 332.6L228.6 333.6L228.6 334.6L228.6 335.6L228.6 336.6L228.6 337.6L228.6 338.6L228.6 339.6L228.6 340.6L228.6 341.6L228.6 342.6L228.6 343.6L228.6 344.6L228.6 345.6L228.6 346.7L228.6 347.7L228.6 348.7L228.6 349.7L228.6 350.7L228.6 351.7L228.6 352.7L228.6 353.7L228.6 354.7L228.6 355.7L228.6 356.7L228.6 357.7L228.6 358.7L228.6 359.7L228.6 360.7L228.6 361.8L228.6 362.8L228.6 363.8L228.6 364.8L228.6 365.8L228.6 366.8L228.6 367.8L228.6 368.8L228.6 369.8L228.6 370.8L228.6 371.8L228.6 372.8L228.6 373.8L228.6 374.8L228.6 375.8L228.6 376.8L228.6 377.8L228.6 378L229.4 378.9L229.6 379.1L230.2 379.9L230.6 380.3L231.2 380.9L231.6 381.3L232.1 381.9L232.6 382.4L233.1 382.9L233.6 383.3L234.2 383.9L234.6 384.3Z" fill="#0a0ae0"/><path fill-rule="evenodd" d="M247.3 384.9L247.6 385.1L248.6 385.7L249 385.9L249.6 385.9L250.6 385.9L251.6 385.9L252.6 385.9L253.6 385.9L254.6 385.9L255.6 385.9L256.6 385.9L257.6 385.9L258.6 385.9L259.6 385.9L260.6 385.9L261.6 385.9L262.6 385.9L263.6 385.9L264.6 385.9L265.6 385.9L266.6 385.9L267.6 385.9L268.6 385.9L269.6 385.9L270.6 385.9L271.6 385.9L272.6 385.9L273.6 385.9L274.6 385.9L275.6 385.9L276.6 385.9L277.6 385.9L278.6 385.9L279.6 385.9L280.6 385.9L281.6 385.9L282.6 385.9L283.6 385.9L284.6 385.9L285.6 385.9L286.6 385.9L287.6 385.9L288.6 385.9L289.6 385.9L290.6 385.9L291.6 385.9L292.6 385.9L293.6 385.9L294.6 385.9L295.6 385.9L296.6 385.9L297.6 385.9L298.6 385.9L299.6 385.9L300.6 385.9L301.6 385.9L302.6 385.9L302.6 385.9L303.6 385.3L304.2 384.9L304.6 384.7L305.6 384L305.8 383.9L306.6 383.3L307.2 382.9L307.6 382.6L308.5 381.9L308.6 381.8L308.6 380.9L308.6 379.9L308.6 378.9L308.6 377.8L308.6 376.8L308.6 375.8L308.6 374.8L308.6 373.8L308.6 372.8L308.6 371.8L308.6 370.8L308.6 369.8L308.6 368.8L308.6 367.8L308.6 366.8L308.6 365.8L308.6 364.8L308.6 363.8L308.6 362.8L308.6 361.8L308.6 360.7L308.6 359.7L308.6 358.7L308.6 357.7L308.6 356.7L308.6 355.7L308.6 354.7L308.6 353.7L308.6 352.7L308.6 351.7L308.6 350.7L308.6 349.7L308.6 348.7L308.6 347.7L308.6 346.7L308.6 345.6L308.6 344.6L308.6 343.6L308.6 342.6L308.6 341.6L308.6 340.6L308.6 339.6L308.6 338.6L308.6 337.6L308.6 336.6L308.6 335.6L308.6 334.6L308.6 333.6L308.6 332.6L308.6 331.6L308.6 330.6L308.6 329.5L308.6 328.5L308.6 327.5L308.6 326.5L308.6 325.5L308.6 324.5L308.6 323.5L308.6 322.5L308.6 321.5L308.6 320.5L308.6 319.5L308.6 318.5L308.6 317.5L308.6 316.5L308.6 315.5L308.6 314.5L308.6 313.4L308.6 312.4L308.6 311.4L308.6 310.4L308.6 309.4L308.6 308.4L308.6 307.4L308.6 306.4L308.6 305.4L307.6 305.4L306.6 305.4L305.6 305.4L304.6 305.4L303.6 305.4L302.6 305.4L301.6 305.4L300.6 305.4L299.6 305.4L298.6 305.4L297.6 305.4L296.6 305.4L295.6 305.4L294.6 305.4L293.6 305.4L292.6 305.4L291.6 305.4L290.6 305.4L289.6 305.4L288.6 305.4L287.6 305.4L286.6 305.4L285.6 305.4L284.6 305.4L283.6 305.4L282.6 305.4L281.6 305.4L280.6 305.4L279.6 305.4L278.6 305.4L277.6 305.4L276.6 305.4L275.6 305.4L274.6 305.4L273.6 305.4L272.6 305.4L271.6 305.4L270.6 305.4L269.6 305.4L268.6 305.4L267.6 305.4L266.6 305.4L265.6 305.4L264.6 305.4L263.6 305.4L262.6 305.4L261.6 305.4L260.6 305.4L259.6 305.4L258.6 305.4L257.6 305.4L256.6 305.4L255.6 305.4L254.6 305.4L253.6 305.4L252.6 305.4L251.6 305.4L250.6 305.4L249.6 305.4L248.6 305.4L247.6 305.4L246.6 305.4L245.6 305.4L244.6 305.4L243.6 305.4L242.6 305.4L241.6 305.4L240.6 305.4L239.6 305.4L238.6 305.4L237.6 305.4L236.6 305.4L235.6 305.4L234.6 305.4L233.6 305.4L232.6 305.4L231.6 305.4L230.6 305.4L229.6 305.4L228.6 305.4L228.6 306.4L228.6 307.4L228.6 308.4L228.6 309.4L228.6 310.4L228.6 311.4L228.6 312.4L228.6 313.4L228.6 314.5L228.6 315.5L228.6 316.5L228.6 317.5L228.6 318.5L228.6 319.5L228.6 320.5L228.6 321.5L228.6 322.5L228.6 323.5L228.6 324.5L228.6 325.5L228.6 326.5L228.6 327.5L228.6 328.5L228.6 329.5L228.6 330.6L228.6 331.6L228.6 332.6L228.6 333.6L228.6 334.6L228.6 335.6L228.6 336.6L228.6 337.6L228.6 338.6L228.6 339.6L228.6 340.6L228.6 341.6L228.6 342.6L228.6 343.6L228.6 344.6L228.6 345.6L228.6 346.7L228.6 347.7L228.6 348.7L228.6 349.7L228.6 350.7L228.6 351.7L228.6 352.7L228.6 353.7L228.6 354.7L228.6 355.7L228.6 356.7L228.6 357.7L228.6 358.7L228.6 359.7L228.6 360.7L228.6 361.8L228.6 362.8L228.6 363.8L228.6 364.8L228.6 365.8L228.6 366.1L229 366.8L229.6 367.6L229.7 367.8L230.4 368.8L230.6 369L231.2 369.8L231.6 370.4L231.9 370.8L232.6 371.6L232.7 371.8L233.6 372.8L233.6 372.8L234.5 373.8L234.6 374L235.4 374.8L235.6 375.1L236.3 375.8L236.6 376.1L237.3 376.8L237.6 377.1L238.3 377.8L238.6 378.1L239.4 378.9L239.6 379L240.6 379.9L240.6 379.9L241.6 380.7L241.8 380.9L242.6 381.5L243 381.9L243.6 382.3L244.4 382.9L244.6 383L245.6 383.7L245.8 383.9L246.6 384.4Z" fill="#5c9fe0"/><path fill-rule="evenodd" d="M267.7 383.9L268.6 384L269.6 384.2L270.6 384.3L271.6 384.4L272.6 384.5L273.6 384.6L274.6 384.6L275.6 384.6L276.6 384.6L277.6 384.6L278.6 384.5L279.6 384.5L280.6 384.4L281.6 384.2L282.6 384.1L283.6 383.9L283.8 383.9L284.6 383.7L285.6 383.5L286.6 383.3L287.6 383L288.1 382.9L288.6 382.8L289.6 382.4L290.6 382.1L291.2 381.9L291.6 381.7L292.6 381.4L293.6 380.9L293.8 380.9L294.6 380.5L295.6 380L296 379.9L296.6 379.5L297.6 379L297.9 378.9L298.6 378.5L299.6 377.9L299.7 377.8L300.6 377.3L301.3 376.8L301.6 376.6L302.6 375.9L302.7 375.8L303.6 375.2L304.1 374.8L304.6 374.5L305.4 373.8L305.6 373.7L306.6 372.8L306.6 372.8L307.6 371.9L307.7 371.8L308.6 371L308.6 370.8L308.6 369.8L308.6 368.8L308.6 367.8L308.6 366.8L308.6 365.8L308.6 364.8L308.6 363.8L308.6 362.8L308.6 361.8L308.6 360.7L308.6 359.7L308.6 358.7L308.6 357.7L308.6 356.7L308.6 355.7L308.6 354.7L308.6 353.7L308.6 352.7L308.6 351.7L308.6 350.7L308.6 349.7L308.6 348.7L308.6 347.7L308.6 346.7L308.6 345.6L308.6 344.6L308.6 343.6L308.6 342.6L308.6 341.6L308.6 340.6L308.6 339.6L308.6 338.6L308.6 337.6L308.6 336.6L308.6 335.6L308.6 334.6L308.6 333.6L308.6 332.6L308.6 331.6L308.6 330.6L308.6 329.5L308.6 328.5L308.6 327.5L308.6 326.5L308.6 325.5L308.6 324.5L308.6 323.5L308.6 322.5L308.6 321.5L308.6 320.5L308.6 319.5L308.6 318.5L308.6 317.5L308.6 316.5L308.6 315.5L308.6 314.5L308.6 313.4L308.6 312.4L308.6 311.4L308.6 310.4L308.6 309.4L308.6 308.4L308.6 307.4L308.6 306.4L308.6 305.4L307.6 305.4L306.6 305.4L305.6 305.4L304.6 305.4L303.6 305.4L302.6 305.4L301.6 305.4L300.6 305.4L299.6 305.4L298.6 305.4L297.6 305.4L296.6 305.4L295.6 305.4L294.6 305.4L293.6 305.4L292.6 305.4L291.6 305.4L290.6 305.4L289.6 305.4L288.6 305.4L287.6 305.4L286.6 305.4L285.6 305.4L284.6 305.4L283.6 305.4L282.6 305.4L281.6 305.4L280.6 305.4L279.6 305.4L278.6 305.4L277.6 305.4L276.6 305.4L275.6 305.4L274.6 305.4L273.6 305.4L272.6 305.4L271.6 305.4L270.6 305.4L269.6 305.4L268.6 305.4L267.6 305.4L266.6 305.4L265.6 305.4L264.6 305.4L263.6 305.4L262.6 305.4L261.6 305.4L260.6 305.4L259.6 305.4L258.6 305.4L257.6 305.4L256.6 305.4L255.6 305.4L254.6 305.4L253.6 305.4L252.6 305.4L251.6 305.4L250.6 305.4L249.6 305.4L248.6 305.4L247.6 305.4L246.6 305.4L245.6 305.4L244.6 305.4L243.6 305.4L242.6 305.4L241.6 305.4L240.6 305.4L239.6 305.4L238.6 305.4L237.6 305.4L236.6 305.4L235.6 305.4L234.6 305.4L233.6 305.4L232.6 305.4L231.6 305.4L230.6 305.4L229.6 305.4L228.6 305.4L228.6 306.4L228.6 307.4L228.6 308.4L228.6 309.4L228.6 310.4L228.6 311.4L228.6 312.4L228.6 313.4L228.6 314.5L228.6 315.5L228.6 316.5L228.6 317.5L228.6 318.5L228.6 319.5L228.6 320.5L228.6 321.5L228.6 322.5L228.6 323.5L228.6 324.5L228.6 325.5L228.6 326.5L228.6 327.5L228.6 328.5L228.6 329.5L228.6 330.6L228.6 331.6L228.6 332.6L228.6 333.6L228.6 334.6L228.6 335.6L228.6 336.6L228.6 337.6L228.6 338.6L228.6 339.6L228.6 340.6L228.6 341.6L228.6 342.6L228.6 343.6L228.6 344.6L228.6 345.6L228.6 346.7L228.6 347.7L228.6 348.7L228.6 349.3L228.8 349.7L229.2 350.7L229.6 351.7L229.6 351.7L230.1 352.7L230.5 353.7L230.6 353.9L231 354.7L231.5 355.7L231.6 355.8L232.1 356.7L232.6 357.7L232.6 357.7L233.2 358.7L233.6 359.3L233.8 359.7L234.5 360.7L234.6 360.9L235.2 361.8L235.6 362.4L235.9 362.8L236.6 363.8L236.6 363.8L237.4 364.8L237.6 365.1L238.2 365.8L238.6 366.3L239 366.8L239.6 367.5L239.9 367.8L240.6 368.6L240.8 368.8L241.6 369.6L241.8 369.8L242.6 370.6L242.8 370.8L243.6 371.6L243.9 371.8L244.6 372.5L245 372.8L245.6 373.3L246.2 373.8L246.6 374.1L247.5 374.8L247.6 374.9L248.6 375.7L248.9 375.8L249.6 376.4L250.3 376.8L250.6 377L251.6 377.7L251.9 377.8L252.6 378.2L253.6 378.8L253.7 378.9L254.6 379.4L255.6 379.9L255.6 379.9L256.6 380.3L257.6 380.8L257.8 380.9L258.6 381.2L259.6 381.6L260.3 381.9L260.6 382L261.6 382.3L262.6 382.6L263.4 382.9L263.6 382.9L264.6 383.2L265.6 383.4L266.6 383.7L267.6 383.9Z" fill="#40cf7e"/><path fill-rule="evenodd" d="M269.3 373.8L269.6 373.9L270.6 374L271.6 374.2L272.6 374.3L273.6 374.3L274.6 374.4L275.6 374.4L276.6 374.4L277.6 374.4L278.6 374.3L279.6 374.2L280.6 374.1L281.6 373.9L282.3 373.8L282.6 373.8L283.6 373.6L284.6 373.3L285.6 373.1L286.6 372.8L286.6 372.8L287.6 372.5L288.6 372.1L289.5 371.8L289.6 371.8L290.6 371.4L291.6 370.9L291.8 370.8L292.6 370.4L293.6 369.9L293.8 369.8L294.6 369.4L295.6 368.8L295.6 368.8L296.6 368.2L297.2 367.8L297.6 367.5L298.6 366.8L298.7 366.8L299.6 366.1L300 365.8L300.6 365.3L301.2 364.8L301.6 364.4L302.4 363.8L302.6 363.6L303.4 362.8L303.6 362.6L304.5 361.8L304.6 361.6L305.4 360.7L305.6 360.5L306.3 359.7L306.6 359.4L307.1 358.7L307.6 358.2L307.9 357.7L308.6 356.9L308.6 356.7L308.6 355.7L308.6 354.7L308.6 353.7L308.6 352.7L308.6 351.7L308.6 350.7L308.6 349.7L308.6 348.7L308.6 347.7L308.6 346.7L308.6 345.6L308.6 344.6L308.6 343.6L308.6 342.6L308.6 341.6L308.6 340.6L308.6 339.6L308.6 338.6L308.6 337.6L308.6 336.6L308.6 335.6L308.6 334.6L308.6 333.6L308.6 332.6L308.6 331.6L308.6 330.6L308.6 329.5L308.6 328.5L308.6 327.5L308.6 326.5L308.6 325.5L308.6 324.5L308.6 323.5L308.6 322.5L308.6 321.5L308.6 320.5L308.6 319.5L308.6 318.5L308.6 317.5L308.6 316.5L308.6 315.5L308.6 314.5L308.6 313.4L308.6 312.4L308.6 311.4L308.6 310.4L308.6 309.4L308.6 308.4L308.6 307.4L308.6 306.4L308.6 305.4L307.6 305.4L306.6 305.4L305.6 305.4L304.6 305.4L303.6 305.4L302.6 305.4L301.6 305.4L300.6 305.4L299.6 305.4L298.6 305.4L297.6 305.4L296.6 305.4L295.6 305.4L294.6 305.4L293.6 305.4L292.6 305.4L291.6 305.4L290.6 305.4L289.6 305.4L288.6 305.4L287.6 305.4L286.6 305.4L285.6 305.4L284.6 305.4L283.6 305.4L282.6 305.4L281.6 305.4L280.6 305.4L279.6 305.4L278.6 305.4L277.6 305.4L276.6 305.4L275.6 305.4L274.6 305.4L273.6 305.4L272.6 305.4L271.6 305.4L270.6 305.4L269.6 305.4L268.6 305.4L267.6 305.4L266.6 305.4L265.6 305.4L264.6 305.4L263.6 305.4L262.6 305.4L261.6 305.4L260.6 305.4L259.6 305.4L258.6 305.4L257.6 305.4L256.6 305.4L255.6 305.4L254.6 305.4L253.6 305.4L252.6 305.4L251.6 305.4L250.6 305.4L249.6 305.4L248.6 305.4L247.6 305.4L246.6 305.4L245.6 305.4L244.6 305.4L243.6 305.4L242.6 305.4L241.6 305.4L240.6 305.4L239.6 305.4L238.6 305.4L237.6 305.4L236.6 305.4L235.6 305.4L235.6 305.5L235.3 306.4L235 307.4L234.7 308.4L234.6 308.8L234.4 309.4L234.2 310.4L234 311.4L233.8 312.4L233.6 313.2L233.6 313.4L233.4 314.5L233.2 315.5L233.1 316.5L233 317.5L232.9 318.5L232.8 319.5L232.7 320.5L232.7 321.5L232.6 322.5L232.6 323.5L232.6 324.5L232.6 325.5L232.7 326.5L232.7 327.5L232.8 328.5L232.9 329.5L233 330.6L233.1 331.6L233.3 332.6L233.4 333.6L233.6 334.6L233.6 334.7L233.8 335.6L234 336.6L234.2 337.6L234.5 338.6L234.6 339.1L234.7 339.6L235 340.6L235.3 341.6L235.6 342.4L235.7 342.6L236 343.6L236.4 344.6L236.6 345.1L236.8 345.6L237.2 346.7L237.6 347.5L237.7 347.7L238.1 348.7L238.6 349.6L238.6 349.7L239.2 350.7L239.6 351.5L239.7 351.7L240.3 352.7L240.6 353.2L240.9 353.7L241.6 354.7L241.6 354.8L242.2 355.7L242.6 356.2L243 356.7L243.6 357.6L243.7 357.7L244.5 358.7L244.6 358.8L245.3 359.7L245.6 360L246.2 360.7L246.6 361.1L247.2 361.8L247.6 362.2L248.2 362.8L248.6 363.1L249.3 363.8L249.6 364.1L250.4 364.8L250.6 364.9L251.6 365.8L251.6 365.8L252.6 366.5L253 366.8L253.6 367.2L254.4 367.8L254.6 367.9L255.6 368.6L256 368.8L256.6 369.2L257.6 369.7L257.8 369.8L258.6 370.2L259.6 370.7L259.8 370.8L260.6 371.2L261.6 371.6L262.1 371.8L262.6 372L263.6 372.4L264.6 372.7L265.1 372.8L265.6 373L266.6 373.2L267.6 373.5L268.6 373.7Z" fill="#00aa46"/><path fill-rule="evenodd" d="M269.4 360.7L269.6 360.8L270.6 361L271.6 361.2L272.6 361.3L273.6 361.4L274.6 361.5L275.6 361.5L276.6 361.5L277.6 361.5L278.6 361.4L279.6 361.2L280.6 361.1L281.6 360.9L282.3 360.7L282.6 360.7L283.6 360.4L284.6 360.1L285.6 359.7L285.6 359.7L286.6 359.3L287.6 358.9L288 358.7L288.6 358.4L289.6 357.9L289.9 357.7L290.6 357.3L291.6 356.7L291.6 356.7L292.6 356L293 355.7L293.6 355.3L294.3 354.7L294.6 354.5L295.5 353.7L295.6 353.6L296.6 352.7L296.6 352.7L297.5 351.7L297.6 351.6L298.5 350.7L298.6 350.5L299.3 349.7L299.6 349.3L300.1 348.7L300.6 348L300.8 347.7L301.5 346.7L301.6 346.5L302.1 345.6L302.6 344.9L302.7 344.6L303.3 343.6L303.6 343L303.8 342.6L304.3 341.6L304.6 340.9L304.7 340.6L305.1 339.6L305.5 338.6L305.6 338.4L305.9 337.6L306.2 336.6L306.5 335.6L306.6 335.2L306.8 334.6L307 333.6L307.2 332.6L307.4 331.6L307.6 330.6L307.6 330.5L307.7 329.5L307.9 328.5L308 327.5L308 326.5L308.1 325.5L308.1 324.5L308.1 323.5L308.1 322.5L308.1 321.5L308 320.5L307.9 319.5L307.8 318.5L307.7 317.5L307.6 317L307.5 316.5L307.3 315.5L307.1 314.5L306.9 313.4L306.6 312.4L306.6 312.3L306.3 311.4L306 310.4L305.7 309.4L305.6 309.2L305.3 308.4L304.9 307.4L304.6 306.7L304.5 306.4L304 305.4L303.6 305.4L302.6 305.4L301.6 305.4L300.6 305.4L299.6 305.4L298.6 305.4L297.6 305.4L296.6 305.4L295.6 305.4L294.6 305.4L293.6 305.4L292.6 305.4L291.6 305.4L290.6 305.4L289.6 305.4L288.6 305.4L287.6 305.4L286.6 305.4L285.6 305.4L284.6 305.4L283.6 305.4L282.6 305.4L281.6 305.4L280.6 305.4L279.6 305.4L278.6 305.4L277.6 305.4L276.6 305.4L275.6 305.4L274.6 305.4L273.6 305.4L272.6 305.4L271.6 305.4L270.6 305.4L269.6 305.4L268.6 305.4L267.6 305.4L266.6 305.4L265.6 305.4L264.6 305.4L263.6 305.4L262.6 305.4L261.6 305.4L260.6 305.4L259.6 305.4L258.6 305.4L257.6 305.4L256.6 305.4L255.6 305.4L254.6 305.4L253.6 305.4L252.6 305.4L251.6 305.4L250.6 305.4L249.6 305.4L248.6 305.4L247.8 305.4L247.6 305.9L247.3 306.4L246.9 307.4L246.6 308.2L246.5 308.4L246.1 309.4L245.8 310.4L245.6 311L245.5 311.4L245.2 312.4L244.9 313.4L244.7 314.5L244.6 314.9L244.5 315.5L244.3 316.5L244.1 317.5L244 318.5L243.9 319.5L243.8 320.5L243.7 321.5L243.7 322.5L243.7 323.5L243.7 324.5L243.7 325.5L243.7 326.5L243.8 327.5L243.9 328.5L244 329.5L244.2 330.6L244.3 331.6L244.5 332.6L244.6 333L244.7 333.6L245 334.6L245.2 335.6L245.5 336.6L245.6 336.8L245.9 337.6L246.2 338.6L246.6 339.6L246.6 339.7L247 340.6L247.4 341.6L247.6 342L247.9 342.6L248.4 343.6L248.6 344L249 344.6L249.6 345.6L249.6 345.7L250.2 346.7L250.6 347.3L250.9 347.7L251.6 348.7L251.6 348.7L252.4 349.7L252.6 349.9L253.2 350.7L253.6 351.1L254.1 351.7L254.6 352.2L255.1 352.7L255.6 353.2L256.2 353.7L256.6 354.1L257.4 354.7L257.6 354.9L258.6 355.7L258.6 355.7L259.6 356.4L260.1 356.7L260.6 357L261.6 357.6L261.7 357.7L262.6 358.2L263.6 358.7L263.7 358.7L264.6 359.2L265.6 359.6L266.1 359.7L266.6 359.9L267.6 360.3L268.6 360.6Z" fill="#008414"/><path fill-rule="evenodd" d="M271 339.6L271.6 339.8L272.6 340.2L273.6 340.4L274.6 340.5L275.6 340.6L276.6 340.6L277.6 340.5L278.6 340.3L279.6 340L280.6 339.7L280.7 339.6L281.6 339.2L282.6 338.6L282.7 338.6L283.6 337.9L284 337.6L284.6 337.1L285.2 336.6L285.6 336.1L286.1 335.6L286.6 335L286.9 334.6L287.5 333.6L287.6 333.5L288.1 332.6L288.6 331.6L288.6 331.6L289 330.6L289.4 329.5L289.6 328.7L289.6 328.5L289.9 327.5L290 326.5L290.1 325.5L290.2 324.5L290.2 323.5L290.2 322.5L290.1 321.5L289.9 320.5L289.7 319.5L289.6 318.9L289.5 318.5L289.2 317.5L288.8 316.5L288.6 316.1L288.3 315.5L287.8 314.5L287.6 314.2L287.1 313.4L286.6 312.7L286.4 312.4L285.6 311.5L285.5 311.4L284.6 310.5L284.5 310.4L283.6 309.7L283.2 309.4L282.6 309L281.6 308.5L281.5 308.4L280.6 308L279.6 307.7L278.7 307.4L278.6 307.4L277.6 307.2L276.6 307.1L275.6 307.1L274.6 307.2L273.6 307.3L273.1 307.4L272.6 307.5L271.6 307.9L270.6 308.3L270.3 308.4L269.6 308.8L268.6 309.4L268.6 309.4L267.6 310.2L267.3 310.4L266.6 311.1L266.3 311.4L265.6 312.2L265.4 312.4L264.7 313.4L264.6 313.5L264 314.5L263.6 315.2L263.5 315.5L263 316.5L262.6 317.5L262.6 317.6L262.3 318.5L262.1 319.5L261.8 320.5L261.7 321.5L261.6 322.4L261.6 322.5L261.5 323.5L261.6 324.5L261.6 325.3L261.6 325.5L261.7 326.5L261.9 327.5L262.1 328.5L262.4 329.5L262.6 330.2L262.7 330.6L263.1 331.6L263.6 332.5L263.6 332.6L264.2 333.6L264.6 334.2L264.9 334.6L265.6 335.5L265.6 335.6L266.6 336.6L266.6 336.6L267.6 337.5L267.7 337.6L268.6 338.3L269.1 338.6L269.6 338.9L270.6 339.4Z" fill="#005e08"/><path d="M228.6 378L229.4 378.9L229.6 379.1L230.2 379.9L230.6 380.3L231.2 380.9L231.6 381.3L232.1 381.9L232.6 382.4L233.1 382.9L233.6 383.3L234.2 383.9L234.6 384.3L235.3 384.9L235.6 385.2L236.4 385.9M302.6 385.9L302.6 385.9L303.6 385.3L304.2 384.9L304.6 384.7L305.6 384L305.8 383.9L306.6 383.3L307.2 382.9L307.6 382.6L308.5 381.9L308.6 381.8M228.6 366.1L229 366.8L229.6 367.6L229.7 367.8L230.4 368.8L230.6 369L231.2 369.8L231.6 370.4L231.9 370.8L232.6 371.6L232.7 371.8L233.6 372.8L233.6 372.8L234.5 373.8L234.6 374L235.4 374.8L235.6 375.1L236.3 375.8L236.6 376.1L237.3 376.8L237.6 377.1L238.3 377.8L238.6 378.1L239.4 378.9L239.6 379L240.6 379.9L240.6 379.9L241.6 380.7L241.8 380.9L242.6 381.5L243 381.9L243.6 382.3L244.4 382.9L244.6 383L245.6 383.7L245.8 383.9L246.6 384.4L247.3 384.9L247.6 385.1L248.6 385.7L249 385.9M228.6 349.3L228.8 349.7L229.2 350.7L229.6 351.7L229.6 351.7L230.1 352.7L230.5 353.7L230.6 353.9L231 354.7L231.5 355.7L231.6 355.8L232.1 356.7L232.6 357.7L232.6 357.7L233.2 358.7L233.6 359.3L233.8 359.7L234.5 360.7L234.6 360.9L235.2 361.8L235.6 362.4L235.9 362.8L236.6 363.8L236.6 363.8L237.4 364.8L237.6 365.1L238.2 365.8L238.6 366.3L239 366.8L239.6 367.5L239.9 367.8L240.6 368.6L240.8 368.8L241.6 369.6L241.8 369.8L242.6 370.6L242.8 370.8L243.6 371.6L243.9 371.8L244.6 372.5L245 372.8L245.6 373.3L246.2 373.8L246.6 374.1L247.5 374.8L247.6 374.9L248.6 375.7L248.9 375.8L249.6 376.4L250.3 376.8L250.6 377L251.6 377.7L251.9 377.8L252.6 378.2L253.6 378.8L253.7 378.9L254.6 379.4L255.6 379.9L255.6 379.9L256.6 380.3L257.6 380.8L257.8 380.9L258.6 381.2L259.6 381.6L260.3 381.9L260.6 382L261.6 382.3L262.6 382.6L263.4 382.9L263.6 382.9L264.6 383.2L265.6 383.4L266.6 383.7L267.6 383.9L267.7 383.9L268.6 384L269.6 384.2L270.6 384.3L271.6 384.4L272.6 384.5L273.6 384.6L274.6 384.6L275.6 384.6L276.6 384.6L277.6 384.6L278.6 384.5L279.6 384.5L280.6 384.4L281.6 384.2L282.6 384.1L283.6 383.9L283.8 383.9L284.6 383.7L285.6 383.5L286.6 383.3L287.6 383L288.1 382.9L288.6 382.8L289.6 382.4L290.6 382.1L291.2 381.9L291.6 381.7L292.6 381.4L293.6 380.9L293.8 380.9L294.6 380.5L295.6 380L296 379.9L296.6 379.5L297.6 379L297.9 378.9L298.6 378.5L299.6 377.9L299.7 377.8L300.6 377.3L301.3 376.8L301.6 376.6L302.6 375.9L302.7 375.8L303.6 375.2L304.1 374.8L304.6 374.5L305.4 373.8L305.6 373.7L306.6 372.8L306.6 372.8L307.6 371.9L307.7 371.8L308.6 371M235.6 305.4L235.6 305.5L235.3 306.4L235 307.4L234.7 308.4L234.6 308.8L234.4 309.4L234.2 310.4L234 311.4L233.8 312.4L233.6 313.2L233.6 313.4L233.4 314.5L233.2 315.5L233.1 316.5L233 317.5L232.9 318.5L232.8 319.5L232.7 320.5L232.7 321.5L232.6 322.5L232.6 323.5L232.6 324.5L232.6 325.5L232.7 326.5L232.7 327.5L232.8 328.5L232.9 329.5L233 330.6L233.1 331.6L233.3 332.6L233.4 333.6L233.6 334.6L233.6 334.7L233.8 335.6L234 336.6L234.2 337.6L234.5 338.6L234.6 339.1L234.7 339.6L235 340.6L235.3 341.6L235.6 342.4L235.7 342.6L236 343.6L236.4 344.6L236.6 345.1L236.8 345.6L237.2 346.7L237.6 347.5L237.7 347.7L238.1 348.7L238.6 349.6L238.6 349.7L239.2 350.7L239.6 351.5L239.7 351.7L240.3 352.7L240.6 353.2L240.9 353.7L241.6 354.7L241.6 354.8L242.2 355.7L242.6 356.2L243 356.7L243.6 357.6L243.7 357.7L244.5 358.7L244.6 358.8L245.3 359.7L245.6 360L246.2 360.7L246.6 361.1L247.2 361.8L247.6 362.2L248.2 362.8L248.6 363.1L249.3 363.8L249.6 364.1L250.4 364.8L250.6 364.9L251.6 365.8L251.6 365.8L252.6 366.5L253 366.8L253.6 367.2L254.4 367.8L254.6 367.9L255.6 368.6L256 368.8L256.6 369.2L257.6 369.7L257.8 369.8L258.6 370.2L259.6 370.7L259.8 370.8L260.6 371.2L261.6 371.6L262.1 371.8L262.6 372L263.6 372.4L264.6 372.7L265.1 372.8L265.6 373L266.6 373.2L267.6 373.5L268.6 373.7L269.3 373.8L269.6 373.9L270.6 374L271.6 374.2L272.6 374.3L273.6 374.3L274.6 374.4L275.6 374.4L276.6 374.4L277.6 374.4L278.6 374.3L279.6 374.2L280.6 374.1L281.6 373.9L282.3 373.8L282.6 373.8L283.6 373.6L284.6 373.3L285.6 373.1L286.6 372.8L286.6 372.8L287.6 372.5L288.6 372.1L289.5 371.8L289.6 371.8L290.6 371.4L291.6 370.9L291.8 370.8L292.6 370.4L293.6 369.9L293.8 369.8L294.6 369.4L295.6 368.8L295.6 368.8L296.6 368.2L297.2 367.8L297.6 367.5L298.6 366.8L298.7 366.8L299.6 366.1L300 365.8L300.6 365.3L301.2 364.8L301.6 364.4L302.4 363.8L302.6 363.6L303.4 362.8L303.6 362.6L304.5 361.8L304.6 361.6L305.4 360.7L305.6 360.5L306.3 359.7L306.6 359.4L307.1 358.7L307.6 358.2L307.9 357.7L308.6 356.9M247.8 305.4L247.6 305.9L247.3 306.4L246.9 307.4L246.6 308.2L246.5 308.4L246.1 309.4L245.8 310.4L245.6 311L245.5 311.4L245.2 312.4L244.9 313.4L244.7 314.5L244.6 314.9L244.5 315.5L244.3 316.5L244.1 317.5L244 318.5L243.9 319.5L243.8 320.5L243.7 321.5L243.7 322.5L243.7 323.5L243.7 324.5L243.7 325.5L243.7 326.5L243.8 327.5L243.9 328.5L244 329.5L244.2 330.6L244.3 331.6L244.5 332.6L244.6 333L244.7 333.6L245 334.6L245.2 335.6L245.5 336.6L245.6 336.8L245.9 337.6L246.2 338.6L246.6 339.6L246.6 339.7L247 340.6L247.4 341.6L247.6 342L247.9 342.6L248.4 343.6L248.6 344L249 344.6L249.6 345.6L249.6 345.7L250.2 346.7L250.6 347.3L250.9 347.7L251.6 348.7L251.6 348.7L252.4 349.7L252.6 349.9L253.2 350.7L253.6 351.1L254.1 351.7L254.6 352.2L255.1 352.7L255.6 353.2L256.2 353.7L256.6 354.1L257.4 354.7L257.6 354.9L258.6 355.7L258.6 355.7L259.6 356.4L260.1 356.7L260.6 357L261.6 357.6L261.7 357.7L262.6 358.2L263.6 358.7L263.7 358.7L264.6 359.2L265.6 359.6L266.1 359.7L266.6 359.9L267.6 360.3L268.6 360.6L269.4 360.7L269.6 360.8L270.6 361L271.6 361.2L272.6 361.3L273.6 361.4L274.6 361.5L275.6 361.5L276.6 361.5L277.6 361.5L278.6 361.4L279.6 361.2L280.6 361.1L281.6 360.9L282.3 360.7L282.6 360.7L283.6 360.4L284.6 360.1L285.6 359.7L285.6 359.7L286.6 359.3L287.6 358.9L288 358.7L288.6 358.4L289.6 357.9L289.9 357.7L290.6 357.3L291.6 356.7L291.6 356.7L292.6 356L293 355.7L293.6 355.3L294.3 354.7L294.6 354.5L295.5 353.7L295.6 353.6L296.6 352.7L296.6 352.7L297.5 351.7L297.6 351.6L298.5 350.7L298.6 350.5L299.3 349.7L299.6 349.3L300.1 348.7L300.6 348L300.8 347.7L301.5 346.7L301.6 346.5L302.1 345.6L302.6 344.9L302.7 344.6L303.3 343.6L303.6 343L303.8 342.6L304.3 341.6L304.6 340.9L304.7 340.6L305.1 339.6L305.5 338.6L305.6 338.4L305.9 337.6L306.2 336.6L306.5 335.6L306.6 335.2L306.8 334.6L307 333.6L307.2 332.6L307.4 331.6L307.6 330.6L307.6 330.5L307.7 329.5L307.9 328.5L308 327.5L308 326.5L308.1 325.5L308.1 324.5L308.1 323.5L308.1 322.5L308.1 321.5L308 320.5L307.9 319.5L307.8 318.5L307.7 317.5L307.6 317L307.5 316.5L307.3 315.5L307.1 314.5L306.9 313.4L306.6 312.4L306.6 312.3L306.3 311.4L306 310.4L305.7 309.4L305.6 309.2L305.3 308.4L304.9 307.4L304.6 306.7L304.5 306.4L304 305.4M271 339.6L271.6 339.8L272.6 340.2L273.6 340.4L274.6 340.5L275.6 340.6L276.6 340.6L277.6 340.5L278.6 340.3L279.6 340L280.6 339.7L280.7 339.6L281.6 339.2L282.6 338.6L282.7 338.6L283.6 337.9L284 337.6L284.6 337.1L285.2 336.6L285.6 336.1L286.1 335.6L286.6 335L286.9 334.6L287.5 333.6L287.6 333.5L288.1 332.6L288.6 331.6L288.6 331.6L289 330.6L289.4 329.5L289.6 328.7L289.6 328.5L289.9 327.5L290 326.5L290.1 325.5L290.2 324.5L290.2 323.5L290.2 322.5L290.1 321.5L289.9 320.5L289.7 319.5L289.6 318.9L289.5 318.5L289.2 317.5L288.8 316.5L288.6 316.1L288.3 315.5L287.8 314.5L287.6 314.2L287.1 313.4L286.6 312.7L286.4 312.4L285.6 311.5L285.5 311.4L284.6 310.5L284.5 310.4L283.6 309.7L283.2 309.4L282.6 309L281.6 308.5L281.5 308.4L280.6 308L279.6 307.7L278.7 307.4L278.6 307.4L277.6 307.2L276.6 307.1L275.6 307.1L274.6 307.2L273.6 307.3L273.1 307.4L272.6 307.5L271.6 307.9L270.6 308.3L270.3 308.4L269.6 308.8L268.6 309.4L268.6 309.4L267.6 310.2L267.3 310.4L266.6 311.1L266.3 311.4L265.6 312.2L265.4 312.4L264.7 313.4L264.6 313.5L264 314.5L263.6 315.2L263.5 315.5L263 316.5L262.6 317.5L262.6 317.6L262.3 318.5L262.1 319.5L261.8 320.5L261.7 321.5L261.6 322.4L261.6 322.5L261.5 323.5L261.6 324.5L261.6 325.3L261.6 325.5L261.7 326.5L261.9 327.5L262.1 328.5L262.4 329.5L262.6 330.2L262.7 330.6L263.1 331.6L263.6 332.5L263.6 332.6L264.2 333.6L264.6 334.2L264.9 334.6L265.6 335.5L265.6 335.6L266.6 336.6L266.6 336.6L267.6 337.5L267.7 337.6L268.6 338.3L269.1 338.6L269.6 338.9L270.6 339.4L271 339.6" fill="none" stroke="#0c2a14" stroke-width="0.45"/><line x1="240.32" y1="385.9" x2="240.32" y2="387.3" stroke="#999" stroke-width="0.5"/><text x="240.32" y="392.13" text-anchor="middle" font-size="4.8" fill="#505050">40</text><line x1="254.46" y1="385.9" x2="254.46" y2="387.3" stroke="#999" stroke-width="0.5"/><text x="254.46" y="392.13" text-anchor="middle" font-size="4.8" fill="#505050">50</text><line x1="268.6" y1="385.9" x2="268.6" y2="387.3" stroke="#999" stroke-width="0.5"/><text x="268.6" y="392.13" text-anchor="middle" font-size="4.8" fill="#505050">60</text><line x1="282.74" y1="385.9" x2="282.74" y2="387.3" stroke="#999" stroke-width="0.5"/><text x="282.74" y="392.13" text-anchor="middle" font-size="4.8" fill="#505050">70</text><line x1="296.88" y1="385.9" x2="296.88" y2="387.3" stroke="#999" stroke-width="0.5"/><text x="296.88" y="392.13" text-anchor="middle" font-size="4.8" fill="#505050">80</text><line x1="227.2" y1="374.11" x2="228.6" y2="374.11" stroke="#999" stroke-width="0.5"/><text x="226.7" y="376.44" text-anchor="end" font-size="4.8" fill="#505050">20</text><line x1="227.2" y1="359.88" x2="228.6" y2="359.88" stroke="#999" stroke-width="0.5"/><text x="226.7" y="362.21" text-anchor="end" font-size="4.8" fill="#505050">30</text><line x1="227.2" y1="345.65" x2="228.6" y2="345.65" stroke="#999" stroke-width="0.5"/><text x="226.7" y="347.98" text-anchor="end" font-size="4.8" fill="#505050">40</text><line x1="227.2" y1="331.42" x2="228.6" y2="331.42" stroke="#999" stroke-width="0.5"/><text x="226.7" y="333.75" text-anchor="end" font-size="4.8" fill="#505050">50</text><line x1="227.2" y1="317.19" x2="228.6" y2="317.19" stroke="#999" stroke-width="0.5"/><text x="226.7" y="319.52" text-anchor="end" font-size="4.8" fill="#505050">60</text><text x="269.1" y="400.3" text-anchor="middle" font-size="5.5" fill="#444">Concentration</text><text transform="translate(218.7 345.95) rotate(-90)" text-anchor="middle" font-size="4.5" fill="#444">SMR</text><text x="332.8" y="312" text-anchor="middle" font-size="4.6" fill="#444">TPC</text><rect x="315" y="313.95" width="4.6" height="4.3" fill="#000080"/><text x="333" y="317.72" text-anchor="middle" font-size="4.5" fill="#444">&lt;</text><text x="343.3" y="317.72" text-anchor="end" font-size="4.5" fill="#444">10</text><rect x="315" y="319.78" width="4.6" height="4.3" fill="#0a0ae0"/><text x="328.6" y="323.55" text-anchor="end" font-size="4.5" fill="#444">10</text><text x="333" y="323.55" text-anchor="middle" font-size="4.5" fill="#444">–</text><text x="343.3" y="323.55" text-anchor="end" font-size="4.5" fill="#444">15</text><rect x="315" y="325.61" width="4.6" height="4.3" fill="#5c9fe0"/><text x="328.6" y="329.38" text-anchor="end" font-size="4.5" fill="#444">15</text><text x="333" y="329.38" text-anchor="middle" font-size="4.5" fill="#444">–</text><text x="343.3" y="329.38" text-anchor="end" font-size="4.5" fill="#444">20</text><rect x="315" y="331.44" width="4.6" height="4.3" fill="#40cf7e"/><text x="328.6" y="335.21" text-anchor="end" font-size="4.5" fill="#444">20</text><text x="333" y="335.21" text-anchor="middle" font-size="4.5" fill="#444">–</text><text x="343.3" y="335.21" text-anchor="end" font-size="4.5" fill="#444">25</text><rect x="315" y="337.27" width="4.6" height="4.3" fill="#00aa46"/><text x="328.6" y="341.04" text-anchor="end" font-size="4.5" fill="#444">25</text><text x="333" y="341.04" text-anchor="middle" font-size="4.5" fill="#444">–</text><text x="343.3" y="341.04" text-anchor="end" font-size="4.5" fill="#444">30</text><rect x="315" y="343.1" width="4.6" height="4.3" fill="#008414"/><text x="328.6" y="346.87" text-anchor="end" font-size="4.5" fill="#444">30</text><text x="333" y="346.87" text-anchor="middle" font-size="4.5" fill="#444">–</text><text x="343.3" y="346.87" text-anchor="end" font-size="4.5" fill="#444">35</text><rect x="315" y="348.93" width="4.6" height="4.3" fill="#005e08"/><text x="333" y="352.7" text-anchor="middle" font-size="4.5" fill="#444">&gt;</text><text x="343.3" y="352.7" text-anchor="end" font-size="4.5" fill="#444">35</text></g>
<g font-family='"Liberation Sans", sans-serif'><line x1="59.1" y1="509.2" x2="91.8" y2="478.07" stroke="#e6e6e6" stroke-width="0.5"/><line x1="91.8" y1="478.07" x2="168.3" y2="490.53" stroke="#e6e6e6" stroke-width="0.5"/><line x1="59.1" y1="494.3" x2="91.8" y2="462.82" stroke="#e6e6e6" stroke-width="0.5"/><line x1="91.8" y1="462.82" x2="168.3" y2="474.94" stroke="#e6e6e6" stroke-width="0.5"/><line x1="59.1" y1="479.4" x2="91.8" y2="447.57" stroke="#e6e6e6" stroke-width="0.5"/><line x1="91.8" y1="447.57" x2="168.3" y2="459.34" stroke="#e6e6e6" stroke-width="0.5"/><line x1="59.1" y1="464.5" x2="91.8" y2="432.32" stroke="#e6e6e6" stroke-width="0.5"/><line x1="91.8" y1="432.32" x2="168.3" y2="443.75" stroke="#e6e6e6" stroke-width="0.5"/><line x1="105.62" y1="481.76" x2="105.62" y2="433.36" stroke="#e6e6e6" stroke-width="0.5"/><line x1="73.55" y1="513.02" x2="105.62" y2="481.76" stroke="#e6e6e6" stroke-width="0.5"/><line x1="129.74" y1="485.7" x2="129.74" y2="436.95" stroke="#e6e6e6" stroke-width="0.5"/><line x1="98.78" y1="517.25" x2="129.74" y2="485.7" stroke="#e6e6e6" stroke-width="0.5"/><line x1="153.87" y1="489.64" x2="153.87" y2="440.55" stroke="#e6e6e6" stroke-width="0.5"/><line x1="124.01" y1="521.47" x2="153.87" y2="489.64" stroke="#e6e6e6" stroke-width="0.5"/><line x1="65.37" y1="504.64" x2="65.37" y2="457.32" stroke="#e6e6e6" stroke-width="0.5"/><line x1="65.37" y1="504.64" x2="144.7" y2="517.86" stroke="#e6e6e6" stroke-width="0.5"/><line x1="75.78" y1="494.74" x2="75.78" y2="447.08" stroke="#e6e6e6" stroke-width="0.5"/><line x1="75.78" y1="494.74" x2="153.99" y2="507.68" stroke="#e6e6e6" stroke-width="0.5"/><line x1="86.18" y1="484.84" x2="86.18" y2="436.83" stroke="#e6e6e6" stroke-width="0.5"/><line x1="86.18" y1="484.84" x2="163.28" y2="497.5" stroke="#e6e6e6" stroke-width="0.5"/><line x1="59.1" y1="510.6" x2="59.1" y2="463.5" stroke="#c6c6c6" stroke-width="0.6"/><line x1="91.8" y1="479.5" x2="91.8" y2="431.3" stroke="#c6c6c6" stroke-width="0.6"/><line x1="168.3" y1="492" x2="168.3" y2="442.7" stroke="#c6c6c6" stroke-width="0.6"/><line x1="59.1" y1="463.5" x2="91.8" y2="431.3" stroke="#c6c6c6" stroke-width="0.6"/><line x1="91.8" y1="431.3" x2="168.3" y2="442.7" stroke="#c6c6c6" stroke-width="0.6"/><line x1="59.1" y1="510.6" x2="139.1" y2="524" stroke="#c6c6c6" stroke-width="0.6"/><line x1="139.1" y1="524" x2="168.3" y2="492" stroke="#c6c6c6" stroke-width="0.6"/><line x1="59.1" y1="510.6" x2="91.8" y2="479.5" stroke="#c6c6c6" stroke-width="0.6"/><line x1="91.8" y1="479.5" x2="168.3" y2="492" stroke="#c6c6c6" stroke-width="0.6"/><g fill="#e0e0e0" stroke="#383838" stroke-width="0.38" stroke-linejoin="round"><polygon points="92.37,455.17 96.94,453.53 98.88,454.41 94.32,455.95"/><polygon points="90.42,454.96 95,453.21 96.94,453.53 92.37,455.17"/><polygon points="96.94,453.53 101.51,452.44 103.44,453.43 98.88,454.41"/><polygon points="88.47,455.32 93.06,453.46 95,453.21 90.42,454.96"/><polygon points="95,453.21 99.59,452.01 101.51,452.44 96.94,453.53"/><polygon points="101.51,452.44 106.08,451.91 108,453.02 103.44,453.43"/><polygon points="86.52,456.25 91.13,454.28 93.06,453.46 88.47,455.32"/><polygon points="93.06,453.46 97.66,452.16 99.59,452.01 95,453.21"/><polygon points="99.59,452.01 104.17,451.37 106.08,451.91 101.51,452.44"/><polygon points="106.08,451.91 110.65,451.94 112.55,453.16 108,453.02"/><polygon points="84.57,457.74 89.19,455.67 91.13,454.28 86.52,456.25"/><polygon points="91.13,454.28 95.73,452.87 97.66,452.16 93.06,453.46"/><polygon points="97.66,452.16 102.25,451.41 104.17,451.37 99.59,452.01"/><polygon points="104.17,451.37 108.75,451.29 110.65,451.94 106.08,451.91"/><polygon points="110.65,451.94 115.22,452.53 117.11,453.87 112.55,453.16"/><polygon points="82.62,459.79 87.25,457.61 89.19,455.67 84.57,457.74"/><polygon points="89.19,455.67 93.81,454.15 95.73,452.87 91.13,454.28"/><polygon points="95.73,452.87 100.34,452.01 102.25,451.41 97.66,452.16"/><polygon points="102.25,451.41 106.85,451.22 108.75,451.29 104.17,451.37"/><polygon points="108.75,451.29 113.33,451.77 115.22,452.53 110.65,451.94"/><polygon points="115.22,452.53 119.79,453.69 121.67,455.14 117.11,453.87"/><polygon points="80.66,462.4 85.31,460.12 87.25,457.61 82.62,459.79"/><polygon points="87.25,457.61 91.88,455.99 93.81,454.15 89.19,455.67"/><polygon points="93.81,454.15 98.43,453.18 100.34,452.01 95.73,452.87"/><polygon points="100.34,452.01 104.95,451.71 106.85,451.22 102.25,451.41"/><polygon points="106.85,451.22 111.44,451.59 113.33,451.77 108.75,451.29"/><polygon points="113.33,451.77 117.92,452.82 119.79,453.69 115.22,452.53"/><polygon points="119.79,453.69 124.36,455.42 126.23,456.99 121.67,455.14"/><polygon points="78.71,465.56 83.37,463.18 85.31,460.12 80.66,462.4"/><polygon points="85.31,460.12 89.95,458.39 91.88,455.99 87.25,457.61"/><polygon points="91.88,455.99 96.51,454.92 98.43,453.18 93.81,454.15"/><polygon points="98.43,453.18 103.05,452.77 104.95,451.71 100.34,452.01"/><polygon points="104.95,451.71 109.56,451.97 111.44,451.59 106.85,451.22"/><polygon points="111.44,451.59 116.04,452.52 117.92,452.82 113.33,451.77"/><polygon points="117.92,452.82 122.5,454.43 124.36,455.42 119.79,453.69"/><polygon points="124.36,455.42 128.93,457.72 130.78,459.4 126.23,456.99"/><polygon points="76.76,469.28 81.43,466.8 83.37,463.18 78.71,465.56"/><polygon points="83.37,463.18 88.03,461.35 89.95,458.39 85.31,460.12"/><polygon points="89.95,458.39 94.6,457.21 96.51,454.92 91.88,455.99"/><polygon points="96.51,454.92 101.14,454.4 103.05,452.77 98.43,453.18"/><polygon points="103.05,452.77 107.67,452.92 109.56,451.97 104.95,451.71"/><polygon points="109.56,451.97 114.16,452.79 116.04,452.52 111.44,451.59"/><polygon points="116.04,452.52 120.63,454.02 122.5,454.43 117.92,452.82"/><polygon points="122.5,454.43 127.08,456.61 128.93,457.72 124.36,455.42"/><polygon points="128.93,457.72 133.5,460.59 135.34,462.39 130.78,459.4"/><polygon points="74.81,473.55 79.49,470.97 81.43,466.8 76.76,469.28"/><polygon points="81.43,466.8 86.1,464.86 88.03,461.35 83.37,463.18"/><polygon points="88.03,461.35 92.68,460.07 94.6,457.21 89.95,458.39"/><polygon points="94.6,457.21 99.24,456.59 101.14,454.4 96.51,454.92"/><polygon points="101.14,454.4 105.78,454.44 107.67,452.92 103.05,452.77"/><polygon points="107.67,452.92 112.29,453.63 114.16,452.79 109.56,451.97"/><polygon points="114.16,452.79 118.77,454.18 120.63,454.02 116.04,452.52"/><polygon points="120.63,454.02 125.23,456.09 127.08,456.61 122.5,454.43"/><polygon points="127.08,456.61 131.66,459.37 133.5,460.59 128.93,457.72"/><polygon points="133.5,460.59 138.07,464.03 139.9,465.95 135.34,462.39"/><polygon points="72.86,478.37 77.55,475.68 79.49,470.97 74.81,473.55"/><polygon points="79.49,470.97 84.17,468.93 86.1,464.86 81.43,466.8"/><polygon points="86.1,464.86 90.77,463.48 92.68,460.07 88.03,461.35"/><polygon points="92.68,460.07 97.34,459.34 99.24,456.59 94.6,457.21"/><polygon points="99.24,456.59 103.89,456.52 105.78,454.44 101.14,454.4"/><polygon points="105.78,454.44 110.41,455.04 112.29,453.63 107.67,452.92"/><polygon points="112.29,453.63 116.91,454.91 118.77,454.18 114.16,452.79"/><polygon points="118.77,454.18 123.38,456.13 125.23,456.09 120.63,454.02"/><polygon points="125.23,456.09 129.82,458.72 131.66,459.37 127.08,456.61"/><polygon points="131.66,459.37 136.25,462.69 138.07,464.03 133.5,460.59"/><polygon points="138.07,464.03 142.64,468.05 144.46,470.09 139.9,465.95"/><polygon points="70.91,483.73 75.61,480.95 77.55,475.68 72.86,478.37"/><polygon points="77.55,475.68 82.25,473.55 84.17,468.93 79.49,470.97"/><polygon points="84.17,468.93 88.86,467.44 90.77,463.48 86.1,464.86"/><polygon points="90.77,463.48 95.44,462.65 97.34,459.34 92.68,460.07"/><polygon points="97.34,459.34 102,459.17 103.89,456.52 99.24,456.59"/><polygon points="103.89,456.52 108.53,457.02 110.41,455.04 105.78,454.44"/><polygon points="110.41,455.04 115.04,456.21 116.91,454.91 112.29,453.63"/><polygon points="116.91,454.91 121.53,456.75 123.38,456.13 118.77,454.18"/><polygon points="123.38,456.13 127.99,458.65 129.82,458.72 125.23,456.09"/><polygon points="129.82,458.72 134.42,461.93 136.25,462.69 131.66,459.37"/><polygon points="136.25,462.69 140.83,466.59 142.64,468.05 138.07,464.03"/><polygon points="142.64,468.05 147.21,472.65 149.01,474.81 144.46,470.09"/><polygon points="68.95,489.64 73.67,486.76 75.61,480.95 70.91,483.73"/><polygon points="75.61,480.95 80.32,478.72 82.25,473.55 77.55,475.68"/><polygon points="82.25,473.55 86.94,471.96 88.86,467.44 84.17,468.93"/><polygon points="88.86,467.44 93.54,466.51 95.44,462.65 90.77,463.48"/><polygon points="95.44,462.65 100.11,462.37 102,459.17 97.34,459.34"/><polygon points="102,459.17 106.66,459.55 108.53,457.02 103.89,456.52"/><polygon points="108.53,457.02 113.18,458.07 115.04,456.21 110.41,455.04"/><polygon points="115.04,456.21 119.67,457.93 121.53,456.75 116.91,454.91"/><polygon points="121.53,456.75 126.15,459.15 127.99,458.65 123.38,456.13"/><polygon points="127.99,458.65 132.59,461.74 134.42,461.93 129.82,458.72"/><polygon points="134.42,461.93 139.01,465.71 140.83,466.59 136.25,462.69"/><polygon points="140.83,466.59 145.41,471.07 147.21,472.65 142.64,468.05"/><polygon points="147.21,472.65 151.78,477.83 153.57,480.12 149.01,474.81"/><polygon points="67,496.09 71.74,493.12 73.67,486.76 68.95,489.64"/><polygon points="73.67,486.76 78.39,484.43 80.32,478.72 75.61,480.95"/><polygon points="80.32,478.72 85.03,477.03 86.94,471.96 82.25,473.55"/><polygon points="86.94,471.96 91.64,470.92 93.54,466.51 88.86,467.44"/><polygon points="93.54,466.51 98.22,466.12 100.11,462.37 95.44,462.65"/><polygon points="100.11,462.37 104.78,462.65 106.66,459.55 102,459.17"/><polygon points="106.66,459.55 111.31,460.5 113.18,458.07 108.53,457.02"/><polygon points="113.18,458.07 117.82,459.69 119.67,457.93 115.04,456.21"/><polygon points="119.67,457.93 124.31,460.23 126.15,459.15 121.53,456.75"/><polygon points="126.15,459.15 130.77,462.13 132.59,461.74 127.99,458.65"/><polygon points="132.59,461.74 137.2,465.41 139.01,465.71 134.42,461.93"/><polygon points="139.01,465.71 143.61,470.07 145.41,471.07 140.83,466.59"/><polygon points="145.41,471.07 149.99,476.13 151.78,477.83 147.21,472.65"/><polygon points="151.78,477.83 156.35,483.6 158.13,486 153.57,480.12"/><polygon points="65.05,503.08 69.8,500.01 71.74,493.12 67,496.09"/><polygon points="71.74,493.12 76.47,490.69 78.39,484.43 73.67,486.76"/><polygon points="78.39,484.43 83.11,482.64 85.03,477.03 80.32,478.72"/><polygon points="85.03,477.03 89.74,475.89 91.64,470.92 86.94,471.96"/><polygon points="91.64,470.92 96.33,470.44 98.22,466.12 93.54,466.51"/><polygon points="98.22,466.12 102.9,466.3 104.78,462.65 100.11,462.37"/><polygon points="104.78,462.65 109.45,463.48 111.31,460.5 106.66,459.55"/><polygon points="111.31,460.5 115.97,462 117.82,459.69 113.18,458.07"/><polygon points="117.82,459.69 122.47,461.87 124.31,460.23 119.67,457.93"/><polygon points="124.31,460.23 128.94,463.09 130.77,462.13 126.15,459.15"/><polygon points="130.77,462.13 135.39,465.68 137.2,465.41 132.59,461.74"/><polygon points="137.2,465.41 141.81,469.65 143.61,470.07 139.01,465.71"/><polygon points="143.61,470.07 148.2,475.01 149.99,476.13 145.41,471.07"/><polygon points="149.99,476.13 154.58,481.77 156.35,483.6 151.78,477.83"/><polygon points="156.35,483.6 160.92,489.95 162.69,492.48 158.13,486"/><polygon points="69.8,500.01 74.54,497.49 76.47,490.69 71.74,493.12"/><polygon points="76.47,490.69 81.2,488.8 83.11,482.64 78.39,484.43"/><polygon points="83.11,482.64 87.83,481.4 89.74,475.89 85.03,477.03"/><polygon points="89.74,475.89 94.44,475.3 96.33,470.44 91.64,470.92"/><polygon points="96.33,470.44 101.03,470.51 102.9,466.3 98.22,466.12"/><polygon points="102.9,466.3 107.59,467.03 109.45,463.48 104.78,462.65"/><polygon points="109.45,463.48 114.12,464.88 115.97,462 111.31,460.5"/><polygon points="115.97,462 120.63,464.07 122.47,461.87 117.82,459.69"/><polygon points="122.47,461.87 127.11,464.62 128.94,463.09 124.31,460.23"/><polygon points="128.94,463.09 133.57,466.53 135.39,465.68 130.77,462.13"/><polygon points="135.39,465.68 140.01,469.81 141.81,469.65 137.2,465.41"/><polygon points="141.81,469.65 146.42,474.47 148.2,475.01 143.61,470.07"/><polygon points="148.2,475.01 152.8,480.53 154.58,481.77 149.99,476.13"/><polygon points="154.58,481.77 159.16,488 160.92,489.95 156.35,483.6"/><polygon points="74.54,497.49 79.29,495.51 81.2,488.8 76.47,490.69"/><polygon points="81.2,488.8 85.93,487.47 87.83,481.4 83.11,482.64"/><polygon points="87.83,481.4 92.55,480.72 94.44,475.3 89.74,475.89"/><polygon points="94.44,475.3 99.15,475.27 101.03,470.51 96.33,470.44"/><polygon points="101.03,470.51 105.72,471.13 107.59,467.03 102.9,466.3"/><polygon points="107.59,467.03 112.27,468.32 114.12,464.88 109.45,463.48"/><polygon points="114.12,464.88 118.79,466.84 120.63,464.07 115.97,462"/><polygon points="120.63,464.07 125.29,466.71 127.11,464.62 122.47,461.87"/><polygon points="127.11,464.62 131.76,467.94 133.57,466.53 128.94,463.09"/><polygon points="133.57,466.53 138.2,470.53 140.01,469.81 135.39,465.68"/><polygon points="140.01,469.81 144.63,474.51 146.42,474.47 141.81,469.65"/><polygon points="146.42,474.47 151.02,479.87 152.8,480.53 148.2,475.01"/><polygon points="152.8,480.53 157.39,486.64 159.16,488 154.58,481.77"/><polygon points="79.29,495.51 84.03,494.07 85.93,487.47 81.2,488.8"/><polygon points="85.93,487.47 90.66,486.68 92.55,480.72 87.83,481.4"/><polygon points="92.55,480.72 97.27,480.58 99.15,475.27 94.44,475.3"/><polygon points="99.15,475.27 103.86,475.79 105.72,471.13 101.03,470.51"/><polygon points="105.72,471.13 110.42,472.32 112.27,468.32 107.59,467.03"/><polygon points="112.27,468.32 116.95,470.17 118.79,466.84 114.12,464.88"/><polygon points="118.79,466.84 123.46,469.37 125.29,466.71 120.63,464.07"/><polygon points="125.29,466.71 129.94,469.92 131.76,467.94 127.11,464.62"/><polygon points="131.76,467.94 136.4,471.83 138.2,470.53 133.57,466.53"/><polygon points="138.2,470.53 142.84,475.12 144.63,474.51 140.01,469.81"/><polygon points="144.63,474.51 149.25,479.79 151.02,479.87 146.42,474.47"/><polygon points="151.02,479.87 155.63,485.85 157.39,486.64 152.8,480.53"/><polygon points="84.03,494.07 88.78,493.18 90.66,486.68 85.93,487.47"/><polygon points="90.66,486.68 95.4,486.44 97.27,480.58 92.55,480.72"/><polygon points="97.27,480.58 101.99,481 103.86,475.79 99.15,475.27"/><polygon points="103.86,475.79 108.57,476.87 110.42,472.32 105.72,471.13"/><polygon points="110.42,472.32 115.11,474.06 116.95,470.17 112.27,468.32"/><polygon points="116.95,470.17 121.63,472.59 123.46,469.37 118.79,466.84"/><polygon points="123.46,469.37 128.13,472.47 129.94,469.92 125.29,466.71"/><polygon points="129.94,469.92 134.6,473.7 136.4,471.83 131.76,467.94"/><polygon points="136.4,471.83 141.05,476.3 142.84,475.12 138.2,470.53"/><polygon points="142.84,475.12 147.47,480.28 149.25,479.79 144.63,474.51"/><polygon points="149.25,479.79 153.87,485.65 155.63,485.85 151.02,479.87"/><polygon points="88.78,493.18 93.52,492.85 95.4,486.44 90.66,486.68"/><polygon points="95.4,486.44 100.13,486.76 101.99,481 97.27,480.58"/><polygon points="101.99,481 106.71,481.97 108.57,476.87 103.86,475.79"/><polygon points="108.57,476.87 113.27,478.51 115.11,474.06 110.42,472.32"/><polygon points="115.11,474.06 119.81,476.37 121.63,472.59 116.95,470.17"/><polygon points="121.63,472.59 126.32,475.58 128.13,472.47 123.46,469.37"/><polygon points="128.13,472.47 132.8,476.14 134.6,473.7 129.94,469.92"/><polygon points="134.6,473.7 139.26,478.05 141.05,476.3 136.4,471.83"/><polygon points="141.05,476.3 145.69,481.35 147.47,480.28 142.84,475.12"/><polygon points="147.47,480.28 152.1,486.02 153.87,485.65 149.25,479.79"/><polygon points="93.52,492.85 98.27,493.06 100.13,486.76 95.4,486.44"/><polygon points="100.13,486.76 104.86,487.63 106.71,481.97 101.99,481"/><polygon points="106.71,481.97 111.43,483.51 113.27,478.51 108.57,476.87"/><polygon points="113.27,478.51 117.98,480.71 119.81,476.37 115.11,474.06"/><polygon points="119.81,476.37 124.5,479.25 126.32,475.58 121.63,472.59"/><polygon points="126.32,475.58 131,479.13 132.8,476.14 128.13,472.47"/><polygon points="132.8,476.14 137.47,480.37 139.26,478.05 134.6,473.7"/><polygon points="139.26,478.05 143.92,482.98 145.69,481.35 141.05,476.3"/><polygon points="145.69,481.35 150.34,486.97 152.1,486.02 147.47,480.28"/><polygon points="98.27,493.06 103.01,493.83 104.86,487.63 100.13,486.76"/><polygon points="104.86,487.63 109.59,489.06 111.43,483.51 106.71,481.97"/><polygon points="111.43,483.51 116.15,485.6 117.98,480.71 113.27,478.51"/><polygon points="117.98,480.71 122.69,483.48 124.5,479.25 119.81,476.37"/><polygon points="124.5,479.25 129.2,482.69 131,479.13 126.32,475.58"/><polygon points="131,479.13 135.68,483.26 137.47,480.37 132.8,476.14"/><polygon points="137.47,480.37 142.14,485.19 143.92,482.98 139.26,478.05"/><polygon points="143.92,482.98 148.57,488.49 150.34,486.97 145.69,481.35"/><polygon points="103.01,493.83 107.76,495.16 109.59,489.06 104.86,487.63"/><polygon points="109.59,489.06 114.33,491.05 116.15,485.6 111.43,483.51"/><polygon points="116.15,485.6 120.87,488.26 122.69,483.48 117.98,480.71"/><polygon points="122.69,483.48 127.39,486.81 129.2,482.69 124.5,479.25"/><polygon points="129.2,482.69 133.89,486.71 135.68,483.26 131,479.13"/><polygon points="135.68,483.26 140.36,487.96 142.14,485.19 137.47,480.37"/><polygon points="142.14,485.19 146.81,490.58 148.57,488.49 143.92,482.98"/><polygon points="107.76,495.16 112.5,497.04 114.33,491.05 109.59,489.06"/><polygon points="114.33,491.05 119.06,493.6 120.87,488.26 116.15,485.6"/><polygon points="120.87,488.26 125.59,491.49 127.39,486.81 122.69,483.48"/><polygon points="127.39,486.81 132.1,490.72 133.89,486.71 129.2,482.69"/><polygon points="133.89,486.71 138.59,491.3 140.36,487.96 135.68,483.26"/><polygon points="140.36,487.96 145.05,493.24 146.81,490.58 142.14,485.19"/><polygon points="112.5,497.04 117.24,499.49 119.06,493.6 114.33,491.05"/><polygon points="119.06,493.6 123.79,496.72 125.59,491.49 120.87,488.26"/><polygon points="125.59,491.49 130.31,495.28 132.1,490.72 127.39,486.81"/><polygon points="132.1,490.72 136.81,495.19 138.59,491.3 133.89,486.71"/><polygon points="138.59,491.3 143.28,496.46 145.05,493.24 140.36,487.96"/><polygon points="117.24,499.49 121.99,502.5 123.79,496.72 119.06,493.6"/><polygon points="123.79,496.72 128.52,500.41 130.31,495.28 125.59,491.49"/><polygon points="130.31,495.28 135.03,499.65 136.81,495.19 132.1,490.72"/><polygon points="136.81,495.19 141.52,500.24 143.28,496.46 138.59,491.3"/><polygon points="121.99,502.5 126.73,506.08 128.52,500.41 123.79,496.72"/><polygon points="128.52,500.41 133.26,504.66 135.03,499.65 130.31,495.28"/><polygon points="135.03,499.65 139.75,504.59 141.52,500.24 136.81,495.19"/><polygon points="126.73,506.08 131.48,510.23 133.26,504.66 128.52,500.41"/><polygon points="133.26,504.66 137.99,509.49 139.75,504.59 135.03,499.65"/><polygon points="131.48,510.23 136.22,514.95 137.99,509.49 133.26,504.66"/></g><line x1="57.1" y1="509.2" x2="59.1" y2="509.2" stroke="#c6c6c6" stroke-width="0.5"/><text x="51.2" y="510.37" text-anchor="end" font-size="5.2" fill="#505050">0</text><line x1="57.1" y1="494.4" x2="59.1" y2="494.4" stroke="#c6c6c6" stroke-width="0.5"/><text x="51.2" y="495.57" text-anchor="end" font-size="5.2" fill="#505050">2</text><line x1="57.1" y1="479.6" x2="59.1" y2="479.6" stroke="#c6c6c6" stroke-width="0.5"/><text x="51.2" y="480.77" text-anchor="end" font-size="5.2" fill="#505050">4</text><line x1="57.1" y1="464.5" x2="59.1" y2="464.5" stroke="#c6c6c6" stroke-width="0.5"/><text x="51.2" y="465.67" text-anchor="end" font-size="5.2" fill="#505050">6</text><line x1="73.55" y1="513.02" x2="72.75" y2="514.82" stroke="#c6c6c6" stroke-width="0.5"/><text x="69.1" y="522.87" text-anchor="middle" font-size="5.2" fill="#505050">40</text><line x1="98.78" y1="517.25" x2="97.98" y2="519.05" stroke="#c6c6c6" stroke-width="0.5"/><text x="93.4" y="526.27" text-anchor="middle" font-size="5.2" fill="#505050">60</text><line x1="124.01" y1="521.47" x2="123.21" y2="523.27" stroke="#c6c6c6" stroke-width="0.5"/><text x="116.9" y="530.17" text-anchor="middle" font-size="5.2" fill="#505050">80</text><line x1="144.7" y1="517.86" x2="146.5" y2="518.66" stroke="#c6c6c6" stroke-width="0.5"/><text x="152.1" y="523.77" text-anchor="middle" font-size="5.2" fill="#505050">20</text><line x1="153.99" y1="507.68" x2="155.79" y2="508.48" stroke="#c6c6c6" stroke-width="0.5"/><text x="162.6" y="513.77" text-anchor="middle" font-size="5.2" fill="#505050">40</text><line x1="163.28" y1="497.5" x2="165.08" y2="498.3" stroke="#c6c6c6" stroke-width="0.5"/><text x="173.5" y="503.27" text-anchor="middle" font-size="5.2" fill="#505050">60</text><text x="19.5" y="486.8" font-size="5.5" font-weight="bold" fill="#222">Caffeine</text><text x="65.6" y="537.6" font-size="5.5" font-weight="bold" fill="#222">Concentration</text><text x="172.6" y="516.2" font-size="5.5" font-weight="bold" fill="#222">SMR</text></g>
<g font-family='"Liberation Sans", sans-serif'><rect x="228.6" y="435.5" width="83.7" height="83.7" fill="#000080"/><path fill-rule="evenodd" d="M228.6 519.2L229.6 519.2L230.7 519.2L231.7 519.2L232.8 519.2L233.8 519.2L234.9 519.2L235.9 519.2L237 519.2L238 519.2L239.1 519.2L240.1 519.2L241.2 519.2L242.2 519.2L243.2 519.2L244.3 519.2L245.3 519.2L246.4 519.2L247.4 519.2L248.5 519.2L249.5 519.2L250.6 519.2L251.6 519.2L252.7 519.2L253.7 519.2L254.8 519.2L255.8 519.2L256.8 519.2L257.9 519.2L258.9 519.2L260 519.2L261 519.2L262.1 519.2L263.1 519.2L264.2 519.2L265.2 519.2L266.3 519.2L267.3 519.2L268.4 519.2L269.4 519.2L270.4 519.2L271.5 519.2L272.5 519.2L273.6 519.2L274.6 519.2L275.7 519.2L276.7 519.2L277.8 519.2L278.8 519.2L279.9 519.2L280.9 519.2L282 519.2L283 519.2L284.1 519.2L285.1 519.2L286.1 519.2L287.2 519.2L288.2 519.2L289.3 519.2L290.3 519.2L291.4 519.2L292.4 519.2L293.5 519.2L294.5 519.2L295.6 519.2L296.6 519.2L297.7 519.2L298.7 519.2L299.7 519.2L300.8 519.2L301.8 519.2L302.9 519.2L303.9 519.2L305 519.2L306 519.2L307.1 519.2L308.1 519.2L309.2 519.2L310.2 519.2L311.3 519.2L312.3 519.2L312.3 518.2L312.3 517.1L312.3 516.1L312.3 515L312.3 514L312.3 512.9L312.3 511.9L312.3 510.8L312.3 509.8L312.3 508.7L312.3 507.7L312.3 506.6L312.3 505.6L312.3 504.6L312.3 503.5L312.3 502.5L312.3 501.4L312.3 500.4L312.3 499.3L312.3 498.3L312.3 497.2L312.3 496.2L312.3 495.1L312.3 494.1L312.3 493L312.3 492L312.3 491L312.3 489.9L312.3 488.9L312.3 487.8L312.3 486.8L312.3 485.7L312.3 484.7L312.3 483.6L312.3 482.6L312.3 481.5L312.3 480.5L312.3 479.4L312.3 478.4L312.3 477.4L312.3 476.3L312.3 475.3L312.3 474.2L312.3 473.2L312.3 472.1L312.3 471.1L312.3 470L312.3 469L312.3 467.9L312.3 466.9L312.3 465.8L312.3 464.8L312.3 463.7L312.3 462.7L312.3 461.7L312.3 460.6L312.3 459.6L312.3 458.5L312.3 457.5L312.3 456.4L312.3 455.4L312.3 454.3L312.3 453.3L312.3 452.2L312.3 451.2L312.3 450.1L312.3 449.1L312.3 448.1L312.3 447L312.3 446L312.3 444.9L312.3 443.9L312.3 442.8L312.3 441.8L312.3 440.7L312.3 439.7L312.3 438.6L312.3 437.6L312.3 437.2L311.8 436.5L311.3 435.8L311 435.5L310.2 435.5L309.2 435.5L308.1 435.5L307.1 435.5L306 435.5L305 435.5L303.9 435.5L302.9 435.5L301.8 435.5L300.8 435.5L299.7 435.5L298.7 435.5L297.7 435.5L296.6 435.5L295.6 435.5L294.5 435.5L293.5 435.5L292.4 435.5L291.4 435.5L290.3 435.5L289.3 435.5L288.2 435.5L287.2 435.5L286.1 435.5L285.1 435.5L284.1 435.5L283 435.5L282 435.5L280.9 435.5L279.9 435.5L278.8 435.5L277.8 435.5L276.7 435.5L275.7 435.5L274.6 435.5L273.6 435.5L272.5 435.5L271.5 435.5L270.4 435.5L269.4 435.5L268.4 435.5L267.3 435.5L266.3 435.5L265.2 435.5L264.2 435.5L263.1 435.5L262.1 435.5L261 435.5L260 435.5L258.9 435.5L257.9 435.5L256.8 435.5L255.8 435.5L254.8 435.5L253.7 435.5L252.7 435.5L251.6 435.5L250.6 435.5L249.5 435.5L248.5 435.5L247.4 435.5L246.4 435.5L245.3 435.5L244.3 435.5L243.2 435.5L242.2 435.5L241.2 435.5L240.1 435.5L239.1 435.5L238 435.5L237 435.5L235.9 435.5L234.9 435.5L233.8 435.5L232.8 435.5L231.7 435.5L230.7 435.5L229.6 435.5L228.6 435.5L228.6 436.5L228.6 437.6L228.6 438.6L228.6 439.7L228.6 440.7L228.6 441.8L228.6 442.8L228.6 443.9L228.6 444.9L228.6 446L228.6 447L228.6 448.1L228.6 449.1L228.6 450.1L228.6 451.2L228.6 452.2L228.6 453.3L228.6 454.3L228.6 455.4L228.6 456.4L228.6 457.5L228.6 458.5L228.6 459.6L228.6 460.6L228.6 461.7L228.6 462.7L228.6 463.7L228.6 464.8L228.6 465.8L228.6 466.9L228.6 467.9L228.6 469L228.6 470L228.6 471.1L228.6 472.1L228.6 473.2L228.6 474.2L228.6 475.3L228.6 476.3L228.6 477.4L228.6 478.4L228.6 479.4L228.6 480.5L228.6 481.5L228.6 482.6L228.6 483.6L228.6 484.7L228.6 485.7L228.6 486.8L228.6 487.8L228.6 488.9L228.6 489.9L228.6 491L228.6 492L228.6 493L228.6 494.1L228.6 495.1L228.6 496.2L228.6 497.2L228.6 498.3L228.6 499.3L228.6 500.4L228.6 501.4L228.6 502.5L228.6 503.5L228.6 504.6L228.6 505.6L228.6 506.6L228.6 507.7L228.6 508.7L228.6 509.8L228.6 510.8L228.6 511.9L228.6 512.9L228.6 514L228.6 515L228.6 516.1L228.6 517.1L228.6 518.2Z" fill="#0a0ae0"/><path fill-rule="evenodd" d="M230.8 518.2L231.7 518.9L232.2 519.2L232.8 519.2L233.8 519.2L234.9 519.2L235.9 519.2L237 519.2L238 519.2L239.1 519.2L240.1 519.2L241.2 519.2L242.2 519.2L243.2 519.2L244.3 519.2L245.3 519.2L246.4 519.2L247.4 519.2L248.5 519.2L249.5 519.2L250.6 519.2L251.6 519.2L252.7 519.2L253.7 519.2L254.8 519.2L255.8 519.2L256.8 519.2L257.9 519.2L258.9 519.2L260 519.2L261 519.2L262.1 519.2L263.1 519.2L264.2 519.2L265.2 519.2L266.3 519.2L267.3 519.2L268.4 519.2L269.4 519.2L270.4 519.2L271.5 519.2L272.5 519.2L273.6 519.2L274.6 519.2L275.7 519.2L276.7 519.2L277.8 519.2L278.8 519.2L279.9 519.2L280.9 519.2L282 519.2L283 519.2L284.1 519.2L285.1 519.2L286.1 519.2L287.2 519.2L288.2 519.2L289.3 519.2L290.3 519.2L291.4 519.2L292.4 519.2L293.5 519.2L294.5 519.2L295.6 519.2L296.6 519.2L297.7 519.2L298.7 519.2L299.7 519.2L300.8 519.2L301.8 519.2L302.9 519.2L303.9 519.2L305 519.2L306 519.2L307.1 519.2L308.1 519.2L308.6 519.2L309.2 518.6L309.6 518.2L310.2 517.5L310.5 517.1L311.3 516.3L311.4 516.1L312.3 515L312.3 515L312.3 514L312.3 512.9L312.3 511.9L312.3 510.8L312.3 509.8L312.3 508.7L312.3 507.7L312.3 506.6L312.3 505.6L312.3 504.6L312.3 503.5L312.3 502.5L312.3 501.4L312.3 500.4L312.3 499.3L312.3 498.3L312.3 497.2L312.3 496.2L312.3 495.1L312.3 494.1L312.3 493L312.3 492L312.3 491L312.3 489.9L312.3 488.9L312.3 487.8L312.3 486.8L312.3 485.7L312.3 484.7L312.3 483.6L312.3 482.6L312.3 481.5L312.3 480.5L312.3 479.4L312.3 478.4L312.3 477.4L312.3 476.3L312.3 475.3L312.3 474.2L312.3 473.2L312.3 472.1L312.3 471.1L312.3 470L312.3 469L312.3 467.9L312.3 466.9L312.3 465.8L312.3 464.8L312.3 463.7L312.3 462.7L312.3 461.7L312.3 460.6L312.3 459.6L312.3 458.5L312.3 457.5L312.3 456.4L312.3 455.4L312.3 454.3L312.3 453.3L312.3 452.2L312.3 451.2L312.3 450.1L312.3 449.1L312.3 448.1L312.3 448L311.7 447L311.3 446.3L311 446L310.4 444.9L310.2 444.7L309.7 443.9L309.2 443.2L308.9 442.8L308.2 441.8L308.1 441.7L307.4 440.7L307.1 440.3L306.6 439.7L306 439L305.8 438.6L305 437.7L304.9 437.6L304 436.5L303.9 436.5L303.1 435.5L302.9 435.5L301.8 435.5L300.8 435.5L299.7 435.5L298.7 435.5L297.7 435.5L296.6 435.5L295.6 435.5L294.5 435.5L293.5 435.5L292.4 435.5L291.4 435.5L290.3 435.5L289.3 435.5L288.2 435.5L287.2 435.5L286.1 435.5L285.1 435.5L284.1 435.5L283 435.5L282 435.5L280.9 435.5L279.9 435.5L278.8 435.5L277.8 435.5L276.7 435.5L275.7 435.5L274.6 435.5L273.6 435.5L272.5 435.5L271.5 435.5L270.4 435.5L269.4 435.5L268.4 435.5L267.3 435.5L266.3 435.5L265.2 435.5L264.2 435.5L263.1 435.5L262.1 435.5L261 435.5L260 435.5L258.9 435.5L257.9 435.5L256.8 435.5L255.8 435.5L254.8 435.5L253.7 435.5L252.7 435.5L251.6 435.5L250.6 435.5L249.5 435.5L248.5 435.5L247.4 435.5L246.4 435.5L245.3 435.5L244.3 435.5L243.2 435.5L242.2 435.5L241.2 435.5L240.1 435.5L239.1 435.5L238 435.5L237 435.5L235.9 435.5L234.9 435.5L233.8 435.5L232.8 435.5L231.7 435.5L230.7 435.5L229.6 435.5L228.6 435.5L228.6 436.5L228.6 437.6L228.6 438.6L228.6 439.7L228.6 440.7L228.6 441.8L228.6 442.8L228.6 443.9L228.6 444.9L228.6 446L228.6 447L228.6 448.1L228.6 449.1L228.6 450.1L228.6 451.2L228.6 452.2L228.6 453.3L228.6 454.3L228.6 455.4L228.6 456.4L228.6 457.5L228.6 458.5L228.6 459.6L228.6 460.6L228.6 461.7L228.6 462.7L228.6 463.7L228.6 464.8L228.6 465.8L228.6 466.9L228.6 467.9L228.6 469L228.6 470L228.6 471.1L228.6 472.1L228.6 473.2L228.6 474.2L228.6 475.3L228.6 476.3L228.6 477.4L228.6 478.4L228.6 479.4L228.6 480.5L228.6 481.5L228.6 482.6L228.6 483.6L228.6 484.7L228.6 485.7L228.6 486.8L228.6 487.8L228.6 488.9L228.6 489.9L228.6 491L228.6 492L228.6 493L228.6 494.1L228.6 495.1L228.6 496.2L228.6 497.2L228.6 498.3L228.6 499.3L228.6 500.4L228.6 501.4L228.6 502.5L228.6 503.5L228.6 504.6L228.6 505.6L228.6 506.6L228.6 507.7L228.6 508.7L228.6 509.8L228.6 510.8L228.6 511.9L228.6 512.9L228.6 514L228.6 515L228.6 516.1L228.6 516.5L229.4 517.1L229.6 517.3L230.7 518.1Z" fill="#5c9fe0"/><path fill-rule="evenodd" d="M243.6 518.2L244.3 518.5L245.3 519.1L245.6 519.2L246.4 519.2L247.4 519.2L248.5 519.2L249.5 519.2L250.6 519.2L251.6 519.2L252.7 519.2L253.7 519.2L254.8 519.2L255.8 519.2L256.8 519.2L257.9 519.2L258.9 519.2L260 519.2L261 519.2L262.1 519.2L263.1 519.2L264.2 519.2L265.2 519.2L266.3 519.2L267.3 519.2L268.4 519.2L269.4 519.2L270.4 519.2L271.5 519.2L272.5 519.2L273.6 519.2L274.6 519.2L275.7 519.2L276.7 519.2L277.8 519.2L278.8 519.2L279.9 519.2L280.9 519.2L282 519.2L283 519.2L284.1 519.2L285.1 519.2L286.1 519.2L287.2 519.2L288.2 519.2L289.3 519.2L290.3 519.2L291.4 519.2L292.4 519.2L293.5 519.2L294.5 519.2L295.1 519.2L295.6 518.9L296.6 518.3L296.8 518.2L297.7 517.6L298.3 517.1L298.7 516.8L299.6 516.1L299.7 516L300.8 515.1L300.9 515L301.8 514.2L302 514L302.9 513.1L303.1 512.9L303.9 512.1L304.1 511.9L305 510.9L305 510.8L305.9 509.8L306 509.6L306.7 508.7L307.1 508.2L307.4 507.7L308.1 506.7L308.1 506.6L308.8 505.6L309.2 505L309.4 504.6L310 503.5L310.2 503.1L310.5 502.5L311 501.4L311.3 500.9L311.5 500.4L311.9 499.3L312.3 498.3L312.3 498.3L312.3 497.2L312.3 496.2L312.3 495.1L312.3 494.1L312.3 493L312.3 492L312.3 491L312.3 489.9L312.3 488.9L312.3 487.8L312.3 486.8L312.3 485.7L312.3 484.7L312.3 483.6L312.3 482.6L312.3 481.5L312.3 480.5L312.3 479.4L312.3 478.4L312.3 477.4L312.3 476.3L312.3 475.3L312.3 474.2L312.3 473.2L312.3 472.1L312.3 471.1L312.3 470L312.3 469L312.3 467.9L312.3 466.9L312.3 465.8L312.3 464.8L312.3 464.7L312 463.7L311.6 462.7L311.3 461.7L311.2 461.7L310.8 460.6L310.4 459.6L310.2 459.1L310 458.5L309.5 457.5L309.2 456.8L309 456.4L308.5 455.4L308.1 454.7L307.9 454.3L307.4 453.3L307.1 452.7L306.8 452.2L306.2 451.2L306 450.9L305.6 450.1L305 449.2L304.9 449.1L304.2 448.1L303.9 447.6L303.5 447L302.9 446.1L302.8 446L302 444.9L301.8 444.7L301.2 443.9L300.8 443.3L300.4 442.8L299.7 442L299.5 441.8L298.7 440.8L298.7 440.7L297.7 439.7L297.7 439.6L296.8 438.6L296.6 438.5L295.8 437.6L295.6 437.4L294.7 436.5L294.5 436.4L293.6 435.5L293.5 435.5L292.4 435.5L291.4 435.5L290.3 435.5L289.3 435.5L288.2 435.5L287.2 435.5L286.1 435.5L285.1 435.5L284.1 435.5L283 435.5L282 435.5L280.9 435.5L279.9 435.5L278.8 435.5L277.8 435.5L276.7 435.5L275.7 435.5L274.6 435.5L273.6 435.5L272.5 435.5L271.5 435.5L270.4 435.5L269.4 435.5L268.4 435.5L267.3 435.5L266.3 435.5L265.2 435.5L264.2 435.5L263.1 435.5L262.1 435.5L261 435.5L260 435.5L258.9 435.5L257.9 435.5L256.8 435.5L255.8 435.5L254.8 435.5L253.7 435.5L252.7 435.5L251.6 435.5L250.6 435.5L249.5 435.5L248.5 435.5L247.4 435.5L246.4 435.5L245.3 435.5L244.3 435.5L243.2 435.5L242.2 435.5L241.2 435.5L240.1 435.5L239.1 435.5L238 435.5L237 435.5L235.9 435.5L234.9 435.5L233.8 435.5L232.8 435.5L231.7 435.5L230.7 435.5L229.6 435.5L228.6 435.5L228.6 436.5L228.6 437.6L228.6 438.6L228.6 439.7L228.6 440.7L228.6 441.8L228.6 442.8L228.6 443.9L228.6 444.9L228.6 446L228.6 447L228.6 448.1L228.6 449.1L228.6 450.1L228.6 451.2L228.6 452.2L228.6 453.3L228.6 454.3L228.6 455.4L228.6 456.4L228.6 457.5L228.6 458.5L228.6 459.6L228.6 460.6L228.6 461.7L228.6 462.7L228.6 463.7L228.6 464.8L228.6 465.8L228.6 466.9L228.6 467.9L228.6 469L228.6 470L228.6 471.1L228.6 472.1L228.6 473.2L228.6 474.2L228.6 475.3L228.6 476.3L228.6 477.4L228.6 478.4L228.6 479.4L228.6 480.5L228.6 481.5L228.6 482.6L228.6 483.6L228.6 484.7L228.6 485.7L228.6 486.8L228.6 487.8L228.6 488.9L228.6 489.9L228.6 491L228.6 492L228.6 493L228.6 494.1L228.6 495.1L228.6 496.2L228.6 497.2L228.6 498.3L228.6 499.3L228.6 500.4L228.6 501.4L228.6 502.5L228.6 503.5L228.6 504.6L228.6 505.6L228.6 506.6L228.6 507.6L228.7 507.7L229.6 508.5L229.9 508.7L230.7 509.4L231.1 509.8L231.7 510.3L232.4 510.8L232.8 511.1L233.7 511.9L233.8 511.9L234.9 512.7L235.2 512.9L235.9 513.5L236.6 514L237 514.2L238 514.9L238.2 515L239.1 515.6L239.9 516.1L240.1 516.2L241.2 516.8L241.7 517.1L242.2 517.4L243.2 518Z" fill="#40cf7e"/><path fill-rule="evenodd" d="M262.9 516.1L263.1 516.1L264.2 516.2L265.2 516.4L266.3 516.5L267.3 516.5L268.4 516.6L269.4 516.6L270.4 516.6L271.5 516.6L272.5 516.5L273.6 516.4L274.6 516.3L275.7 516.2L276.7 516.1L276.7 516L277.8 515.9L278.8 515.6L279.9 515.4L280.9 515.1L281.2 515L282 514.8L283 514.4L284.1 514.1L284.3 514L285.1 513.6L286.1 513.2L286.7 512.9L287.2 512.7L288.2 512.1L288.7 511.9L289.3 511.6L290.3 510.9L290.5 510.8L291.4 510.2L292 509.8L292.4 509.5L293.4 508.7L293.5 508.7L294.5 507.8L294.6 507.7L295.6 506.8L295.7 506.6L296.6 505.8L296.8 505.6L297.7 504.6L297.7 504.6L298.6 503.5L298.7 503.3L299.4 502.5L299.7 501.9L300.1 501.4L300.8 500.4L300.8 500.3L301.4 499.3L301.8 498.5L302 498.3L302.5 497.2L302.9 496.4L303 496.2L303.4 495.1L303.8 494.1L303.9 493.9L304.2 493L304.6 492L304.9 491L305 490.5L305.1 489.9L305.4 488.9L305.6 487.8L305.8 486.8L305.9 485.7L306 484.7L306 484.7L306.1 483.6L306.2 482.6L306.2 481.5L306.3 480.5L306.2 479.4L306.2 478.4L306.2 477.4L306.1 476.3L306 475.8L306 475.3L305.8 474.2L305.7 473.2L305.5 472.1L305.3 471.1L305.1 470L305 469.6L304.8 469L304.6 467.9L304.3 466.9L303.9 465.8L303.9 465.8L303.6 464.8L303.2 463.7L302.9 462.8L302.8 462.7L302.4 461.7L302 460.6L301.8 460.3L301.5 459.6L301 458.5L300.8 458.1L300.5 457.5L299.9 456.4L299.7 456.1L299.4 455.4L298.7 454.3L298.7 454.3L298.1 453.3L297.7 452.6L297.4 452.2L296.7 451.2L296.6 451L296 450.1L295.6 449.5L295.2 449.1L294.5 448.1L294.4 448.1L293.6 447L293.5 446.8L292.7 446L292.4 445.6L291.8 444.9L291.4 444.4L290.8 443.9L290.3 443.3L289.8 442.8L289.3 442.3L288.8 441.8L288.2 441.3L287.7 440.7L287.2 440.3L286.5 439.7L286.1 439.4L285.2 438.6L285.1 438.5L284.1 437.7L283.9 437.6L283 436.9L282.5 436.5L282 436.1L281.1 435.5L280.9 435.5L279.9 435.5L278.8 435.5L277.8 435.5L276.7 435.5L275.7 435.5L274.6 435.5L273.6 435.5L272.5 435.5L271.5 435.5L270.4 435.5L269.4 435.5L268.4 435.5L267.3 435.5L266.3 435.5L265.2 435.5L264.2 435.5L263.1 435.5L262.1 435.5L261 435.5L260 435.5L258.9 435.5L257.9 435.5L256.8 435.5L255.8 435.5L254.8 435.5L253.7 435.5L252.7 435.5L251.6 435.5L250.6 435.5L249.5 435.5L248.5 435.5L247.4 435.5L246.4 435.5L245.3 435.5L244.3 435.5L243.2 435.5L242.2 435.5L241.2 435.5L240.1 435.5L239.1 435.5L238 435.5L237 435.5L235.9 435.5L234.9 435.5L233.8 435.5L232.8 435.5L231.7 435.5L230.7 435.5L229.6 435.5L228.6 435.5L228.6 436.5L228.6 437.6L228.6 438.6L228.6 439.7L228.6 440.7L228.6 441.8L228.6 442.8L228.6 443.9L228.6 444.9L228.6 446L228.6 447L228.6 448.1L228.6 449.1L228.6 450.1L228.6 451.2L228.6 452.2L228.6 453.3L228.6 454.3L228.6 455.4L228.6 456.4L228.6 457.5L228.6 458.5L228.6 459.6L228.6 460.6L228.6 461.7L228.6 462.7L228.6 463.7L228.6 464.8L228.6 465.8L228.6 466.9L228.6 467.9L228.6 469L228.6 470L228.6 471.1L228.6 472.1L228.6 473.2L228.6 474.2L228.6 475.3L228.6 476.3L228.6 477.4L228.6 478.4L228.6 479.4L228.6 480.5L228.6 481.5L228.6 482.6L228.6 483.6L228.6 484.7L228.6 485.7L228.6 486.8L228.6 487.8L228.6 488.9L228.6 489.9L228.6 491L228.6 492L228.6 493L228.6 494.1L228.6 495.1L228.6 496.2L228.6 496.2L229.5 497.2L229.6 497.4L230.4 498.3L230.7 498.5L231.4 499.3L231.7 499.6L232.5 500.4L232.8 500.7L233.6 501.4L233.8 501.7L234.7 502.5L234.9 502.6L235.9 503.5L235.9 503.5L237 504.3L237.2 504.6L238 505.2L238.6 505.6L239.1 506L240 506.6L240.1 506.7L241.2 507.4L241.6 507.7L242.2 508.1L243.2 508.7L243.2 508.8L244.3 509.4L245 509.8L245.3 510L246.4 510.5L247 510.8L247.4 511.1L248.5 511.6L249.1 511.9L249.5 512.1L250.6 512.5L251.5 512.9L251.6 513L252.7 513.4L253.7 513.7L254.4 514L254.8 514.1L255.8 514.4L256.8 514.7L257.8 515L257.9 515L258.9 515.3L260 515.5L261 515.7L262.1 515.9Z" fill="#00aa46"/><path fill-rule="evenodd" d="M267 505.6L267.3 505.6L268.4 505.6L268.4 505.6L269.4 505.6L270.4 505.5L271.5 505.4L272.5 505.2L273.6 505.1L274.6 504.8L275.7 504.6L275.8 504.6L276.7 504.3L277.8 503.9L278.8 503.5L278.9 503.5L279.9 503.1L280.9 502.6L281.1 502.5L282 502L283 501.4L283 501.4L284.1 500.7L284.5 500.4L285.1 499.9L285.9 499.3L286.1 499.1L287 498.3L287.2 498.1L288.1 497.2L288.2 497L289 496.2L289.3 495.8L289.8 495.1L290.3 494.4L290.6 494.1L291.2 493L291.4 492.8L291.8 492L292.4 491L292.4 490.9L292.9 489.9L293.3 488.9L293.5 488.4L293.7 487.8L294 486.8L294.3 485.7L294.5 484.8L294.5 484.7L294.7 483.6L294.9 482.6L295 481.5L295.1 480.5L295.2 479.4L295.2 478.4L295.2 477.4L295.2 476.3L295.1 475.3L295 474.2L294.9 473.2L294.7 472.1L294.5 471.1L294.5 471.1L294.3 470L294 469L293.7 467.9L293.5 467.1L293.4 466.9L293 465.8L292.6 464.8L292.4 464.2L292.2 463.7L291.8 462.7L291.4 461.9L291.3 461.7L290.8 460.6L290.3 459.8L290.2 459.6L289.6 458.5L289.3 458L289 457.5L288.3 456.4L288.2 456.4L287.6 455.4L287.2 454.9L286.8 454.3L286.1 453.5L286 453.3L285.1 452.2L285.1 452.2L284.2 451.2L284.1 451L283.2 450.1L283 449.9L282.2 449.1L282 448.9L281.1 448.1L280.9 447.9L279.9 447L279.9 447L278.8 446.1L278.6 446L277.8 445.3L277.2 444.9L276.7 444.6L275.7 443.9L275.7 443.8L274.6 443.2L274.1 442.8L273.6 442.5L272.5 441.9L272.3 441.8L271.5 441.4L270.4 440.8L270.2 440.7L269.4 440.4L268.4 439.9L267.8 439.7L267.3 439.5L266.3 439.1L265.2 438.7L264.9 438.6L264.2 438.4L263.1 438.1L262.1 437.9L261 437.6L260.9 437.6L260 437.4L258.9 437.3L257.9 437.1L256.8 437L255.8 436.9L254.8 436.9L253.7 436.9L252.7 436.9L251.6 437L250.6 437.1L249.5 437.2L248.5 437.4L247.4 437.6L247.3 437.6L246.4 437.8L245.3 438.1L244.3 438.4L243.7 438.6L243.2 438.8L242.2 439.2L241.2 439.7L241.2 439.7L240.1 440.2L239.2 440.7L239.1 440.8L238 441.5L237.6 441.8L237 442.2L236.2 442.8L235.9 443L234.9 443.9L234.9 443.9L233.9 444.9L233.8 445L232.9 446L232.8 446.1L232.1 447L231.7 447.4L231.3 448.1L230.7 448.9L230.6 449.1L230 450.1L229.6 450.7L229.4 451.2L228.9 452.2L228.6 452.9L228.6 453.3L228.6 454.3L228.6 455.4L228.6 456.4L228.6 457.5L228.6 458.5L228.6 459.6L228.6 460.6L228.6 461.7L228.6 462.7L228.6 463.7L228.6 464.8L228.6 465.8L228.6 466.9L228.6 467.9L228.6 469L228.6 470L228.6 471.1L228.6 472.1L228.6 473.2L228.6 474.2L228.6 475.3L228.6 476.3L228.6 476.7L228.8 477.4L229.2 478.4L229.6 479.4L229.7 479.4L230.2 480.5L230.7 481.5L230.7 481.6L231.2 482.6L231.7 483.5L231.8 483.6L232.4 484.7L232.8 485.2L233.1 485.7L233.8 486.8L233.8 486.8L234.6 487.8L234.9 488.2L235.4 488.9L235.9 489.6L236.2 489.9L237 490.8L237.1 491L238 492L238.1 492L239.1 493L239.1 493L240.1 494L240.2 494.1L241.2 495L241.3 495.1L242.2 495.9L242.6 496.2L243.2 496.7L243.9 497.2L244.3 497.5L245.3 498.3L245.4 498.3L246.4 499L247 499.3L247.4 499.6L248.5 500.2L248.7 500.4L249.5 500.8L250.6 501.4L250.7 501.4L251.6 501.9L252.7 502.3L252.9 502.5L253.7 502.8L254.8 503.2L255.6 503.5L255.8 503.6L256.8 503.9L257.9 504.2L258.9 504.5L259.2 504.6L260 504.7L261 505L262.1 505.1L263.1 505.3L264.2 505.4L265.2 505.5L266.3 505.6Z" fill="#008414"/><path fill-rule="evenodd" d="M258.8 487.8L258.9 487.9L260 488.1L261 488.4L262.1 488.5L263.1 488.6L264.2 488.7L265.2 488.6L266.3 488.6L267.3 488.4L268.4 488.1L269.4 487.8L269.4 487.8L270.4 487.4L271.5 486.9L271.7 486.8L272.5 486.2L273.2 485.7L273.6 485.4L274.4 484.7L274.6 484.4L275.3 483.6L275.7 483.1L276.1 482.6L276.7 481.5L276.7 481.4L277.2 480.5L277.5 479.4L277.8 478.6L277.8 478.4L278 477.4L278.2 476.3L278.3 475.3L278.3 474.2L278.2 473.2L278.1 472.1L277.9 471.1L277.8 470.6L277.6 470L277.3 469L276.9 467.9L276.7 467.4L276.5 466.9L276 465.8L275.7 465.3L275.4 464.8L274.8 463.7L274.6 463.6L274 462.7L273.6 462.2L273.2 461.7L272.5 460.9L272.2 460.6L271.5 459.9L271.2 459.6L270.4 458.9L269.9 458.5L269.4 458.1L268.5 457.5L268.4 457.4L267.3 456.7L266.8 456.4L266.3 456.1L265.2 455.6L264.7 455.4L264.2 455.2L263.1 454.8L262.1 454.5L261.5 454.3L261 454.2L260 454L258.9 453.9L257.9 453.8L256.8 453.8L255.8 453.9L254.8 454L253.7 454.2L253.3 454.3L252.7 454.5L251.6 454.9L250.6 455.4L250.6 455.4L249.5 456L248.9 456.4L248.5 456.7L247.6 457.5L247.4 457.6L246.6 458.5L246.4 458.7L245.8 459.6L245.3 460.2L245.1 460.6L244.6 461.7L244.3 462.4L244.2 462.7L243.9 463.7L243.6 464.8L243.5 465.8L243.4 466.9L243.3 467.9L243.4 469L243.5 470L243.7 471.1L243.9 472.1L244.2 473.2L244.3 473.5L244.5 474.2L245 475.3L245.3 476.1L245.4 476.3L246 477.4L246.4 478L246.6 478.4L247.3 479.4L247.4 479.6L248.1 480.5L248.5 480.9L249.1 481.5L249.5 482L250.1 482.6L250.6 483L251.2 483.6L251.6 483.9L252.6 484.7L252.7 484.7L253.7 485.4L254.2 485.7L254.8 486.1L255.8 486.6L256.1 486.8L256.8 487.1L257.9 487.5Z" fill="#005e08"/><path d="M312.3 437.2L311.8 436.5L311.3 435.8L311 435.5M308.6 519.2L309.2 518.6L309.6 518.2L310.2 517.5L310.5 517.1L311.3 516.3L311.4 516.1L312.3 515L312.3 515M228.6 516.5L229.4 517.1L229.6 517.3L230.7 518.1L230.8 518.2L231.7 518.9L232.2 519.2M312.3 448L311.7 447L311.3 446.3L311 446L310.4 444.9L310.2 444.7L309.7 443.9L309.2 443.2L308.9 442.8L308.2 441.8L308.1 441.7L307.4 440.7L307.1 440.3L306.6 439.7L306 439L305.8 438.6L305 437.7L304.9 437.6L304 436.5L303.9 436.5L303.1 435.5M295.1 519.2L295.6 518.9L296.6 518.3L296.8 518.2L297.7 517.6L298.3 517.1L298.7 516.8L299.6 516.1L299.7 516L300.8 515.1L300.9 515L301.8 514.2L302 514L302.9 513.1L303.1 512.9L303.9 512.1L304.1 511.9L305 510.9L305 510.8L305.9 509.8L306 509.6L306.7 508.7L307.1 508.2L307.4 507.7L308.1 506.7L308.1 506.6L308.8 505.6L309.2 505L309.4 504.6L310 503.5L310.2 503.1L310.5 502.5L311 501.4L311.3 500.9L311.5 500.4L311.9 499.3L312.3 498.3L312.3 498.3M228.6 507.6L228.7 507.7L229.6 508.5L229.9 508.7L230.7 509.4L231.1 509.8L231.7 510.3L232.4 510.8L232.8 511.1L233.7 511.9L233.8 511.9L234.9 512.7L235.2 512.9L235.9 513.5L236.6 514L237 514.2L238 514.9L238.2 515L239.1 515.6L239.9 516.1L240.1 516.2L241.2 516.8L241.7 517.1L242.2 517.4L243.2 518L243.6 518.2L244.3 518.5L245.3 519.1L245.6 519.2M312.3 464.7L312 463.7L311.6 462.7L311.3 461.7L311.2 461.7L310.8 460.6L310.4 459.6L310.2 459.1L310 458.5L309.5 457.5L309.2 456.8L309 456.4L308.5 455.4L308.1 454.7L307.9 454.3L307.4 453.3L307.1 452.7L306.8 452.2L306.2 451.2L306 450.9L305.6 450.1L305 449.2L304.9 449.1L304.2 448.1L303.9 447.6L303.5 447L302.9 446.1L302.8 446L302 444.9L301.8 444.7L301.2 443.9L300.8 443.3L300.4 442.8L299.7 442L299.5 441.8L298.7 440.8L298.7 440.7L297.7 439.7L297.7 439.6L296.8 438.6L296.6 438.5L295.8 437.6L295.6 437.4L294.7 436.5L294.5 436.4L293.6 435.5M228.6 496.2L229.5 497.2L229.6 497.4L230.4 498.3L230.7 498.5L231.4 499.3L231.7 499.6L232.5 500.4L232.8 500.7L233.6 501.4L233.8 501.7L234.7 502.5L234.9 502.6L235.9 503.5L235.9 503.5L237 504.3L237.2 504.6L238 505.2L238.6 505.6L239.1 506L240 506.6L240.1 506.7L241.2 507.4L241.6 507.7L242.2 508.1L243.2 508.7L243.2 508.8L244.3 509.4L245 509.8L245.3 510L246.4 510.5L247 510.8L247.4 511.1L248.5 511.6L249.1 511.9L249.5 512.1L250.6 512.5L251.5 512.9L251.6 513L252.7 513.4L253.7 513.7L254.4 514L254.8 514.1L255.8 514.4L256.8 514.7L257.8 515L257.9 515L258.9 515.3L260 515.5L261 515.7L262.1 515.9L262.9 516.1L263.1 516.1L264.2 516.2L265.2 516.4L266.3 516.5L267.3 516.5L268.4 516.6L269.4 516.6L270.4 516.6L271.5 516.6L272.5 516.5L273.6 516.4L274.6 516.3L275.7 516.2L276.7 516.1L276.7 516L277.8 515.9L278.8 515.6L279.9 515.4L280.9 515.1L281.2 515L282 514.8L283 514.4L284.1 514.1L284.3 514L285.1 513.6L286.1 513.2L286.7 512.9L287.2 512.7L288.2 512.1L288.7 511.9L289.3 511.6L290.3 510.9L290.5 510.8L291.4 510.2L292 509.8L292.4 509.5L293.4 508.7L293.5 508.7L294.5 507.8L294.6 507.7L295.6 506.8L295.7 506.6L296.6 505.8L296.8 505.6L297.7 504.6L297.7 504.6L298.6 503.5L298.7 503.3L299.4 502.5L299.7 501.9L300.1 501.4L300.8 500.4L300.8 500.3L301.4 499.3L301.8 498.5L302 498.3L302.5 497.2L302.9 496.4L303 496.2L303.4 495.1L303.8 494.1L303.9 493.9L304.2 493L304.6 492L304.9 491L305 490.5L305.1 489.9L305.4 488.9L305.6 487.8L305.8 486.8L305.9 485.7L306 484.7L306 484.7L306.1 483.6L306.2 482.6L306.2 481.5L306.3 480.5L306.2 479.4L306.2 478.4L306.2 477.4L306.1 476.3L306 475.8L306 475.3L305.8 474.2L305.7 473.2L305.5 472.1L305.3 471.1L305.1 470L305 469.6L304.8 469L304.6 467.9L304.3 466.9L303.9 465.8L303.9 465.8L303.6 464.8L303.2 463.7L302.9 462.8L302.8 462.7L302.4 461.7L302 460.6L301.8 460.3L301.5 459.6L301 458.5L300.8 458.1L300.5 457.5L299.9 456.4L299.7 456.1L299.4 455.4L298.7 454.3L298.7 454.3L298.1 453.3L297.7 452.6L297.4 452.2L296.7 451.2L296.6 451L296 450.1L295.6 449.5L295.2 449.1L294.5 448.1L294.4 448.1L293.6 447L293.5 446.8L292.7 446L292.4 445.6L291.8 444.9L291.4 444.4L290.8 443.9L290.3 443.3L289.8 442.8L289.3 442.3L288.8 441.8L288.2 441.3L287.7 440.7L287.2 440.3L286.5 439.7L286.1 439.4L285.2 438.6L285.1 438.5L284.1 437.7L283.9 437.6L283 436.9L282.5 436.5L282 436.1L281.1 435.5M228.6 476.7L228.8 477.4L229.2 478.4L229.6 479.4L229.7 479.4L230.2 480.5L230.7 481.5L230.7 481.6L231.2 482.6L231.7 483.5L231.8 483.6L232.4 484.7L232.8 485.2L233.1 485.7L233.8 486.8L233.8 486.8L234.6 487.8L234.9 488.2L235.4 488.9L235.9 489.6L236.2 489.9L237 490.8L237.1 491L238 492L238.1 492L239.1 493L239.1 493L240.1 494L240.2 494.1L241.2 495L241.3 495.1L242.2 495.9L242.6 496.2L243.2 496.7L243.9 497.2L244.3 497.5L245.3 498.3L245.4 498.3L246.4 499L247 499.3L247.4 499.6L248.5 500.2L248.7 500.4L249.5 500.8L250.6 501.4L250.7 501.4L251.6 501.9L252.7 502.3L252.9 502.5L253.7 502.8L254.8 503.2L255.6 503.5L255.8 503.6L256.8 503.9L257.9 504.2L258.9 504.5L259.2 504.6L260 504.7L261 505L262.1 505.1L263.1 505.3L264.2 505.4L265.2 505.5L266.3 505.6L267 505.6L267.3 505.6L268.4 505.6L268.4 505.6L269.4 505.6L270.4 505.5L271.5 505.4L272.5 505.2L273.6 505.1L274.6 504.8L275.7 504.6L275.8 504.6L276.7 504.3L277.8 503.9L278.8 503.5L278.9 503.5L279.9 503.1L280.9 502.6L281.1 502.5L282 502L283 501.4L283 501.4L284.1 500.7L284.5 500.4L285.1 499.9L285.9 499.3L286.1 499.1L287 498.3L287.2 498.1L288.1 497.2L288.2 497L289 496.2L289.3 495.8L289.8 495.1L290.3 494.4L290.6 494.1L291.2 493L291.4 492.8L291.8 492L292.4 491L292.4 490.9L292.9 489.9L293.3 488.9L293.5 488.4L293.7 487.8L294 486.8L294.3 485.7L294.5 484.8L294.5 484.7L294.7 483.6L294.9 482.6L295 481.5L295.1 480.5L295.2 479.4L295.2 478.4L295.2 477.4L295.2 476.3L295.1 475.3L295 474.2L294.9 473.2L294.7 472.1L294.5 471.1L294.5 471.1L294.3 470L294 469L293.7 467.9L293.5 467.1L293.4 466.9L293 465.8L292.6 464.8L292.4 464.2L292.2 463.7L291.8 462.7L291.4 461.9L291.3 461.7L290.8 460.6L290.3 459.8L290.2 459.6L289.6 458.5L289.3 458L289 457.5L288.3 456.4L288.2 456.4L287.6 455.4L287.2 454.9L286.8 454.3L286.1 453.5L286 453.3L285.1 452.2L285.1 452.2L284.2 451.2L284.1 451L283.2 450.1L283 449.9L282.2 449.1L282 448.9L281.1 448.1L280.9 447.9L279.9 447L279.9 447L278.8 446.1L278.6 446L277.8 445.3L277.2 444.9L276.7 444.6L275.7 443.9L275.7 443.8L274.6 443.2L274.1 442.8L273.6 442.5L272.5 441.9L272.3 441.8L271.5 441.4L270.4 440.8L270.2 440.7L269.4 440.4L268.4 439.9L267.8 439.7L267.3 439.5L266.3 439.1L265.2 438.7L264.9 438.6L264.2 438.4L263.1 438.1L262.1 437.9L261 437.6L260.9 437.6L260 437.4L258.9 437.3L257.9 437.1L256.8 437L255.8 436.9L254.8 436.9L253.7 436.9L252.7 436.9L251.6 437L250.6 437.1L249.5 437.2L248.5 437.4L247.4 437.6L247.3 437.6L246.4 437.8L245.3 438.1L244.3 438.4L243.7 438.6L243.2 438.8L242.2 439.2L241.2 439.7L241.2 439.7L240.1 440.2L239.2 440.7L239.1 440.8L238 441.5L237.6 441.8L237 442.2L236.2 442.8L235.9 443L234.9 443.9L234.9 443.9L233.9 444.9L233.8 445L232.9 446L232.8 446.1L232.1 447L231.7 447.4L231.3 448.1L230.7 448.9L230.6 449.1L230 450.1L229.6 450.7L229.4 451.2L228.9 452.2L228.6 452.9M258.8 487.8L258.9 487.9L260 488.1L261 488.4L262.1 488.5L263.1 488.6L264.2 488.7L265.2 488.6L266.3 488.6L267.3 488.4L268.4 488.1L269.4 487.8L269.4 487.8L270.4 487.4L271.5 486.9L271.7 486.8L272.5 486.2L273.2 485.7L273.6 485.4L274.4 484.7L274.6 484.4L275.3 483.6L275.7 483.1L276.1 482.6L276.7 481.5L276.7 481.4L277.2 480.5L277.5 479.4L277.8 478.6L277.8 478.4L278 477.4L278.2 476.3L278.3 475.3L278.3 474.2L278.2 473.2L278.1 472.1L277.9 471.1L277.8 470.6L277.6 470L277.3 469L276.9 467.9L276.7 467.4L276.5 466.9L276 465.8L275.7 465.3L275.4 464.8L274.8 463.7L274.6 463.6L274 462.7L273.6 462.2L273.2 461.7L272.5 460.9L272.2 460.6L271.5 459.9L271.2 459.6L270.4 458.9L269.9 458.5L269.4 458.1L268.5 457.5L268.4 457.4L267.3 456.7L266.8 456.4L266.3 456.1L265.2 455.6L264.7 455.4L264.2 455.2L263.1 454.8L262.1 454.5L261.5 454.3L261 454.2L260 454L258.9 453.9L257.9 453.8L256.8 453.8L255.8 453.9L254.8 454L253.7 454.2L253.3 454.3L252.7 454.5L251.6 454.9L250.6 455.4L250.6 455.4L249.5 456L248.9 456.4L248.5 456.7L247.6 457.5L247.4 457.6L246.6 458.5L246.4 458.7L245.8 459.6L245.3 460.2L245.1 460.6L244.6 461.7L244.3 462.4L244.2 462.7L243.9 463.7L243.6 464.8L243.5 465.8L243.4 466.9L243.3 467.9L243.4 469L243.5 470L243.7 471.1L243.9 472.1L244.2 473.2L244.3 473.5L244.5 474.2L245 475.3L245.3 476.1L245.4 476.3L246 477.4L246.4 478L246.6 478.4L247.3 479.4L247.4 479.6L248.1 480.5L248.5 480.9L249.1 481.5L249.5 482L250.1 482.6L250.6 483L251.2 483.6L251.6 483.9L252.6 484.7L252.7 484.7L253.7 485.4L254.2 485.7L254.8 486.1L255.8 486.6L256.1 486.8L256.8 487.1L257.9 487.5L258.8 487.8" fill="none" stroke="#0c2a14" stroke-width="0.45"/><line x1="240.86" y1="519.2" x2="240.86" y2="520.6" stroke="#999" stroke-width="0.5"/><text x="240.86" y="525.43" text-anchor="middle" font-size="4.8" fill="#505050">40</text><line x1="255.65" y1="519.2" x2="255.65" y2="520.6" stroke="#999" stroke-width="0.5"/><text x="255.65" y="525.43" text-anchor="middle" font-size="4.8" fill="#505050">50</text><line x1="270.45" y1="519.2" x2="270.45" y2="520.6" stroke="#999" stroke-width="0.5"/><text x="270.45" y="525.43" text-anchor="middle" font-size="4.8" fill="#505050">60</text><line x1="285.25" y1="519.2" x2="285.25" y2="520.6" stroke="#999" stroke-width="0.5"/><text x="285.25" y="525.43" text-anchor="middle" font-size="4.8" fill="#505050">70</text><line x1="300.04" y1="519.2" x2="300.04" y2="520.6" stroke="#999" stroke-width="0.5"/><text x="300.04" y="525.43" text-anchor="middle" font-size="4.8" fill="#505050">80</text><line x1="227.2" y1="506.94" x2="228.6" y2="506.94" stroke="#999" stroke-width="0.5"/><text x="226.7" y="509.27" text-anchor="end" font-size="4.8" fill="#505050">20</text><line x1="227.2" y1="492.15" x2="228.6" y2="492.15" stroke="#999" stroke-width="0.5"/><text x="226.7" y="494.47" text-anchor="end" font-size="4.8" fill="#505050">30</text><line x1="227.2" y1="477.35" x2="228.6" y2="477.35" stroke="#999" stroke-width="0.5"/><text x="226.7" y="479.68" text-anchor="end" font-size="4.8" fill="#505050">40</text><line x1="227.2" y1="462.55" x2="228.6" y2="462.55" stroke="#999" stroke-width="0.5"/><text x="226.7" y="464.88" text-anchor="end" font-size="4.8" fill="#505050">50</text><line x1="227.2" y1="447.76" x2="228.6" y2="447.76" stroke="#999" stroke-width="0.5"/><text x="226.7" y="450.09" text-anchor="end" font-size="4.8" fill="#505050">60</text><text x="270.95" y="533.6" text-anchor="middle" font-size="5.5" fill="#444">Concentration</text><text transform="translate(218.7 477.65) rotate(-90)" text-anchor="middle" font-size="4.5" fill="#444">SMR</text><text x="334.8" y="442" text-anchor="middle" font-size="4.6" fill="#444">Caffeine</text><rect x="317.9" y="443.95" width="4.6" height="4.3" fill="#000080"/><text x="334.9" y="447.72" text-anchor="middle" font-size="4.5" fill="#444">&lt;</text><text x="342.9" y="447.72" text-anchor="end" font-size="4.5" fill="#444">0</text><rect x="317.9" y="449.75" width="4.6" height="4.3" fill="#0a0ae0"/><text x="330.3" y="453.52" text-anchor="end" font-size="4.5" fill="#444">0</text><text x="334.9" y="453.52" text-anchor="middle" font-size="4.5" fill="#444">–</text><text x="342.9" y="453.52" text-anchor="end" font-size="4.5" fill="#444">1</text><rect x="317.9" y="455.55" width="4.6" height="4.3" fill="#5c9fe0"/><text x="330.3" y="459.32" text-anchor="end" font-size="4.5" fill="#444">1</text><text x="334.9" y="459.32" text-anchor="middle" font-size="4.5" fill="#444">–</text><text x="342.9" y="459.32" text-anchor="end" font-size="4.5" fill="#444">2</text><rect x="317.9" y="461.35" width="4.6" height="4.3" fill="#40cf7e"/><text x="330.3" y="465.12" text-anchor="end" font-size="4.5" fill="#444">2</text><text x="334.9" y="465.12" text-anchor="middle" font-size="4.5" fill="#444">–</text><text x="342.9" y="465.12" text-anchor="end" font-size="4.5" fill="#444">3</text><rect x="317.9" y="467.15" width="4.6" height="4.3" fill="#00aa46"/><text x="330.3" y="470.92" text-anchor="end" font-size="4.5" fill="#444">3</text><text x="334.9" y="470.92" text-anchor="middle" font-size="4.5" fill="#444">–</text><text x="342.9" y="470.92" text-anchor="end" font-size="4.5" fill="#444">4</text><rect x="317.9" y="472.95" width="4.6" height="4.3" fill="#008414"/><text x="330.3" y="476.72" text-anchor="end" font-size="4.5" fill="#444">4</text><text x="334.9" y="476.72" text-anchor="middle" font-size="4.5" fill="#444">–</text><text x="342.9" y="476.72" text-anchor="end" font-size="4.5" fill="#444">5</text><rect x="317.9" y="478.75" width="4.6" height="4.3" fill="#005e08"/><text x="334.9" y="482.52" text-anchor="middle" font-size="4.5" fill="#444">&gt;</text><text x="342.9" y="482.52" text-anchor="end" font-size="4.5" fill="#444">5</text></g>
</svg></body></html>
